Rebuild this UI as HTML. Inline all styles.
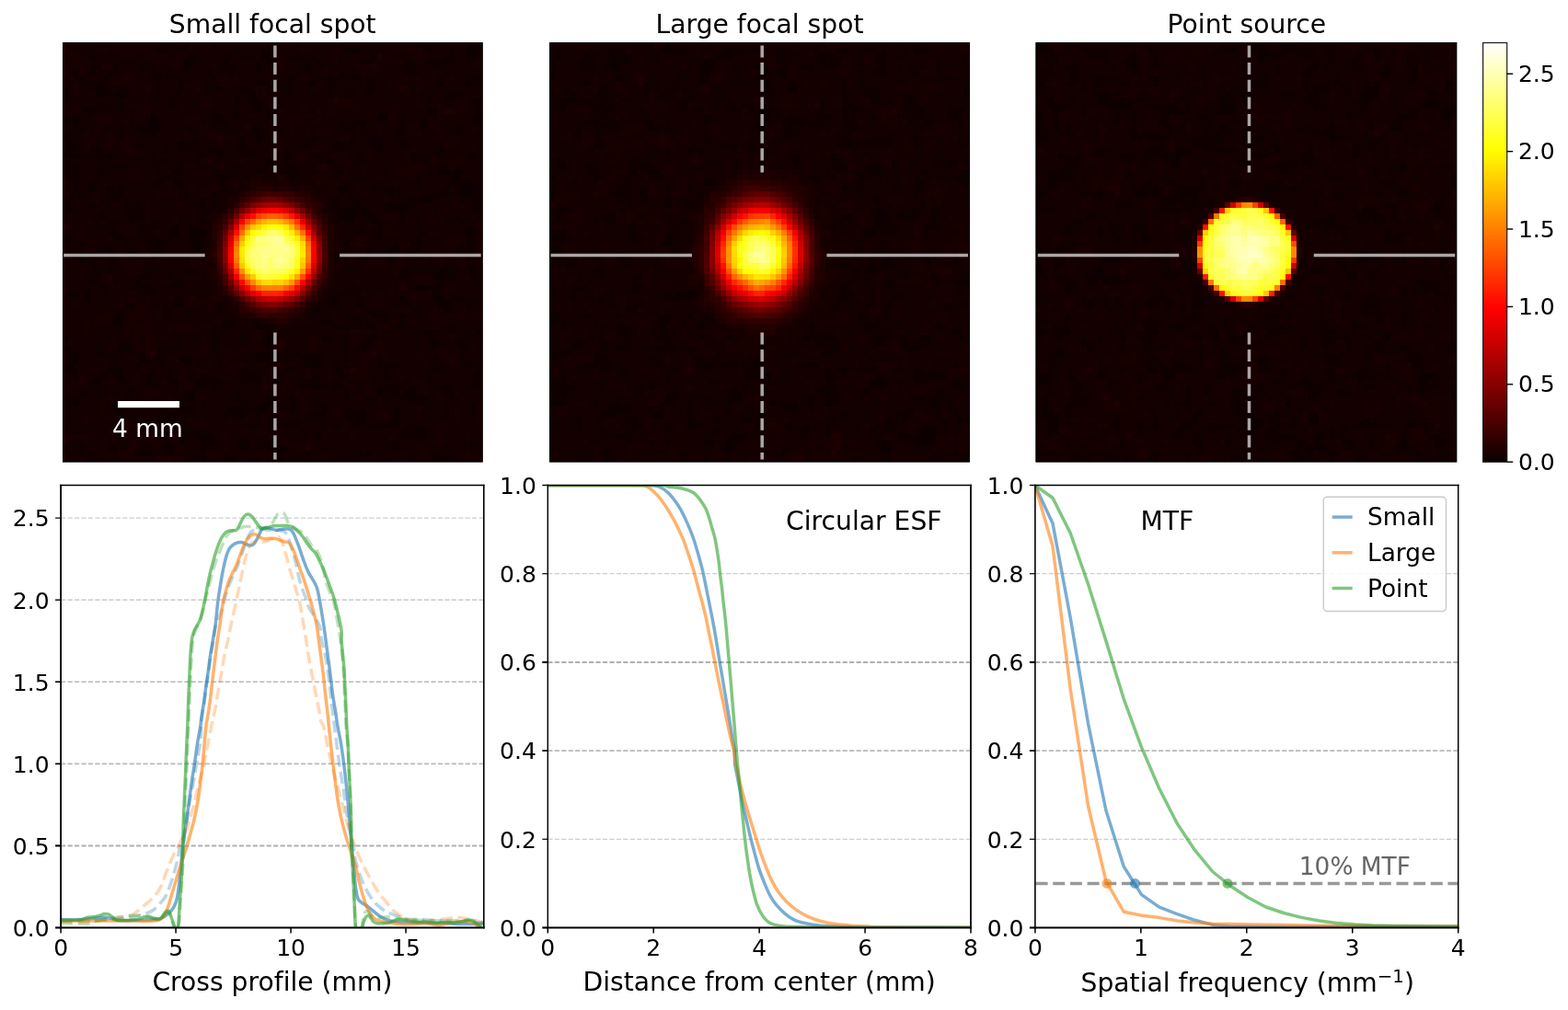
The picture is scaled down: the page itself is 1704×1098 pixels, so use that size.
<!DOCTYPE html>
<html lang="en"><head><meta charset="utf-8"><title>Focal spot comparison</title>
<style>html,body{margin:0;padding:0;background:#fff}body{width:1704px;height:1098px;overflow:hidden}svg{display:block}text{font-family:"DejaVu Sans", "Liberation Sans", sans-serif;font-variant-ligatures:none;font-feature-settings:"liga" 0,"clig" 0}</style>
</head><body>
<svg width="1704" height="1098" viewBox="0 0 1704 1098">
<defs>
<linearGradient id="hot" x1="0" y1="1" x2="0" y2="0"><stop offset="0" stop-color="#0b0000"/><stop offset="0.365079" stop-color="#ff0000"/><stop offset="0.746032" stop-color="#ffff00"/><stop offset="1" stop-color="#ffffff"/></linearGradient>
<clipPath id="cp0"><rect x="66.1" y="527.5" width="459.7" height="481"/></clipPath>
<clipPath id="cp1"><rect x="595.3" y="527.5" width="459.7" height="481"/></clipPath>
<clipPath id="cp2"><rect x="1124.9" y="527.5" width="459.8" height="481"/></clipPath>
</defs>
<rect width="1704" height="1098" fill="#fff"/>
<rect x="68" y="46.1" width="456.6" height="456.3" fill="#0a0000"/>
<g transform="translate(67.9 46.4) scale(6.00000)" shape-rendering="crispEdges">
<rect width="76" height="76" fill="#130000"/>
<path fill="#0d0000" d="M66 0h1v1h-1zM74 0h2v1h-2zM52 1h1v1h-1zM73 1h2v1h-2zM36 2h2v1h-2zM22 3h1v1h-1zM37 3h1v1h-1zM69 3h1v1h-1zM35 4h1v1h-1zM44 4h1v1h-1zM62 4h2v1h-2zM48 6h1v1h-1zM48 7h1v1h-1zM68 7h1v1h-1zM73 7h1v1h-1zM6 8h2v1h-2zM40 8h1v1h-1zM10 9h1v1h-1zM20 9h1v1h-1zM34 9h1v1h-1zM19 11h1v1h-1zM4 12h1v1h-1zM31 13h1v1h-1zM37 13h1v1h-1zM57 13h2v1h-2zM75 13h1v1h-1zM0 14h1v1h-1zM2 14h1v1h-1zM15 14h3v1h-3zM53 14h2v1h-2zM65 14h1v1h-1zM15 15h3v1h-3zM35 16h1v1h-1zM55 16h1v1h-1zM0 17h1v1h-1zM35 17h1v1h-1zM56 17h1v1h-1zM56 18h2v1h-2zM1 19h1v1h-1zM6 19h1v1h-1zM26 19h1v1h-1zM68 19h1v1h-1zM0 20h3v1h-3zM37 21h1v1h-1zM6 23h1v1h-1zM42 23h1v1h-1zM68 23h1v1h-1zM71 23h1v1h-1zM28 24h1v1h-1zM71 24h1v1h-1zM2 25h1v1h-1zM28 25h1v1h-1zM73 25h1v1h-1zM5 26h1v1h-1zM72 26h3v1h-3zM69 27h1v1h-1zM72 27h2v1h-2zM66 28h1v1h-1zM53 29h1v1h-1zM59 29h1v1h-1zM62 29h1v1h-1zM51 30h2v1h-2zM54 30h1v1h-1zM12 31h1v1h-1zM50 31h2v1h-2zM54 31h1v1h-1zM56 32h1v1h-1zM23 34h3v1h-3zM73 34h1v1h-1zM17 36h1v1h-1zM24 36h1v1h-1zM8 37h1v1h-1zM24 37h1v1h-1zM55 37h1v1h-1zM59 37h2v1h-2zM12 38h1v1h-1zM59 38h1v1h-1zM8 40h1v1h-1zM68 41h2v1h-2zM74 41h1v1h-1zM68 42h1v1h-1zM21 43h1v1h-1zM64 44h2v1h-2zM67 45h1v1h-1zM49 46h1v1h-1zM61 46h1v1h-1zM67 46h2v1h-2zM20 47h2v1h-2zM68 47h2v1h-2zM10 49h1v1h-1zM10 50h1v1h-1zM35 51h1v1h-1zM75 52h1v1h-1zM37 53h1v1h-1zM37 54h1v1h-1zM55 54h1v1h-1zM66 54h2v1h-2zM10 55h2v1h-2zM35 56h2v1h-2zM14 57h1v1h-1zM22 57h1v1h-1zM35 57h1v1h-1zM44 57h2v1h-2zM51 57h1v1h-1zM73 57h1v1h-1zM1 58h1v1h-1zM45 58h2v1h-2zM9 59h2v1h-2zM15 60h1v1h-1zM34 60h1v1h-1zM24 61h2v1h-2zM45 62h2v1h-2zM62 63h2v1h-2zM23 64h1v1h-1zM63 64h1v1h-1zM2 65h1v1h-1zM9 65h2v1h-2zM36 65h1v1h-1zM18 66h1v1h-1zM30 66h2v1h-2zM36 66h1v1h-1zM47 66h1v1h-1zM74 66h1v1h-1zM20 67h1v1h-1zM32 67h1v1h-1zM53 67h2v1h-2zM60 67h1v1h-1zM54 68h1v1h-1zM58 69h1v1h-1zM21 70h1v1h-1zM64 70h2v1h-2zM18 71h1v1h-1zM24 71h3v1h-3zM25 72h1v1h-1zM32 72h1v1h-1zM74 72h1v1h-1zM3 73h1v1h-1zM19 73h1v1h-1zM38 73h2v1h-2zM14 74h1v1h-1zM39 74h1v1h-1zM29 75h2v1h-2zM67 75h1v1h-1zM69 75h1v1h-1z"/>
<path fill="#0f0000" d="M22 0h1v1h-1zM27 0h1v1h-1zM53 1h1v1h-1zM74 2h1v1h-1zM29 3h1v1h-1zM22 4h1v1h-1zM5 5h1v1h-1zM19 5h1v1h-1zM30 5h1v1h-1zM53 6h1v1h-1zM7 7h1v1h-1zM45 7h1v1h-1zM28 8h1v1h-1zM32 8h2v1h-2zM55 8h1v1h-1zM58 8h1v1h-1zM6 9h2v1h-2zM70 9h1v1h-1zM34 10h1v1h-1zM35 11h1v1h-1zM34 12h1v1h-1zM45 12h1v1h-1zM66 12h1v1h-1zM4 13h1v1h-1zM16 13h1v1h-1zM27 13h2v1h-2zM38 13h1v1h-1zM14 15h1v1h-1zM65 15h1v1h-1zM0 16h1v1h-1zM16 16h1v1h-1zM24 16h1v1h-1zM29 16h1v1h-1zM57 17h1v1h-1zM1 18h1v1h-1zM13 18h1v1h-1zM21 18h1v1h-1zM32 18h1v1h-1zM49 18h1v1h-1zM21 19h1v1h-1zM25 19h1v1h-1zM28 19h1v1h-1zM32 19h1v1h-1zM57 19h1v1h-1zM8 20h1v1h-1zM28 20h1v1h-1zM40 20h1v1h-1zM48 21h1v1h-1zM31 22h1v1h-1zM2 23h1v1h-1zM20 23h1v1h-1zM45 23h1v1h-1zM69 23h1v1h-1zM1 24h1v1h-1zM29 24h1v1h-1zM41 24h1v1h-1zM5 25h1v1h-1zM17 25h1v1h-1zM20 25h2v1h-2zM8 26h1v1h-1zM50 26h2v1h-2zM69 26h1v1h-1zM10 27h1v1h-1zM74 27h1v1h-1zM25 28h1v1h-1zM65 28h1v1h-1zM48 29h1v1h-1zM61 29h1v1h-1zM74 29h1v1h-1zM60 30h2v1h-2zM7 31h1v1h-1zM52 31h1v1h-1zM55 31h1v1h-1zM16 33h1v1h-1zM20 33h1v1h-1zM20 34h1v1h-1zM57 34h1v1h-1zM0 35h1v1h-1zM10 35h1v1h-1zM15 35h1v1h-1zM23 35h2v1h-2zM3 36h1v1h-1zM15 36h1v1h-1zM23 36h1v1h-1zM64 36h1v1h-1zM15 37h1v1h-1zM17 37h1v1h-1zM25 37h1v1h-1zM64 37h1v1h-1zM8 38h1v1h-1zM3 39h1v1h-1zM9 40h1v1h-1zM16 40h1v1h-1zM69 40h1v1h-1zM62 41h1v1h-1zM14 42h1v1h-1zM12 43h2v1h-2zM15 44h1v1h-1zM20 44h1v1h-1zM51 44h1v1h-1zM1 45h1v1h-1zM4 45h1v1h-1zM4 46h1v1h-1zM21 46h1v1h-1zM54 46h1v1h-1zM71 46h1v1h-1zM16 47h1v1h-1zM69 48h1v1h-1zM56 49h1v1h-1zM61 49h1v1h-1zM9 50h1v1h-1zM48 50h1v1h-1zM29 51h1v1h-1zM66 52h1v1h-1zM24 53h1v1h-1zM47 53h1v1h-1zM11 54h1v1h-1zM54 54h1v1h-1zM72 54h1v1h-1zM0 55h1v1h-1zM51 55h1v1h-1zM54 55h1v1h-1zM27 56h1v1h-1zM37 56h1v1h-1zM2 57h1v1h-1zM21 57h1v1h-1zM36 57h1v1h-1zM46 57h1v1h-1zM1 59h1v1h-1zM49 59h1v1h-1zM10 60h1v1h-1zM25 60h1v1h-1zM75 60h1v1h-1zM6 61h1v1h-1zM15 61h1v1h-1zM20 61h1v1h-1zM45 61h1v1h-1zM69 62h1v1h-1zM13 63h1v1h-1zM23 63h1v1h-1zM51 63h1v1h-1zM57 63h1v1h-1zM38 64h1v1h-1zM37 65h1v1h-1zM41 65h1v1h-1zM9 66h3v1h-3zM17 66h1v1h-1zM21 66h3v1h-3zM32 66h1v1h-1zM31 67h1v1h-1zM45 67h1v1h-1zM52 67h1v1h-1zM18 68h1v1h-1zM53 68h1v1h-1zM60 68h1v1h-1zM40 69h3v1h-3zM59 69h1v1h-1zM23 70h2v1h-2zM62 70h1v1h-1zM21 71h1v1h-1zM46 71h1v1h-1zM64 71h2v1h-2zM26 72h2v1h-2zM25 73h1v1h-1zM15 74h1v1h-1zM19 74h1v1h-1zM55 74h1v1h-1zM25 75h1v1h-1z"/>
<path fill="#110000" d="M17 0h4v1h-4zM37 0h2v1h-2zM42 0h1v1h-1zM47 0h2v1h-2zM50 0h1v1h-1zM56 0h1v1h-1zM65 0h1v1h-1zM67 0h1v1h-1zM73 0h1v1h-1zM17 1h2v1h-2zM31 1h2v1h-2zM34 1h1v1h-1zM36 1h2v1h-2zM51 1h1v1h-1zM66 1h1v1h-1zM70 1h1v1h-1zM75 1h1v1h-1zM5 2h1v1h-1zM8 2h1v1h-1zM23 2h1v1h-1zM29 2h2v1h-2zM32 2h3v1h-3zM41 2h3v1h-3zM45 2h1v1h-1zM50 2h1v1h-1zM56 2h1v1h-1zM69 2h2v1h-2zM73 2h1v1h-1zM10 3h4v1h-4zM16 3h1v1h-1zM23 3h1v1h-1zM38 3h1v1h-1zM44 3h1v1h-1zM46 3h1v1h-1zM50 3h1v1h-1zM54 3h2v1h-2zM62 3h1v1h-1zM66 3h3v1h-3zM70 3h2v1h-2zM73 3h1v1h-1zM5 4h2v1h-2zM9 4h1v1h-1zM14 4h3v1h-3zM23 4h1v1h-1zM29 4h2v1h-2zM33 4h2v1h-2zM43 4h1v1h-1zM46 4h1v1h-1zM48 4h1v1h-1zM59 4h1v1h-1zM61 4h1v1h-1zM66 4h4v1h-4zM2 5h1v1h-1zM8 5h2v1h-2zM16 5h2v1h-2zM21 5h2v1h-2zM25 5h2v1h-2zM35 5h1v1h-1zM42 5h1v1h-1zM44 5h2v1h-2zM50 5h3v1h-3zM62 5h3v1h-3zM69 5h1v1h-1zM3 6h1v1h-1zM7 6h1v1h-1zM16 6h2v1h-2zM19 6h3v1h-3zM27 6h1v1h-1zM40 6h2v1h-2zM45 6h1v1h-1zM49 6h2v1h-2zM52 6h1v1h-1zM55 6h2v1h-2zM68 6h1v1h-1zM74 6h2v1h-2zM4 7h3v1h-3zM17 7h1v1h-1zM21 7h1v1h-1zM26 7h2v1h-2zM35 7h2v1h-2zM38 7h4v1h-4zM44 7h1v1h-1zM49 7h1v1h-1zM53 7h1v1h-1zM55 7h3v1h-3zM75 7h1v1h-1zM0 8h1v1h-1zM5 8h1v1h-1zM8 8h1v1h-1zM10 8h2v1h-2zM17 8h1v1h-1zM26 8h2v1h-2zM37 8h3v1h-3zM41 8h1v1h-1zM48 8h1v1h-1zM51 8h2v1h-2zM56 8h2v1h-2zM66 8h1v1h-1zM0 9h1v1h-1zM9 9h1v1h-1zM11 9h1v1h-1zM17 9h1v1h-1zM26 9h1v1h-1zM33 9h1v1h-1zM39 9h2v1h-2zM48 9h1v1h-1zM51 9h2v1h-2zM55 9h1v1h-1zM65 9h2v1h-2zM69 9h1v1h-1zM71 9h2v1h-2zM0 10h1v1h-1zM9 10h2v1h-2zM16 10h2v1h-2zM19 10h2v1h-2zM31 10h3v1h-3zM35 10h1v1h-1zM56 10h1v1h-1zM59 10h1v1h-1zM66 10h1v1h-1zM69 10h2v1h-2zM74 10h2v1h-2zM6 11h5v1h-5zM20 11h1v1h-1zM23 11h1v1h-1zM34 11h1v1h-1zM39 11h1v1h-1zM42 11h1v1h-1zM44 11h1v1h-1zM57 11h1v1h-1zM75 11h1v1h-1zM5 12h4v1h-4zM10 12h1v1h-1zM25 12h1v1h-1zM27 12h1v1h-1zM31 12h1v1h-1zM33 12h1v1h-1zM35 12h1v1h-1zM37 12h2v1h-2zM42 12h1v1h-1zM44 12h1v1h-1zM57 12h1v1h-1zM62 12h2v1h-2zM67 12h1v1h-1zM75 12h1v1h-1zM0 13h1v1h-1zM2 13h2v1h-2zM15 13h1v1h-1zM25 13h1v1h-1zM30 13h1v1h-1zM52 13h2v1h-2zM74 13h1v1h-1zM1 14h1v1h-1zM12 14h1v1h-1zM25 14h1v1h-1zM27 14h3v1h-3zM34 14h3v1h-3zM38 14h1v1h-1zM50 14h1v1h-1zM52 14h1v1h-1zM58 14h1v1h-1zM61 14h1v1h-1zM74 14h2v1h-2zM2 15h2v1h-2zM9 15h2v1h-2zM12 15h2v1h-2zM21 15h3v1h-3zM27 15h1v1h-1zM29 15h1v1h-1zM34 15h2v1h-2zM38 15h2v1h-2zM42 15h2v1h-2zM50 15h3v1h-3zM54 15h1v1h-1zM60 15h2v1h-2zM71 15h3v1h-3zM1 16h2v1h-2zM9 16h2v1h-2zM12 16h1v1h-1zM14 16h2v1h-2zM21 16h1v1h-1zM30 16h2v1h-2zM39 16h1v1h-1zM42 16h1v1h-1zM52 16h1v1h-1zM54 16h1v1h-1zM60 16h2v1h-2zM66 16h2v1h-2zM70 16h3v1h-3zM75 16h1v1h-1zM1 17h2v1h-2zM10 17h1v1h-1zM32 17h1v1h-1zM45 17h1v1h-1zM47 17h1v1h-1zM52 17h1v1h-1zM54 17h2v1h-2zM58 17h1v1h-1zM60 17h1v1h-1zM0 18h1v1h-1zM2 18h1v1h-1zM14 18h1v1h-1zM18 18h1v1h-1zM22 18h3v1h-3zM31 18h1v1h-1zM42 18h1v1h-1zM44 18h1v1h-1zM50 18h1v1h-1zM52 18h1v1h-1zM55 18h1v1h-1zM61 18h2v1h-2zM67 18h2v1h-2zM0 19h1v1h-1zM2 19h1v1h-1zM5 19h1v1h-1zM16 19h1v1h-1zM18 19h2v1h-2zM22 19h3v1h-3zM27 19h1v1h-1zM29 19h1v1h-1zM31 19h1v1h-1zM34 19h2v1h-2zM40 19h2v1h-2zM49 19h5v1h-5zM56 19h1v1h-1zM58 19h1v1h-1zM66 19h2v1h-2zM73 19h1v1h-1zM3 20h5v1h-5zM9 20h1v1h-1zM16 20h1v1h-1zM22 20h1v1h-1zM24 20h2v1h-2zM32 20h3v1h-3zM45 20h2v1h-2zM53 20h1v1h-1zM58 20h1v1h-1zM60 20h1v1h-1zM63 20h3v1h-3zM68 20h2v1h-2zM73 20h2v1h-2zM0 21h1v1h-1zM3 21h1v1h-1zM6 21h1v1h-1zM8 21h1v1h-1zM14 21h1v1h-1zM16 21h4v1h-4zM21 21h1v1h-1zM24 21h1v1h-1zM36 21h1v1h-1zM40 21h1v1h-1zM46 21h2v1h-2zM53 21h2v1h-2zM63 21h3v1h-3zM74 21h1v1h-1zM0 22h4v1h-4zM6 22h6v1h-6zM15 22h3v1h-3zM21 22h1v1h-1zM32 22h1v1h-1zM35 22h3v1h-3zM40 22h3v1h-3zM45 22h1v1h-1zM56 22h1v1h-1zM58 22h1v1h-1zM66 22h1v1h-1zM68 22h2v1h-2zM75 22h1v1h-1zM0 23h2v1h-2zM5 23h1v1h-1zM7 23h1v1h-1zM17 23h1v1h-1zM21 23h1v1h-1zM28 23h5v1h-5zM35 23h2v1h-2zM39 23h3v1h-3zM49 23h2v1h-2zM56 23h1v1h-1zM58 23h1v1h-1zM66 23h1v1h-1zM70 23h1v1h-1zM72 23h1v1h-1zM2 24h2v1h-2zM6 24h1v1h-1zM17 24h2v1h-2zM20 24h1v1h-1zM33 24h1v1h-1zM42 24h1v1h-1zM53 24h1v1h-1zM64 24h1v1h-1zM68 24h1v1h-1zM70 24h1v1h-1zM1 25h1v1h-1zM6 25h1v1h-1zM12 25h1v1h-1zM16 25h1v1h-1zM25 25h1v1h-1zM29 25h1v1h-1zM51 25h1v1h-1zM62 25h3v1h-3zM70 25h3v1h-3zM74 25h2v1h-2zM2 26h1v1h-1zM4 26h1v1h-1zM6 26h1v1h-1zM10 26h1v1h-1zM15 26h1v1h-1zM21 26h1v1h-1zM29 26h1v1h-1zM56 26h1v1h-1zM58 26h2v1h-2zM61 26h1v1h-1zM65 26h1v1h-1zM75 26h1v1h-1zM3 27h2v1h-2zM8 27h2v1h-2zM22 27h1v1h-1zM27 27h1v1h-1zM50 27h1v1h-1zM52 27h1v1h-1zM59 27h1v1h-1zM61 27h1v1h-1zM65 27h4v1h-4zM75 27h1v1h-1zM1 28h1v1h-1zM3 28h1v1h-1zM7 28h3v1h-3zM11 28h1v1h-1zM21 28h2v1h-2zM48 28h2v1h-2zM52 28h2v1h-2zM56 28h1v1h-1zM61 28h4v1h-4zM67 28h1v1h-1zM72 28h4v1h-4zM0 29h2v1h-2zM4 29h2v1h-2zM8 29h1v1h-1zM11 29h3v1h-3zM16 29h1v1h-1zM19 29h1v1h-1zM25 29h1v1h-1zM27 29h1v1h-1zM49 29h1v1h-1zM51 29h2v1h-2zM56 29h3v1h-3zM60 29h1v1h-1zM63 29h1v1h-1zM67 29h1v1h-1zM73 29h1v1h-1zM75 29h1v1h-1zM0 30h2v1h-2zM7 30h2v1h-2zM11 30h4v1h-4zM26 30h1v1h-1zM49 30h2v1h-2zM53 30h1v1h-1zM55 30h1v1h-1zM58 30h2v1h-2zM62 30h1v1h-1zM74 30h2v1h-2zM0 31h1v1h-1zM5 31h2v1h-2zM11 31h1v1h-1zM13 31h2v1h-2zM56 31h1v1h-1zM61 31h1v1h-1zM70 31h2v1h-2zM6 32h1v1h-1zM9 32h1v1h-1zM12 32h1v1h-1zM16 32h2v1h-2zM24 32h2v1h-2zM51 32h2v1h-2zM57 32h1v1h-1zM61 32h1v1h-1zM64 32h1v1h-1zM69 32h2v1h-2zM72 32h1v1h-1zM6 33h2v1h-2zM14 33h2v1h-2zM17 33h1v1h-1zM23 33h2v1h-2zM53 33h1v1h-1zM57 33h1v1h-1zM69 33h1v1h-1zM72 33h2v1h-2zM6 34h1v1h-1zM8 34h2v1h-2zM14 34h2v1h-2zM19 34h1v1h-1zM50 34h1v1h-1zM52 34h3v1h-3zM56 34h1v1h-1zM65 34h1v1h-1zM72 34h1v1h-1zM74 34h1v1h-1zM1 35h1v1h-1zM9 35h1v1h-1zM11 35h2v1h-2zM16 35h1v1h-1zM19 35h1v1h-1zM25 35h1v1h-1zM56 35h2v1h-2zM62 35h3v1h-3zM73 35h2v1h-2zM0 36h3v1h-3zM7 36h1v1h-1zM11 36h2v1h-2zM16 36h1v1h-1zM18 36h1v1h-1zM25 36h1v1h-1zM51 36h1v1h-1zM58 36h1v1h-1zM60 36h1v1h-1zM63 36h1v1h-1zM67 36h1v1h-1zM73 36h2v1h-2zM1 37h2v1h-2zM6 37h2v1h-2zM9 37h1v1h-1zM11 37h3v1h-3zM16 37h1v1h-1zM18 37h1v1h-1zM23 37h1v1h-1zM56 37h1v1h-1zM58 37h1v1h-1zM62 37h2v1h-2zM71 37h4v1h-4zM0 38h4v1h-4zM11 38h1v1h-1zM13 38h1v1h-1zM16 38h2v1h-2zM50 38h1v1h-1zM58 38h1v1h-1zM62 38h2v1h-2zM2 39h1v1h-1zM4 39h2v1h-2zM8 39h2v1h-2zM19 39h1v1h-1zM21 39h2v1h-2zM54 39h1v1h-1zM59 39h1v1h-1zM5 40h3v1h-3zM17 40h1v1h-1zM19 40h3v1h-3zM51 40h1v1h-1zM53 40h1v1h-1zM62 40h3v1h-3zM67 40h1v1h-1zM70 40h1v1h-1zM73 40h2v1h-2zM1 41h1v1h-1zM5 41h2v1h-2zM8 41h3v1h-3zM15 41h3v1h-3zM19 41h1v1h-1zM22 41h2v1h-2zM51 41h3v1h-3zM61 41h1v1h-1zM63 41h1v1h-1zM65 41h1v1h-1zM67 41h1v1h-1zM70 41h2v1h-2zM4 42h3v1h-3zM10 42h1v1h-1zM15 42h1v1h-1zM19 42h1v1h-1zM21 42h1v1h-1zM54 42h1v1h-1zM59 42h1v1h-1zM61 42h2v1h-2zM67 42h1v1h-1zM69 42h3v1h-3zM74 42h1v1h-1zM5 43h2v1h-2zM9 43h1v1h-1zM20 43h1v1h-1zM62 43h1v1h-1zM68 43h1v1h-1zM74 43h1v1h-1zM7 44h1v1h-1zM12 44h3v1h-3zM16 44h1v1h-1zM19 44h1v1h-1zM21 44h1v1h-1zM52 44h2v1h-2zM57 44h1v1h-1zM66 44h3v1h-3zM2 45h1v1h-1zM6 45h2v1h-2zM9 45h1v1h-1zM14 45h3v1h-3zM18 45h1v1h-1zM21 45h1v1h-1zM48 45h6v1h-6zM68 45h1v1h-1zM71 45h1v1h-1zM20 46h1v1h-1zM48 46h1v1h-1zM53 46h1v1h-1zM60 46h1v1h-1zM72 46h2v1h-2zM12 47h1v1h-1zM18 47h1v1h-1zM28 47h1v1h-1zM47 47h3v1h-3zM53 47h2v1h-2zM60 47h1v1h-1zM62 47h1v1h-1zM70 47h1v1h-1zM73 47h2v1h-2zM3 48h1v1h-1zM10 48h1v1h-1zM18 48h2v1h-2zM22 48h2v1h-2zM28 48h1v1h-1zM44 48h3v1h-3zM55 48h2v1h-2zM64 48h1v1h-1zM70 48h1v1h-1zM2 49h1v1h-1zM9 49h1v1h-1zM18 49h2v1h-2zM22 49h1v1h-1zM51 49h1v1h-1zM57 49h2v1h-2zM18 50h2v1h-2zM24 50h1v1h-1zM29 50h2v1h-2zM46 50h2v1h-2zM52 50h2v1h-2zM58 50h1v1h-1zM61 50h1v1h-1zM71 50h1v1h-1zM9 51h2v1h-2zM30 51h1v1h-1zM36 51h1v1h-1zM49 51h1v1h-1zM51 51h1v1h-1zM53 51h1v1h-1zM55 51h2v1h-2zM61 51h1v1h-1zM70 51h5v1h-5zM20 52h1v1h-1zM27 52h2v1h-2zM37 52h1v1h-1zM43 52h1v1h-1zM62 52h1v1h-1zM65 52h1v1h-1zM67 52h2v1h-2zM70 52h3v1h-3zM0 53h1v1h-1zM20 53h1v1h-1zM27 53h1v1h-1zM29 53h1v1h-1zM32 53h1v1h-1zM36 53h1v1h-1zM38 53h1v1h-1zM41 53h1v1h-1zM48 53h1v1h-1zM51 53h1v1h-1zM55 53h2v1h-2zM63 53h1v1h-1zM66 53h2v1h-2zM73 53h1v1h-1zM75 53h1v1h-1zM10 54h1v1h-1zM19 54h3v1h-3zM27 54h1v1h-1zM29 54h1v1h-1zM32 54h2v1h-2zM36 54h1v1h-1zM41 54h1v1h-1zM48 54h1v1h-1zM50 54h2v1h-2zM68 54h1v1h-1zM71 54h1v1h-1zM73 54h1v1h-1zM1 55h1v1h-1zM6 55h1v1h-1zM12 55h1v1h-1zM17 55h4v1h-4zM27 55h1v1h-1zM37 55h1v1h-1zM42 55h2v1h-2zM53 55h1v1h-1zM62 55h3v1h-3zM67 55h1v1h-1zM72 55h1v1h-1zM1 56h2v1h-2zM6 56h2v1h-2zM9 56h2v1h-2zM14 56h1v1h-1zM18 56h1v1h-1zM33 56h2v1h-2zM38 56h1v1h-1zM40 56h3v1h-3zM44 56h4v1h-4zM51 56h1v1h-1zM72 56h1v1h-1zM1 57h1v1h-1zM9 57h1v1h-1zM15 57h3v1h-3zM23 57h2v1h-2zM28 57h1v1h-1zM32 57h2v1h-2zM37 57h2v1h-2zM40 57h2v1h-2zM43 57h1v1h-1zM49 57h1v1h-1zM57 57h1v1h-1zM67 57h1v1h-1zM72 57h1v1h-1zM74 57h1v1h-1zM0 58h1v1h-1zM5 58h1v1h-1zM8 58h3v1h-3zM12 58h2v1h-2zM16 58h2v1h-2zM22 58h1v1h-1zM24 58h1v1h-1zM28 58h1v1h-1zM34 58h1v1h-1zM37 58h1v1h-1zM43 58h2v1h-2zM49 58h1v1h-1zM57 58h5v1h-5zM67 58h2v1h-2zM72 58h4v1h-4zM0 59h1v1h-1zM2 59h1v1h-1zM8 59h1v1h-1zM19 59h1v1h-1zM32 59h2v1h-2zM40 59h1v1h-1zM45 59h1v1h-1zM50 59h1v1h-1zM58 59h1v1h-1zM67 59h2v1h-2zM75 59h1v1h-1zM2 60h1v1h-1zM6 60h2v1h-2zM9 60h1v1h-1zM16 60h2v1h-2zM19 60h1v1h-1zM23 60h1v1h-1zM26 60h2v1h-2zM32 60h2v1h-2zM35 60h1v1h-1zM39 60h1v1h-1zM45 60h2v1h-2zM50 60h1v1h-1zM56 60h1v1h-1zM58 60h2v1h-2zM66 60h1v1h-1zM74 60h1v1h-1zM5 61h1v1h-1zM10 61h2v1h-2zM16 61h1v1h-1zM19 61h1v1h-1zM26 61h3v1h-3zM30 61h1v1h-1zM32 61h4v1h-4zM38 61h2v1h-2zM43 61h2v1h-2zM46 61h2v1h-2zM49 61h1v1h-1zM56 61h2v1h-2zM60 61h1v1h-1zM62 61h1v1h-1zM66 61h1v1h-1zM74 61h2v1h-2zM7 62h1v1h-1zM10 62h2v1h-2zM16 62h1v1h-1zM20 62h1v1h-1zM24 62h2v1h-2zM27 62h1v1h-1zM43 62h1v1h-1zM47 62h1v1h-1zM49 62h2v1h-2zM53 62h1v1h-1zM57 62h5v1h-5zM63 62h1v1h-1zM66 62h3v1h-3zM70 62h1v1h-1zM74 62h2v1h-2zM3 63h2v1h-2zM6 63h2v1h-2zM9 63h1v1h-1zM11 63h2v1h-2zM20 63h1v1h-1zM22 63h1v1h-1zM31 63h2v1h-2zM58 63h3v1h-3zM67 63h1v1h-1zM69 63h2v1h-2zM0 64h3v1h-3zM6 64h1v1h-1zM11 64h3v1h-3zM22 64h1v1h-1zM31 64h3v1h-3zM37 64h1v1h-1zM41 64h1v1h-1zM45 64h1v1h-1zM51 64h1v1h-1zM55 64h2v1h-2zM58 64h1v1h-1zM61 64h2v1h-2zM64 64h2v1h-2zM67 64h1v1h-1zM1 65h1v1h-1zM11 65h1v1h-1zM14 65h2v1h-2zM18 65h1v1h-1zM21 65h1v1h-1zM23 65h1v1h-1zM25 65h1v1h-1zM27 65h1v1h-1zM32 65h4v1h-4zM38 65h3v1h-3zM42 65h1v1h-1zM45 65h3v1h-3zM55 65h1v1h-1zM60 65h1v1h-1zM63 65h4v1h-4zM69 65h1v1h-1zM71 65h4v1h-4zM4 66h2v1h-2zM25 66h1v1h-1zM27 66h1v1h-1zM33 66h3v1h-3zM41 66h1v1h-1zM48 66h1v1h-1zM51 66h4v1h-4zM60 66h1v1h-1zM65 66h2v1h-2zM69 66h1v1h-1zM72 66h2v1h-2zM1 67h1v1h-1zM10 67h2v1h-2zM17 67h1v1h-1zM19 67h1v1h-1zM21 67h3v1h-3zM28 67h3v1h-3zM35 67h1v1h-1zM46 67h2v1h-2zM51 67h1v1h-1zM61 67h1v1h-1zM65 67h1v1h-1zM69 67h1v1h-1zM73 67h2v1h-2zM1 68h2v1h-2zM9 68h1v1h-1zM17 68h1v1h-1zM19 68h2v1h-2zM26 68h1v1h-1zM38 68h1v1h-1zM41 68h2v1h-2zM44 68h4v1h-4zM52 68h1v1h-1zM55 68h1v1h-1zM59 68h1v1h-1zM63 68h1v1h-1zM65 68h2v1h-2zM68 68h1v1h-1zM73 68h1v1h-1zM0 69h1v1h-1zM3 69h1v1h-1zM5 69h1v1h-1zM9 69h1v1h-1zM18 69h5v1h-5zM33 69h3v1h-3zM37 69h1v1h-1zM49 69h1v1h-1zM52 69h2v1h-2zM55 69h3v1h-3zM60 69h1v1h-1zM62 69h3v1h-3zM0 70h1v1h-1zM2 70h1v1h-1zM7 70h1v1h-1zM18 70h1v1h-1zM22 70h1v1h-1zM25 70h2v1h-2zM43 70h1v1h-1zM46 70h1v1h-1zM54 70h1v1h-1zM61 70h1v1h-1zM63 70h1v1h-1zM66 70h1v1h-1zM72 70h1v1h-1zM75 70h1v1h-1zM10 71h1v1h-1zM17 71h1v1h-1zM22 71h2v1h-2zM27 71h1v1h-1zM32 71h1v1h-1zM38 71h1v1h-1zM43 71h1v1h-1zM45 71h1v1h-1zM51 71h1v1h-1zM58 71h1v1h-1zM61 71h3v1h-3zM70 71h1v1h-1zM8 72h1v1h-1zM11 72h1v1h-1zM21 72h2v1h-2zM24 72h1v1h-1zM28 72h1v1h-1zM31 72h1v1h-1zM33 72h1v1h-1zM36 72h3v1h-3zM46 72h1v1h-1zM49 72h1v1h-1zM51 72h1v1h-1zM57 72h5v1h-5zM0 73h1v1h-1zM8 73h2v1h-2zM14 73h2v1h-2zM18 73h1v1h-1zM27 73h1v1h-1zM32 73h2v1h-2zM37 73h1v1h-1zM40 73h1v1h-1zM47 73h2v1h-2zM52 73h2v1h-2zM55 73h2v1h-2zM59 73h4v1h-4zM69 73h2v1h-2zM72 73h1v1h-1zM1 74h1v1h-1zM3 74h1v1h-1zM5 74h1v1h-1zM13 74h1v1h-1zM16 74h1v1h-1zM25 74h1v1h-1zM29 74h1v1h-1zM38 74h1v1h-1zM40 74h1v1h-1zM43 74h2v1h-2zM52 74h3v1h-3zM63 74h1v1h-1zM67 74h3v1h-3zM5 75h2v1h-2zM16 75h1v1h-1zM23 75h2v1h-2zM31 75h1v1h-1zM34 75h2v1h-2zM39 75h1v1h-1zM41 75h3v1h-3zM49 75h4v1h-4zM59 75h1v1h-1zM63 75h1v1h-1zM68 75h1v1h-1zM70 75h1v1h-1z"/>
<path fill="#150000" d="M0 0h1v1h-1zM2 0h2v1h-2zM6 0h3v1h-3zM12 0h5v1h-5zM21 0h1v1h-1zM23 0h4v1h-4zM28 0h3v1h-3zM32 0h2v1h-2zM39 0h1v1h-1zM41 0h1v1h-1zM43 0h1v1h-1zM51 0h1v1h-1zM55 0h1v1h-1zM57 0h1v1h-1zM60 0h3v1h-3zM64 0h1v1h-1zM68 0h1v1h-1zM70 0h1v1h-1zM1 1h4v1h-4zM8 1h2v1h-2zM16 1h1v1h-1zM19 1h3v1h-3zM23 1h2v1h-2zM26 1h3v1h-3zM30 1h1v1h-1zM33 1h1v1h-1zM38 1h1v1h-1zM40 1h1v1h-1zM42 1h1v1h-1zM46 1h3v1h-3zM54 1h1v1h-1zM67 1h3v1h-3zM72 1h1v1h-1zM0 2h1v1h-1zM4 2h1v1h-1zM6 2h1v1h-1zM9 2h2v1h-2zM13 2h2v1h-2zM19 2h1v1h-1zM25 2h1v1h-1zM27 2h2v1h-2zM35 2h1v1h-1zM44 2h1v1h-1zM47 2h2v1h-2zM51 2h5v1h-5zM59 2h1v1h-1zM61 2h2v1h-2zM66 2h3v1h-3zM71 2h2v1h-2zM75 2h1v1h-1zM0 3h1v1h-1zM5 3h2v1h-2zM14 3h2v1h-2zM24 3h1v1h-1zM26 3h2v1h-2zM30 3h3v1h-3zM34 3h1v1h-1zM40 3h1v1h-1zM48 3h1v1h-1zM51 3h1v1h-1zM53 3h1v1h-1zM56 3h1v1h-1zM65 3h1v1h-1zM72 3h1v1h-1zM74 3h1v1h-1zM0 4h3v1h-3zM4 4h1v1h-1zM10 4h4v1h-4zM17 4h3v1h-3zM21 4h1v1h-1zM25 4h2v1h-2zM31 4h2v1h-2zM38 4h1v1h-1zM40 4h3v1h-3zM45 4h1v1h-1zM47 4h1v1h-1zM49 4h2v1h-2zM52 4h1v1h-1zM57 4h1v1h-1zM60 4h1v1h-1zM64 4h2v1h-2zM70 4h3v1h-3zM4 5h1v1h-1zM6 5h2v1h-2zM10 5h1v1h-1zM13 5h2v1h-2zM20 5h1v1h-1zM23 5h2v1h-2zM28 5h2v1h-2zM31 5h2v1h-2zM34 5h1v1h-1zM36 5h6v1h-6zM48 5h1v1h-1zM53 5h1v1h-1zM57 5h1v1h-1zM59 5h3v1h-3zM65 5h3v1h-3zM70 5h6v1h-6zM5 6h2v1h-2zM13 6h1v1h-1zM15 6h1v1h-1zM18 6h1v1h-1zM23 6h4v1h-4zM30 6h1v1h-1zM32 6h1v1h-1zM34 6h5v1h-5zM44 6h1v1h-1zM46 6h1v1h-1zM54 6h1v1h-1zM57 6h2v1h-2zM60 6h1v1h-1zM63 6h1v1h-1zM65 6h1v1h-1zM69 6h1v1h-1zM71 6h1v1h-1zM0 7h2v1h-2zM3 7h1v1h-1zM8 7h1v1h-1zM11 7h1v1h-1zM13 7h1v1h-1zM16 7h1v1h-1zM19 7h1v1h-1zM22 7h2v1h-2zM25 7h1v1h-1zM28 7h1v1h-1zM32 7h1v1h-1zM42 7h2v1h-2zM51 7h1v1h-1zM58 7h1v1h-1zM60 7h4v1h-4zM67 7h1v1h-1zM70 7h2v1h-2zM3 8h2v1h-2zM16 8h1v1h-1zM18 8h3v1h-3zM25 8h1v1h-1zM29 8h3v1h-3zM44 8h1v1h-1zM47 8h1v1h-1zM59 8h1v1h-1zM65 8h1v1h-1zM67 8h6v1h-6zM75 8h1v1h-1zM1 9h1v1h-1zM3 9h2v1h-2zM14 9h1v1h-1zM16 9h1v1h-1zM18 9h1v1h-1zM22 9h1v1h-1zM24 9h2v1h-2zM27 9h4v1h-4zM35 9h1v1h-1zM37 9h2v1h-2zM41 9h2v1h-2zM45 9h2v1h-2zM49 9h1v1h-1zM56 9h1v1h-1zM59 9h3v1h-3zM63 9h1v1h-1zM67 9h2v1h-2zM73 9h2v1h-2zM2 10h5v1h-5zM8 10h1v1h-1zM12 10h2v1h-2zM15 10h1v1h-1zM18 10h1v1h-1zM21 10h4v1h-4zM27 10h2v1h-2zM36 10h3v1h-3zM40 10h7v1h-7zM53 10h1v1h-1zM55 10h1v1h-1zM58 10h1v1h-1zM60 10h1v1h-1zM62 10h2v1h-2zM65 10h1v1h-1zM68 10h1v1h-1zM71 10h1v1h-1zM0 11h2v1h-2zM3 11h1v1h-1zM5 11h1v1h-1zM16 11h3v1h-3zM22 11h1v1h-1zM24 11h1v1h-1zM29 11h2v1h-2zM32 11h2v1h-2zM36 11h1v1h-1zM40 11h1v1h-1zM50 11h1v1h-1zM54 11h3v1h-3zM58 11h1v1h-1zM62 11h2v1h-2zM65 11h1v1h-1zM67 11h1v1h-1zM69 11h2v1h-2zM73 11h1v1h-1zM0 12h1v1h-1zM9 12h1v1h-1zM11 12h3v1h-3zM16 12h5v1h-5zM22 12h3v1h-3zM26 12h1v1h-1zM30 12h1v1h-1zM32 12h1v1h-1zM40 12h2v1h-2zM47 12h1v1h-1zM50 12h3v1h-3zM54 12h2v1h-2zM64 12h2v1h-2zM73 12h2v1h-2zM1 13h1v1h-1zM5 13h1v1h-1zM9 13h3v1h-3zM17 13h1v1h-1zM19 13h3v1h-3zM32 13h1v1h-1zM35 13h2v1h-2zM39 13h2v1h-2zM48 13h4v1h-4zM56 13h1v1h-1zM60 13h1v1h-1zM62 13h2v1h-2zM66 13h1v1h-1zM69 13h1v1h-1zM72 13h2v1h-2zM8 14h1v1h-1zM10 14h1v1h-1zM14 14h1v1h-1zM18 14h4v1h-4zM32 14h1v1h-1zM40 14h1v1h-1zM43 14h2v1h-2zM47 14h3v1h-3zM55 14h2v1h-2zM60 14h1v1h-1zM62 14h3v1h-3zM66 14h1v1h-1zM68 14h6v1h-6zM1 15h1v1h-1zM5 15h1v1h-1zM7 15h1v1h-1zM11 15h1v1h-1zM24 15h1v1h-1zM26 15h1v1h-1zM28 15h1v1h-1zM32 15h1v1h-1zM37 15h1v1h-1zM40 15h1v1h-1zM46 15h4v1h-4zM55 15h2v1h-2zM64 15h1v1h-1zM66 15h1v1h-1zM69 15h1v1h-1zM75 15h1v1h-1zM3 16h1v1h-1zM5 16h1v1h-1zM7 16h1v1h-1zM11 16h1v1h-1zM13 16h1v1h-1zM18 16h1v1h-1zM20 16h1v1h-1zM28 16h1v1h-1zM33 16h1v1h-1zM37 16h2v1h-2zM40 16h1v1h-1zM43 16h1v1h-1zM45 16h1v1h-1zM49 16h3v1h-3zM58 16h1v1h-1zM62 16h1v1h-1zM65 16h1v1h-1zM69 16h1v1h-1zM73 16h2v1h-2zM6 17h2v1h-2zM13 17h2v1h-2zM17 17h2v1h-2zM21 17h1v1h-1zM23 17h2v1h-2zM26 17h1v1h-1zM31 17h1v1h-1zM34 17h1v1h-1zM37 17h2v1h-2zM42 17h2v1h-2zM48 17h2v1h-2zM59 17h1v1h-1zM62 17h2v1h-2zM65 17h3v1h-3zM69 17h1v1h-1zM72 17h4v1h-4zM3 18h1v1h-1zM9 18h1v1h-1zM12 18h1v1h-1zM25 18h1v1h-1zM28 18h3v1h-3zM33 18h1v1h-1zM38 18h3v1h-3zM45 18h1v1h-1zM47 18h2v1h-2zM53 18h2v1h-2zM58 18h1v1h-1zM63 18h4v1h-4zM71 18h3v1h-3zM75 18h1v1h-1zM3 19h1v1h-1zM7 19h2v1h-2zM10 19h1v1h-1zM13 19h1v1h-1zM17 19h1v1h-1zM36 19h2v1h-2zM43 19h2v1h-2zM48 19h1v1h-1zM55 19h1v1h-1zM59 19h2v1h-2zM62 19h1v1h-1zM64 19h2v1h-2zM69 19h4v1h-4zM75 19h1v1h-1zM10 20h2v1h-2zM13 20h1v1h-1zM18 20h1v1h-1zM21 20h1v1h-1zM23 20h1v1h-1zM26 20h2v1h-2zM30 20h1v1h-1zM36 20h4v1h-4zM41 20h1v1h-1zM44 20h1v1h-1zM47 20h2v1h-2zM56 20h1v1h-1zM59 20h1v1h-1zM61 20h1v1h-1zM67 20h1v1h-1zM70 20h3v1h-3zM75 20h1v1h-1zM4 21h1v1h-1zM9 21h5v1h-5zM20 21h1v1h-1zM23 21h1v1h-1zM27 21h5v1h-5zM33 21h3v1h-3zM38 21h1v1h-1zM44 21h1v1h-1zM49 21h1v1h-1zM55 21h7v1h-7zM68 21h2v1h-2zM73 21h1v1h-1zM75 21h1v1h-1zM4 22h2v1h-2zM12 22h3v1h-3zM20 22h1v1h-1zM25 22h2v1h-2zM29 22h2v1h-2zM33 22h2v1h-2zM38 22h2v1h-2zM49 22h2v1h-2zM52 22h1v1h-1zM55 22h1v1h-1zM59 22h1v1h-1zM67 22h1v1h-1zM72 22h3v1h-3zM4 23h1v1h-1zM10 23h2v1h-2zM15 23h1v1h-1zM23 23h1v1h-1zM34 23h1v1h-1zM37 23h2v1h-2zM43 23h2v1h-2zM52 23h1v1h-1zM55 23h1v1h-1zM59 23h1v1h-1zM65 23h1v1h-1zM73 23h2v1h-2zM0 24h1v1h-1zM4 24h1v1h-1zM7 24h4v1h-4zM14 24h1v1h-1zM21 24h7v1h-7zM30 24h3v1h-3zM34 24h1v1h-1zM36 24h3v1h-3zM43 24h2v1h-2zM48 24h2v1h-2zM52 24h1v1h-1zM54 24h2v1h-2zM59 24h4v1h-4zM65 24h1v1h-1zM67 24h1v1h-1zM69 24h1v1h-1zM74 24h2v1h-2zM4 25h1v1h-1zM7 25h2v1h-2zM10 25h2v1h-2zM13 25h3v1h-3zM18 25h1v1h-1zM22 25h1v1h-1zM24 25h1v1h-1zM27 25h1v1h-1zM43 25h3v1h-3zM50 25h1v1h-1zM55 25h5v1h-5zM61 25h1v1h-1zM66 25h1v1h-1zM68 25h1v1h-1zM0 26h2v1h-2zM12 26h3v1h-3zM16 26h3v1h-3zM20 26h1v1h-1zM22 26h1v1h-1zM24 26h2v1h-2zM28 26h1v1h-1zM30 26h1v1h-1zM32 26h1v1h-1zM45 26h3v1h-3zM52 26h1v1h-1zM55 26h1v1h-1zM57 26h1v1h-1zM60 26h1v1h-1zM62 26h2v1h-2zM66 26h3v1h-3zM71 26h1v1h-1zM5 27h1v1h-1zM12 27h5v1h-5zM23 27h2v1h-2zM29 27h3v1h-3zM46 27h1v1h-1zM49 27h1v1h-1zM51 27h1v1h-1zM53 27h1v1h-1zM55 27h1v1h-1zM57 27h1v1h-1zM62 27h1v1h-1zM64 27h1v1h-1zM70 27h2v1h-2zM0 28h1v1h-1zM2 28h1v1h-1zM5 28h1v1h-1zM10 28h1v1h-1zM12 28h5v1h-5zM18 28h3v1h-3zM23 28h1v1h-1zM26 28h1v1h-1zM28 28h2v1h-2zM50 28h2v1h-2zM54 28h2v1h-2zM57 28h1v1h-1zM59 28h2v1h-2zM68 28h2v1h-2zM2 29h2v1h-2zM6 29h1v1h-1zM10 29h1v1h-1zM17 29h2v1h-2zM20 29h1v1h-1zM22 29h2v1h-2zM26 29h1v1h-1zM28 29h2v1h-2zM50 29h1v1h-1zM55 29h1v1h-1zM65 29h1v1h-1zM69 29h2v1h-2zM2 30h2v1h-2zM6 30h1v1h-1zM9 30h1v1h-1zM16 30h1v1h-1zM19 30h2v1h-2zM22 30h1v1h-1zM24 30h1v1h-1zM27 30h2v1h-2zM48 30h1v1h-1zM56 30h2v1h-2zM63 30h5v1h-5zM70 30h4v1h-4zM2 31h3v1h-3zM9 31h1v1h-1zM16 31h2v1h-2zM19 31h1v1h-1zM22 31h1v1h-1zM24 31h1v1h-1zM57 31h1v1h-1zM60 31h1v1h-1zM62 31h1v1h-1zM64 31h1v1h-1zM67 31h1v1h-1zM72 31h2v1h-2zM75 31h1v1h-1zM0 32h1v1h-1zM3 32h1v1h-1zM5 32h1v1h-1zM7 32h1v1h-1zM10 32h1v1h-1zM13 32h2v1h-2zM19 32h1v1h-1zM26 32h1v1h-1zM49 32h1v1h-1zM54 32h2v1h-2zM58 32h3v1h-3zM63 32h1v1h-1zM65 32h1v1h-1zM71 32h1v1h-1zM73 32h2v1h-2zM2 33h3v1h-3zM13 33h1v1h-1zM19 33h1v1h-1zM21 33h1v1h-1zM26 33h1v1h-1zM50 33h3v1h-3zM56 33h1v1h-1zM60 33h5v1h-5zM66 33h3v1h-3zM70 33h2v1h-2zM74 33h1v1h-1zM0 34h2v1h-2zM7 34h1v1h-1zM13 34h1v1h-1zM16 34h1v1h-1zM18 34h1v1h-1zM21 34h2v1h-2zM26 34h1v1h-1zM51 34h1v1h-1zM55 34h1v1h-1zM61 34h2v1h-2zM69 34h3v1h-3zM75 34h1v1h-1zM4 35h4v1h-4zM13 35h1v1h-1zM18 35h1v1h-1zM21 35h2v1h-2zM26 35h1v1h-1zM50 35h2v1h-2zM55 35h1v1h-1zM58 35h4v1h-4zM66 35h3v1h-3zM6 36h1v1h-1zM9 36h2v1h-2zM13 36h2v1h-2zM19 36h1v1h-1zM21 36h1v1h-1zM26 36h1v1h-1zM55 36h3v1h-3zM59 36h1v1h-1zM65 36h2v1h-2zM72 36h1v1h-1zM0 37h1v1h-1zM14 37h1v1h-1zM19 37h1v1h-1zM21 37h2v1h-2zM50 37h4v1h-4zM57 37h1v1h-1zM61 37h1v1h-1zM65 37h3v1h-3zM69 37h2v1h-2zM75 37h1v1h-1zM7 38h1v1h-1zM10 38h1v1h-1zM15 38h1v1h-1zM19 38h4v1h-4zM24 38h1v1h-1zM51 38h1v1h-1zM53 38h2v1h-2zM56 38h1v1h-1zM61 38h1v1h-1zM64 38h2v1h-2zM68 38h2v1h-2zM71 38h1v1h-1zM0 39h1v1h-1zM7 39h1v1h-1zM10 39h4v1h-4zM16 39h1v1h-1zM18 39h1v1h-1zM20 39h1v1h-1zM24 39h1v1h-1zM26 39h1v1h-1zM49 39h3v1h-3zM55 39h1v1h-1zM57 39h2v1h-2zM60 39h1v1h-1zM63 39h2v1h-2zM66 39h1v1h-1zM69 39h3v1h-3zM75 39h1v1h-1zM0 40h1v1h-1zM2 40h2v1h-2zM13 40h3v1h-3zM22 40h1v1h-1zM24 40h1v1h-1zM26 40h1v1h-1zM54 40h1v1h-1zM56 40h1v1h-1zM59 40h1v1h-1zM61 40h1v1h-1zM66 40h1v1h-1zM75 40h1v1h-1zM0 41h1v1h-1zM2 41h1v1h-1zM4 41h1v1h-1zM18 41h1v1h-1zM20 41h2v1h-2zM24 41h1v1h-1zM49 41h2v1h-2zM54 41h3v1h-3zM64 41h1v1h-1zM66 41h1v1h-1zM72 41h1v1h-1zM0 42h1v1h-1zM2 42h2v1h-2zM11 42h3v1h-3zM16 42h2v1h-2zM20 42h1v1h-1zM22 42h1v1h-1zM25 42h1v1h-1zM50 42h4v1h-4zM55 42h1v1h-1zM57 42h2v1h-2zM60 42h1v1h-1zM63 42h1v1h-1zM75 42h1v1h-1zM1 43h4v1h-4zM7 43h1v1h-1zM11 43h1v1h-1zM15 43h3v1h-3zM19 43h1v1h-1zM22 43h2v1h-2zM25 43h2v1h-2zM49 43h4v1h-4zM54 43h1v1h-1zM56 43h5v1h-5zM63 43h2v1h-2zM67 43h1v1h-1zM69 43h4v1h-4zM75 43h1v1h-1zM1 44h3v1h-3zM5 44h1v1h-1zM9 44h1v1h-1zM11 44h1v1h-1zM17 44h2v1h-2zM25 44h2v1h-2zM55 44h1v1h-1zM60 44h1v1h-1zM71 44h5v1h-5zM3 45h1v1h-1zM5 45h1v1h-1zM10 45h2v1h-2zM13 45h1v1h-1zM17 45h1v1h-1zM19 45h2v1h-2zM22 45h5v1h-5zM55 45h2v1h-2zM58 45h1v1h-1zM60 45h3v1h-3zM64 45h2v1h-2zM69 45h1v1h-1zM72 45h3v1h-3zM0 46h1v1h-1zM2 46h2v1h-2zM5 46h1v1h-1zM8 46h2v1h-2zM11 46h1v1h-1zM13 46h2v1h-2zM16 46h3v1h-3zM24 46h1v1h-1zM47 46h1v1h-1zM50 46h2v1h-2zM55 46h1v1h-1zM58 46h2v1h-2zM65 46h2v1h-2zM74 46h1v1h-1zM1 47h1v1h-1zM3 47h6v1h-6zM13 47h1v1h-1zM17 47h1v1h-1zM25 47h2v1h-2zM29 47h1v1h-1zM50 47h3v1h-3zM55 47h1v1h-1zM59 47h1v1h-1zM63 47h2v1h-2zM66 47h1v1h-1zM71 47h2v1h-2zM0 48h3v1h-3zM6 48h4v1h-4zM11 48h2v1h-2zM20 48h1v1h-1zM24 48h2v1h-2zM27 48h1v1h-1zM29 48h1v1h-1zM48 48h1v1h-1zM50 48h3v1h-3zM54 48h1v1h-1zM57 48h3v1h-3zM65 48h1v1h-1zM68 48h1v1h-1zM71 48h1v1h-1zM74 48h2v1h-2zM0 49h1v1h-1zM4 49h1v1h-1zM6 49h1v1h-1zM11 49h1v1h-1zM16 49h1v1h-1zM20 49h2v1h-2zM23 49h2v1h-2zM27 49h5v1h-5zM46 49h2v1h-2zM50 49h1v1h-1zM53 49h1v1h-1zM59 49h2v1h-2zM62 49h1v1h-1zM64 49h2v1h-2zM69 49h1v1h-1zM73 49h1v1h-1zM0 50h4v1h-4zM5 50h1v1h-1zM11 50h1v1h-1zM13 50h2v1h-2zM16 50h2v1h-2zM20 50h1v1h-1zM22 50h2v1h-2zM25 50h2v1h-2zM32 50h4v1h-4zM45 50h1v1h-1zM51 50h1v1h-1zM55 50h3v1h-3zM64 50h2v1h-2zM70 50h1v1h-1zM72 50h4v1h-4zM0 51h1v1h-1zM2 51h2v1h-2zM5 51h3v1h-3zM11 51h1v1h-1zM16 51h1v1h-1zM24 51h1v1h-1zM27 51h1v1h-1zM31 51h2v1h-2zM38 51h1v1h-1zM41 51h5v1h-5zM48 51h1v1h-1zM60 51h1v1h-1zM62 51h2v1h-2zM65 51h2v1h-2zM69 51h1v1h-1zM75 51h1v1h-1zM2 52h2v1h-2zM5 52h3v1h-3zM9 52h2v1h-2zM12 52h1v1h-1zM16 52h1v1h-1zM18 52h2v1h-2zM21 52h4v1h-4zM30 52h2v1h-2zM33 52h1v1h-1zM36 52h1v1h-1zM38 52h2v1h-2zM42 52h1v1h-1zM45 52h1v1h-1zM47 52h3v1h-3zM51 52h1v1h-1zM58 52h4v1h-4zM69 52h1v1h-1zM1 53h2v1h-2zM4 53h4v1h-4zM9 53h4v1h-4zM14 53h1v1h-1zM16 53h2v1h-2zM19 53h1v1h-1zM22 53h2v1h-2zM30 53h1v1h-1zM40 53h1v1h-1zM42 53h2v1h-2zM46 53h1v1h-1zM50 53h1v1h-1zM54 53h1v1h-1zM57 53h2v1h-2zM60 53h3v1h-3zM64 53h2v1h-2zM68 53h2v1h-2zM71 53h1v1h-1zM2 54h4v1h-4zM7 54h1v1h-1zM12 54h1v1h-1zM14 54h1v1h-1zM16 54h2v1h-2zM22 54h3v1h-3zM26 54h1v1h-1zM30 54h2v1h-2zM35 54h1v1h-1zM40 54h1v1h-1zM43 54h2v1h-2zM46 54h1v1h-1zM49 54h1v1h-1zM53 54h1v1h-1zM58 54h1v1h-1zM62 54h4v1h-4zM70 54h1v1h-1zM74 54h2v1h-2zM2 55h3v1h-3zM9 55h1v1h-1zM21 55h1v1h-1zM23 55h1v1h-1zM26 55h1v1h-1zM28 55h1v1h-1zM30 55h2v1h-2zM36 55h1v1h-1zM41 55h1v1h-1zM44 55h1v1h-1zM46 55h1v1h-1zM48 55h3v1h-3zM58 55h4v1h-4zM65 55h1v1h-1zM68 55h4v1h-4zM0 56h1v1h-1zM4 56h2v1h-2zM11 56h3v1h-3zM19 56h2v1h-2zM22 56h2v1h-2zM26 56h1v1h-1zM32 56h1v1h-1zM48 56h1v1h-1zM50 56h1v1h-1zM57 56h1v1h-1zM59 56h4v1h-4zM65 56h3v1h-3zM71 56h1v1h-1zM74 56h1v1h-1zM0 57h1v1h-1zM3 57h1v1h-1zM5 57h4v1h-4zM11 57h1v1h-1zM13 57h1v1h-1zM18 57h1v1h-1zM25 57h2v1h-2zM30 57h1v1h-1zM39 57h1v1h-1zM42 57h1v1h-1zM47 57h2v1h-2zM50 57h1v1h-1zM52 57h1v1h-1zM55 57h2v1h-2zM60 57h3v1h-3zM66 57h1v1h-1zM75 57h1v1h-1zM3 58h2v1h-2zM6 58h1v1h-1zM11 58h1v1h-1zM14 58h2v1h-2zM18 58h1v1h-1zM20 58h2v1h-2zM23 58h1v1h-1zM25 58h1v1h-1zM27 58h1v1h-1zM29 58h1v1h-1zM35 58h2v1h-2zM38 58h1v1h-1zM40 58h1v1h-1zM47 58h2v1h-2zM50 58h2v1h-2zM53 58h1v1h-1zM55 58h2v1h-2zM62 58h3v1h-3zM4 59h1v1h-1zM11 59h3v1h-3zM15 59h1v1h-1zM18 59h1v1h-1zM20 59h1v1h-1zM22 59h1v1h-1zM25 59h2v1h-2zM28 59h2v1h-2zM35 59h2v1h-2zM39 59h1v1h-1zM41 59h3v1h-3zM46 59h3v1h-3zM55 59h2v1h-2zM59 59h1v1h-1zM61 59h1v1h-1zM64 59h2v1h-2zM69 59h1v1h-1zM71 59h1v1h-1zM73 59h1v1h-1zM0 60h1v1h-1zM5 60h1v1h-1zM8 60h1v1h-1zM12 60h1v1h-1zM14 60h1v1h-1zM18 60h1v1h-1zM20 60h1v1h-1zM22 60h1v1h-1zM24 60h1v1h-1zM31 60h1v1h-1zM36 60h3v1h-3zM42 60h2v1h-2zM49 60h1v1h-1zM55 60h1v1h-1zM62 60h4v1h-4zM67 60h2v1h-2zM70 60h2v1h-2zM73 60h1v1h-1zM0 61h1v1h-1zM2 61h1v1h-1zM7 61h1v1h-1zM9 61h1v1h-1zM12 61h1v1h-1zM14 61h1v1h-1zM17 61h1v1h-1zM21 61h1v1h-1zM48 61h1v1h-1zM52 61h4v1h-4zM59 61h1v1h-1zM65 61h1v1h-1zM67 61h2v1h-2zM70 61h4v1h-4zM4 62h1v1h-1zM8 62h1v1h-1zM14 62h2v1h-2zM17 62h3v1h-3zM23 62h1v1h-1zM26 62h1v1h-1zM28 62h2v1h-2zM31 62h3v1h-3zM35 62h1v1h-1zM38 62h2v1h-2zM41 62h2v1h-2zM44 62h1v1h-1zM51 62h1v1h-1zM54 62h1v1h-1zM56 62h1v1h-1zM64 62h1v1h-1zM71 62h1v1h-1zM0 63h3v1h-3zM5 63h1v1h-1zM8 63h1v1h-1zM14 63h1v1h-1zM17 63h1v1h-1zM21 63h1v1h-1zM25 63h4v1h-4zM34 63h2v1h-2zM38 63h1v1h-1zM41 63h1v1h-1zM43 63h1v1h-1zM45 63h2v1h-2zM48 63h2v1h-2zM54 63h1v1h-1zM56 63h1v1h-1zM64 63h1v1h-1zM68 63h1v1h-1zM72 63h4v1h-4zM3 64h3v1h-3zM7 64h1v1h-1zM9 64h2v1h-2zM14 64h1v1h-1zM16 64h3v1h-3zM20 64h1v1h-1zM27 64h3v1h-3zM34 64h2v1h-2zM39 64h2v1h-2zM44 64h1v1h-1zM48 64h3v1h-3zM52 64h1v1h-1zM69 64h1v1h-1zM71 64h1v1h-1zM73 64h3v1h-3zM0 65h1v1h-1zM5 65h2v1h-2zM8 65h1v1h-1zM12 65h2v1h-2zM16 65h2v1h-2zM24 65h1v1h-1zM26 65h1v1h-1zM28 65h2v1h-2zM31 65h1v1h-1zM44 65h1v1h-1zM48 65h7v1h-7zM56 65h1v1h-1zM62 65h1v1h-1zM67 65h2v1h-2zM75 65h1v1h-1zM0 66h3v1h-3zM6 66h1v1h-1zM8 66h1v1h-1zM12 66h2v1h-2zM15 66h2v1h-2zM19 66h2v1h-2zM24 66h1v1h-1zM38 66h3v1h-3zM42 66h1v1h-1zM45 66h1v1h-1zM50 66h1v1h-1zM55 66h1v1h-1zM57 66h2v1h-2zM62 66h2v1h-2zM67 66h1v1h-1zM0 67h1v1h-1zM2 67h2v1h-2zM5 67h2v1h-2zM9 67h1v1h-1zM13 67h1v1h-1zM15 67h2v1h-2zM24 67h1v1h-1zM26 67h2v1h-2zM33 67h1v1h-1zM36 67h4v1h-4zM42 67h1v1h-1zM48 67h1v1h-1zM50 67h1v1h-1zM55 67h2v1h-2zM59 67h1v1h-1zM62 67h3v1h-3zM66 67h2v1h-2zM72 67h1v1h-1zM3 68h1v1h-1zM7 68h2v1h-2zM11 68h3v1h-3zM15 68h1v1h-1zM21 68h2v1h-2zM25 68h1v1h-1zM29 68h1v1h-1zM34 68h1v1h-1zM39 68h2v1h-2zM48 68h2v1h-2zM56 68h3v1h-3zM64 68h1v1h-1zM67 68h1v1h-1zM69 68h1v1h-1zM72 68h1v1h-1zM2 69h1v1h-1zM6 69h3v1h-3zM10 69h1v1h-1zM14 69h4v1h-4zM23 69h1v1h-1zM26 69h2v1h-2zM29 69h1v1h-1zM31 69h2v1h-2zM36 69h1v1h-1zM38 69h1v1h-1zM44 69h2v1h-2zM47 69h2v1h-2zM50 69h1v1h-1zM66 69h2v1h-2zM70 69h6v1h-6zM1 70h1v1h-1zM3 70h2v1h-2zM6 70h1v1h-1zM9 70h1v1h-1zM12 70h6v1h-6zM19 70h2v1h-2zM28 70h1v1h-1zM30 70h2v1h-2zM34 70h1v1h-1zM38 70h2v1h-2zM41 70h1v1h-1zM44 70h2v1h-2zM47 70h1v1h-1zM49 70h1v1h-1zM52 70h2v1h-2zM57 70h4v1h-4zM67 70h1v1h-1zM69 70h3v1h-3zM73 70h2v1h-2zM6 71h4v1h-4zM11 71h1v1h-1zM13 71h2v1h-2zM28 71h1v1h-1zM33 71h4v1h-4zM40 71h3v1h-3zM44 71h1v1h-1zM48 71h2v1h-2zM53 71h5v1h-5zM60 71h1v1h-1zM67 71h1v1h-1zM71 71h1v1h-1zM74 71h1v1h-1zM3 72h1v1h-1zM5 72h2v1h-2zM10 72h1v1h-1zM15 72h1v1h-1zM23 72h1v1h-1zM30 72h1v1h-1zM35 72h1v1h-1zM39 72h1v1h-1zM43 72h1v1h-1zM45 72h1v1h-1zM47 72h2v1h-2zM50 72h1v1h-1zM53 72h3v1h-3zM62 72h3v1h-3zM71 72h3v1h-3zM2 73h1v1h-1zM5 73h2v1h-2zM10 73h2v1h-2zM16 73h2v1h-2zM20 73h1v1h-1zM22 73h1v1h-1zM24 73h1v1h-1zM26 73h1v1h-1zM28 73h1v1h-1zM31 73h1v1h-1zM34 73h3v1h-3zM41 73h1v1h-1zM45 73h2v1h-2zM50 73h2v1h-2zM54 73h1v1h-1zM57 73h2v1h-2zM63 73h1v1h-1zM66 73h3v1h-3zM71 73h1v1h-1zM75 73h1v1h-1zM0 74h1v1h-1zM2 74h1v1h-1zM4 74h1v1h-1zM6 74h1v1h-1zM17 74h1v1h-1zM21 74h1v1h-1zM24 74h1v1h-1zM30 74h3v1h-3zM35 74h1v1h-1zM37 74h1v1h-1zM41 74h2v1h-2zM47 74h3v1h-3zM57 74h1v1h-1zM59 74h4v1h-4zM66 74h1v1h-1zM71 74h2v1h-2zM74 74h2v1h-2zM1 75h2v1h-2zM7 75h1v1h-1zM9 75h3v1h-3zM14 75h2v1h-2zM27 75h2v1h-2zM32 75h2v1h-2zM36 75h1v1h-1zM40 75h1v1h-1zM46 75h1v1h-1zM48 75h1v1h-1zM54 75h2v1h-2zM60 75h3v1h-3zM64 75h1v1h-1zM66 75h1v1h-1zM75 75h1v1h-1z"/>
<path fill="#170000" d="M11 0h1v1h-1zM35 0h1v1h-1zM40 0h1v1h-1zM44 0h1v1h-1zM58 0h1v1h-1zM69 0h1v1h-1zM6 1h1v1h-1zM11 1h2v1h-2zM39 1h1v1h-1zM44 1h1v1h-1zM59 1h3v1h-3zM3 2h1v1h-1zM11 2h2v1h-2zM17 2h2v1h-2zM20 2h1v1h-1zM22 2h1v1h-1zM40 2h1v1h-1zM63 2h1v1h-1zM4 3h1v1h-1zM18 3h2v1h-2zM39 3h1v1h-1zM49 3h1v1h-1zM57 3h1v1h-1zM59 3h1v1h-1zM61 3h1v1h-1zM64 3h1v1h-1zM75 3h1v1h-1zM27 4h1v1h-1zM53 4h1v1h-1zM74 4h2v1h-2zM47 5h1v1h-1zM49 5h1v1h-1zM55 5h1v1h-1zM0 6h1v1h-1zM9 6h1v1h-1zM14 6h1v1h-1zM31 6h1v1h-1zM59 6h1v1h-1zM64 6h1v1h-1zM67 6h1v1h-1zM70 6h1v1h-1zM10 7h1v1h-1zM20 7h1v1h-1zM29 7h2v1h-2zM46 7h1v1h-1zM59 7h1v1h-1zM64 7h1v1h-1zM1 8h1v1h-1zM12 8h1v1h-1zM14 8h1v1h-1zM22 8h1v1h-1zM35 8h1v1h-1zM42 8h1v1h-1zM45 8h2v1h-2zM64 8h1v1h-1zM5 9h1v1h-1zM13 9h1v1h-1zM43 9h1v1h-1zM57 9h1v1h-1zM75 9h1v1h-1zM11 10h1v1h-1zM47 10h2v1h-2zM54 10h1v1h-1zM72 10h1v1h-1zM2 11h1v1h-1zM21 11h1v1h-1zM43 11h1v1h-1zM49 11h1v1h-1zM51 11h1v1h-1zM64 11h1v1h-1zM68 11h1v1h-1zM71 11h1v1h-1zM14 12h2v1h-2zM39 12h1v1h-1zM43 12h1v1h-1zM49 12h1v1h-1zM53 12h1v1h-1zM56 12h1v1h-1zM60 12h1v1h-1zM18 13h1v1h-1zM22 13h1v1h-1zM33 13h2v1h-2zM43 13h1v1h-1zM45 13h1v1h-1zM68 13h1v1h-1zM70 13h1v1h-1zM7 14h1v1h-1zM11 14h1v1h-1zM46 14h1v1h-1zM57 15h2v1h-2zM62 15h1v1h-1zM74 15h1v1h-1zM22 16h1v1h-1zM41 16h1v1h-1zM46 16h1v1h-1zM48 16h1v1h-1zM57 16h1v1h-1zM4 17h2v1h-2zM11 17h1v1h-1zM20 17h1v1h-1zM22 17h1v1h-1zM33 17h1v1h-1zM40 17h1v1h-1zM68 17h1v1h-1zM70 17h2v1h-2zM7 18h1v1h-1zM34 18h1v1h-1zM46 18h1v1h-1zM14 19h1v1h-1zM63 19h1v1h-1zM74 19h1v1h-1zM12 20h1v1h-1zM14 20h1v1h-1zM17 20h1v1h-1zM51 20h1v1h-1zM55 20h1v1h-1zM62 20h1v1h-1zM25 21h1v1h-1zM32 21h1v1h-1zM39 21h1v1h-1zM42 21h1v1h-1zM72 21h1v1h-1zM22 22h2v1h-2zM48 22h1v1h-1zM54 22h1v1h-1zM60 22h2v1h-2zM63 22h1v1h-1zM65 22h1v1h-1zM71 22h1v1h-1zM13 23h1v1h-1zM22 23h1v1h-1zM24 23h1v1h-1zM51 23h1v1h-1zM61 23h1v1h-1zM64 23h1v1h-1zM11 24h1v1h-1zM45 24h1v1h-1zM47 24h1v1h-1zM50 24h1v1h-1zM56 24h3v1h-3zM33 25h1v1h-1zM37 25h2v1h-2zM47 25h1v1h-1zM49 25h1v1h-1zM60 25h1v1h-1zM23 26h1v1h-1zM31 26h1v1h-1zM33 26h1v1h-1zM48 26h2v1h-2zM53 26h2v1h-2zM70 26h1v1h-1zM0 27h1v1h-1zM18 27h1v1h-1zM26 27h1v1h-1zM6 28h1v1h-1zM70 28h2v1h-2zM15 29h1v1h-1zM72 29h1v1h-1zM17 30h1v1h-1zM68 30h2v1h-2zM1 31h1v1h-1zM15 31h1v1h-1zM20 31h1v1h-1zM26 31h1v1h-1zM48 31h1v1h-1zM58 31h1v1h-1zM68 31h1v1h-1zM74 31h1v1h-1zM2 32h1v1h-1zM62 32h1v1h-1zM66 32h1v1h-1zM75 32h1v1h-1zM10 33h1v1h-1zM58 33h1v1h-1zM2 34h1v1h-1zM11 34h1v1h-1zM17 34h1v1h-1zM58 34h1v1h-1zM60 34h1v1h-1zM75 35h1v1h-1zM5 36h1v1h-1zM20 36h1v1h-1zM69 36h3v1h-3zM26 37h1v1h-1zM23 39h1v1h-1zM25 39h1v1h-1zM52 39h1v1h-1zM65 39h1v1h-1zM67 39h1v1h-1zM72 39h1v1h-1zM23 40h1v1h-1zM25 40h1v1h-1zM57 40h1v1h-1zM13 41h1v1h-1zM25 41h1v1h-1zM23 42h2v1h-2zM26 42h1v1h-1zM56 42h1v1h-1zM64 42h1v1h-1zM73 42h1v1h-1zM0 43h1v1h-1zM55 43h1v1h-1zM65 43h1v1h-1zM10 44h1v1h-1zM22 44h1v1h-1zM59 44h1v1h-1zM0 45h1v1h-1zM47 45h1v1h-1zM54 45h1v1h-1zM57 45h1v1h-1zM66 45h1v1h-1zM15 46h1v1h-1zM19 46h1v1h-1zM22 46h1v1h-1zM25 46h1v1h-1zM29 46h1v1h-1zM0 47h1v1h-1zM2 47h1v1h-1zM15 47h1v1h-1zM22 47h1v1h-1zM56 47h2v1h-2zM13 48h1v1h-1zM60 48h1v1h-1zM66 48h1v1h-1zM17 49h1v1h-1zM25 49h1v1h-1zM63 49h1v1h-1zM70 49h1v1h-1zM4 50h1v1h-1zM6 50h1v1h-1zM8 50h1v1h-1zM15 50h1v1h-1zM41 50h2v1h-2zM44 50h1v1h-1zM49 50h2v1h-2zM59 50h2v1h-2zM62 50h1v1h-1zM68 50h2v1h-2zM12 51h1v1h-1zM19 51h1v1h-1zM22 51h1v1h-1zM25 51h2v1h-2zM39 51h2v1h-2zM0 52h1v1h-1zM4 52h1v1h-1zM41 52h1v1h-1zM55 52h1v1h-1zM57 52h1v1h-1zM3 53h1v1h-1zM18 53h1v1h-1zM35 53h1v1h-1zM39 53h1v1h-1zM1 54h1v1h-1zM8 54h1v1h-1zM38 54h1v1h-1zM42 54h1v1h-1zM57 54h1v1h-1zM60 54h1v1h-1zM13 55h2v1h-2zM22 55h1v1h-1zM29 55h1v1h-1zM32 55h1v1h-1zM34 55h2v1h-2zM74 55h1v1h-1zM25 56h1v1h-1zM29 56h1v1h-1zM31 56h1v1h-1zM64 56h1v1h-1zM20 57h1v1h-1zM29 57h1v1h-1zM53 57h1v1h-1zM58 57h1v1h-1zM65 57h1v1h-1zM69 57h1v1h-1zM7 58h1v1h-1zM19 58h1v1h-1zM26 58h1v1h-1zM31 58h1v1h-1zM52 58h1v1h-1zM65 58h1v1h-1zM3 59h1v1h-1zM6 59h1v1h-1zM31 59h1v1h-1zM37 59h1v1h-1zM60 59h1v1h-1zM63 59h1v1h-1zM13 60h1v1h-1zM30 60h1v1h-1zM40 60h2v1h-2zM1 61h1v1h-1zM13 61h1v1h-1zM18 61h1v1h-1zM22 61h1v1h-1zM37 61h1v1h-1zM40 61h2v1h-2zM63 61h2v1h-2zM69 61h1v1h-1zM0 62h2v1h-2zM21 62h1v1h-1zM30 62h1v1h-1zM52 62h1v1h-1zM65 62h1v1h-1zM29 63h1v1h-1zM65 63h1v1h-1zM15 64h1v1h-1zM24 64h1v1h-1zM26 64h1v1h-1zM72 64h1v1h-1zM7 65h1v1h-1zM43 65h1v1h-1zM57 65h1v1h-1zM44 66h1v1h-1zM71 66h1v1h-1zM75 66h1v1h-1zM7 67h2v1h-2zM40 67h1v1h-1zM43 67h1v1h-1zM75 67h1v1h-1zM23 68h1v1h-1zM30 68h1v1h-1zM50 68h1v1h-1zM71 68h1v1h-1zM75 68h1v1h-1zM12 69h2v1h-2zM24 69h1v1h-1zM51 69h1v1h-1zM68 69h2v1h-2zM5 70h1v1h-1zM8 70h1v1h-1zM32 70h2v1h-2zM35 70h1v1h-1zM48 70h1v1h-1zM50 70h2v1h-2zM5 71h1v1h-1zM15 71h1v1h-1zM19 71h1v1h-1zM37 71h1v1h-1zM47 71h1v1h-1zM52 71h1v1h-1zM73 71h1v1h-1zM4 72h1v1h-1zM7 72h1v1h-1zM13 72h1v1h-1zM17 72h1v1h-1zM20 72h1v1h-1zM29 72h1v1h-1zM34 72h1v1h-1zM68 72h1v1h-1zM13 73h1v1h-1zM43 73h1v1h-1zM64 73h2v1h-2zM7 74h2v1h-2zM12 74h1v1h-1zM26 74h1v1h-1zM28 74h1v1h-1zM33 74h1v1h-1zM46 74h1v1h-1zM73 74h1v1h-1zM3 75h1v1h-1zM8 75h1v1h-1zM65 75h1v1h-1zM73 75h2v1h-2z"/>
<path fill="#190000" d="M1 0h1v1h-1zM10 0h1v1h-1zM34 0h1v1h-1zM36 0h1v1h-1zM59 0h1v1h-1zM63 0h1v1h-1zM71 0h2v1h-2zM0 1h1v1h-1zM7 1h1v1h-1zM10 1h1v1h-1zM13 1h3v1h-3zM25 1h1v1h-1zM43 1h1v1h-1zM49 1h1v1h-1zM62 1h1v1h-1zM64 1h1v1h-1zM1 2h2v1h-2zM15 2h2v1h-2zM21 2h1v1h-1zM39 2h1v1h-1zM49 2h1v1h-1zM58 2h1v1h-1zM64 2h2v1h-2zM1 3h3v1h-3zM7 3h1v1h-1zM17 3h1v1h-1zM20 3h1v1h-1zM58 3h1v1h-1zM60 3h1v1h-1zM3 4h1v1h-1zM8 4h1v1h-1zM20 4h1v1h-1zM39 4h1v1h-1zM54 4h2v1h-2zM0 5h1v1h-1zM3 5h1v1h-1zM11 5h2v1h-2zM56 5h1v1h-1zM1 6h1v1h-1zM10 6h1v1h-1zM12 6h1v1h-1zM28 6h2v1h-2zM43 6h1v1h-1zM62 6h1v1h-1zM66 6h1v1h-1zM2 7h1v1h-1zM9 7h1v1h-1zM12 7h1v1h-1zM14 7h2v1h-2zM24 7h1v1h-1zM31 7h1v1h-1zM65 7h2v1h-2zM13 8h1v1h-1zM23 8h1v1h-1zM36 8h1v1h-1zM43 8h1v1h-1zM60 8h1v1h-1zM62 8h1v1h-1zM2 9h1v1h-1zM15 9h1v1h-1zM23 9h1v1h-1zM62 9h1v1h-1zM14 10h1v1h-1zM25 10h2v1h-2zM29 10h2v1h-2zM50 10h3v1h-3zM64 10h1v1h-1zM67 10h1v1h-1zM12 11h4v1h-4zM25 11h2v1h-2zM37 11h1v1h-1zM47 11h2v1h-2zM52 11h2v1h-2zM59 11h2v1h-2zM72 11h1v1h-1zM1 12h2v1h-2zM21 12h1v1h-1zM46 12h1v1h-1zM48 12h1v1h-1zM59 12h1v1h-1zM68 12h1v1h-1zM71 12h2v1h-2zM6 13h3v1h-3zM13 13h2v1h-2zM23 13h2v1h-2zM41 13h2v1h-2zM44 13h1v1h-1zM46 13h1v1h-1zM55 13h1v1h-1zM59 13h1v1h-1zM71 13h1v1h-1zM6 14h1v1h-1zM22 14h3v1h-3zM41 14h2v1h-2zM45 14h1v1h-1zM67 14h1v1h-1zM6 15h1v1h-1zM25 15h1v1h-1zM41 15h1v1h-1zM44 15h1v1h-1zM63 15h1v1h-1zM67 15h2v1h-2zM4 16h1v1h-1zM6 16h1v1h-1zM8 16h1v1h-1zM25 16h3v1h-3zM44 16h1v1h-1zM47 16h1v1h-1zM63 16h2v1h-2zM68 16h1v1h-1zM8 17h1v1h-1zM12 17h1v1h-1zM25 17h1v1h-1zM27 17h1v1h-1zM29 17h2v1h-2zM39 17h1v1h-1zM50 17h2v1h-2zM5 18h1v1h-1zM8 18h1v1h-1zM10 18h2v1h-2zM69 18h2v1h-2zM74 18h1v1h-1zM4 19h1v1h-1zM11 19h2v1h-2zM39 19h1v1h-1zM45 19h3v1h-3zM42 20h2v1h-2zM49 20h2v1h-2zM43 21h1v1h-1zM50 21h2v1h-2zM62 21h1v1h-1zM67 21h1v1h-1zM70 21h2v1h-2zM28 22h1v1h-1zM46 22h1v1h-1zM51 22h1v1h-1zM62 22h1v1h-1zM64 22h1v1h-1zM70 22h1v1h-1zM12 23h1v1h-1zM25 23h2v1h-2zM47 23h2v1h-2zM54 23h1v1h-1zM60 23h1v1h-1zM62 23h1v1h-1zM12 24h2v1h-2zM35 24h1v1h-1zM40 24h1v1h-1zM46 24h1v1h-1zM51 24h1v1h-1zM63 24h1v1h-1zM0 25h1v1h-1zM19 25h1v1h-1zM30 25h2v1h-2zM36 25h1v1h-1zM39 25h2v1h-2zM48 25h1v1h-1zM19 26h1v1h-1zM26 26h2v1h-2zM42 26h3v1h-3zM6 27h1v1h-1zM17 27h1v1h-1zM19 27h2v1h-2zM25 27h1v1h-1zM45 27h1v1h-1zM47 27h2v1h-2zM54 27h1v1h-1zM17 28h1v1h-1zM46 28h2v1h-2zM58 28h1v1h-1zM9 29h1v1h-1zM21 29h1v1h-1zM47 29h1v1h-1zM71 29h1v1h-1zM15 30h1v1h-1zM21 30h1v1h-1zM23 30h1v1h-1zM29 30h1v1h-1zM47 30h1v1h-1zM23 31h1v1h-1zM27 31h1v1h-1zM59 31h1v1h-1zM65 31h2v1h-2zM1 32h1v1h-1zM4 32h1v1h-1zM20 32h1v1h-1zM48 32h1v1h-1zM53 32h1v1h-1zM67 32h2v1h-2zM1 33h1v1h-1zM11 33h2v1h-2zM49 33h1v1h-1zM55 33h1v1h-1zM59 33h1v1h-1zM75 33h1v1h-1zM3 34h1v1h-1zM12 34h1v1h-1zM49 34h1v1h-1zM59 34h1v1h-1zM63 34h1v1h-1zM66 34h2v1h-2zM2 35h2v1h-2zM8 35h1v1h-1zM49 35h1v1h-1zM54 35h1v1h-1zM69 35h2v1h-2zM72 35h1v1h-1zM49 36h1v1h-1zM52 36h1v1h-1zM54 36h1v1h-1zM61 36h2v1h-2zM75 36h1v1h-1zM4 37h2v1h-2zM14 38h1v1h-1zM26 38h1v1h-1zM52 38h1v1h-1zM67 38h1v1h-1zM70 38h1v1h-1zM74 38h1v1h-1zM17 39h1v1h-1zM61 39h1v1h-1zM68 39h1v1h-1zM11 40h2v1h-2zM27 40h1v1h-1zM49 40h2v1h-2zM55 40h1v1h-1zM58 40h1v1h-1zM60 40h1v1h-1zM72 40h1v1h-1zM3 41h1v1h-1zM11 41h2v1h-2zM26 41h1v1h-1zM60 41h1v1h-1zM7 42h1v1h-1zM65 42h2v1h-2zM72 42h1v1h-1zM8 43h1v1h-1zM18 43h1v1h-1zM27 43h1v1h-1zM48 43h1v1h-1zM53 43h1v1h-1zM61 43h1v1h-1zM66 43h1v1h-1zM0 44h1v1h-1zM27 44h1v1h-1zM48 44h1v1h-1zM62 44h1v1h-1zM69 44h2v1h-2zM12 45h1v1h-1zM27 45h1v1h-1zM59 45h1v1h-1zM63 45h1v1h-1zM10 46h1v1h-1zM12 46h1v1h-1zM26 46h1v1h-1zM56 46h2v1h-2zM64 46h1v1h-1zM9 47h2v1h-2zM14 47h1v1h-1zM23 47h2v1h-2zM27 47h1v1h-1zM30 47h1v1h-1zM45 47h1v1h-1zM58 47h1v1h-1zM14 48h2v1h-2zM17 48h1v1h-1zM21 48h1v1h-1zM26 48h1v1h-1zM30 48h2v1h-2zM53 48h1v1h-1zM61 48h2v1h-2zM67 48h1v1h-1zM72 48h1v1h-1zM7 49h2v1h-2zM13 49h3v1h-3zM43 49h1v1h-1zM49 49h1v1h-1zM66 49h2v1h-2zM71 49h2v1h-2zM74 49h2v1h-2zM12 50h1v1h-1zM27 50h2v1h-2zM36 50h1v1h-1zM43 50h1v1h-1zM63 50h1v1h-1zM66 50h2v1h-2zM1 51h1v1h-1zM4 51h1v1h-1zM13 51h3v1h-3zM20 51h2v1h-2zM23 51h1v1h-1zM33 51h1v1h-1zM57 51h1v1h-1zM59 51h1v1h-1zM67 51h2v1h-2zM1 52h1v1h-1zM11 52h1v1h-1zM13 52h3v1h-3zM25 52h1v1h-1zM34 52h2v1h-2zM50 52h1v1h-1zM52 52h3v1h-3zM13 53h1v1h-1zM25 53h1v1h-1zM34 53h1v1h-1zM44 53h2v1h-2zM52 53h2v1h-2zM59 53h1v1h-1zM70 53h1v1h-1zM9 54h1v1h-1zM13 54h1v1h-1zM15 54h1v1h-1zM25 54h1v1h-1zM34 54h1v1h-1zM52 54h1v1h-1zM8 55h1v1h-1zM16 55h1v1h-1zM24 55h2v1h-2zM33 55h1v1h-1zM38 55h1v1h-1zM45 55h1v1h-1zM56 55h2v1h-2zM15 56h1v1h-1zM24 56h1v1h-1zM30 56h1v1h-1zM54 56h2v1h-2zM58 56h1v1h-1zM68 56h3v1h-3zM4 57h1v1h-1zM12 57h1v1h-1zM19 57h1v1h-1zM54 57h1v1h-1zM64 57h1v1h-1zM71 57h1v1h-1zM30 58h1v1h-1zM32 58h1v1h-1zM39 58h1v1h-1zM41 58h2v1h-2zM54 58h1v1h-1zM70 58h2v1h-2zM5 59h1v1h-1zM14 59h1v1h-1zM21 59h1v1h-1zM24 59h1v1h-1zM30 59h1v1h-1zM38 59h1v1h-1zM44 59h1v1h-1zM51 59h1v1h-1zM53 59h2v1h-2zM70 59h1v1h-1zM3 60h2v1h-2zM21 60h1v1h-1zM29 60h1v1h-1zM48 60h1v1h-1zM52 60h3v1h-3zM60 60h2v1h-2zM3 61h2v1h-2zM8 61h1v1h-1zM36 61h1v1h-1zM51 61h1v1h-1zM2 62h2v1h-2zM22 62h1v1h-1zM37 62h1v1h-1zM40 62h1v1h-1zM55 62h1v1h-1zM15 63h2v1h-2zM36 63h1v1h-1zM39 63h2v1h-2zM42 63h1v1h-1zM44 63h1v1h-1zM55 63h1v1h-1zM71 63h1v1h-1zM8 64h1v1h-1zM19 64h1v1h-1zM25 64h1v1h-1zM43 64h1v1h-1zM53 64h2v1h-2zM68 64h1v1h-1zM19 65h2v1h-2zM7 66h1v1h-1zM43 66h1v1h-1zM49 66h1v1h-1zM64 66h1v1h-1zM68 66h1v1h-1zM49 67h1v1h-1zM57 67h1v1h-1zM71 67h1v1h-1zM4 68h3v1h-3zM24 68h1v1h-1zM33 68h1v1h-1zM36 68h1v1h-1zM11 69h1v1h-1zM25 69h1v1h-1zM30 69h1v1h-1zM10 70h1v1h-1zM29 70h1v1h-1zM36 70h1v1h-1zM68 70h1v1h-1zM0 71h3v1h-3zM4 71h1v1h-1zM12 71h1v1h-1zM16 71h1v1h-1zM20 71h1v1h-1zM30 71h1v1h-1zM59 71h1v1h-1zM68 71h1v1h-1zM0 72h1v1h-1zM9 72h1v1h-1zM16 72h1v1h-1zM40 72h3v1h-3zM44 72h1v1h-1zM67 72h1v1h-1zM7 73h1v1h-1zM21 73h1v1h-1zM29 73h2v1h-2zM42 73h1v1h-1zM10 74h2v1h-2zM27 74h1v1h-1zM36 74h1v1h-1zM65 74h1v1h-1zM0 75h1v1h-1zM12 75h2v1h-2zM17 75h1v1h-1zM20 75h2v1h-2z"/>
<path fill="#1b0000" d="M63 1h1v1h-1zM7 4h1v1h-1zM54 5h1v1h-1zM2 8h1v1h-1zM15 8h1v1h-1zM24 8h1v1h-1zM36 9h1v1h-1zM33 15h1v1h-1zM4 18h1v1h-1zM38 19h1v1h-1zM26 21h1v1h-1zM63 23h1v1h-1zM46 25h1v1h-1zM0 33h1v1h-1zM53 35h1v1h-1zM71 35h1v1h-1zM49 37h1v1h-1zM75 38h1v1h-1zM47 44h1v1h-1zM61 44h1v1h-1zM27 46h2v1h-2zM63 46h1v1h-1zM12 49h1v1h-1zM7 50h1v1h-1zM58 51h1v1h-1zM15 53h1v1h-1zM45 54h1v1h-1zM15 55h1v1h-1zM39 55h1v1h-1zM70 57h1v1h-1zM44 60h1v1h-1zM58 67h1v1h-1zM11 70h1v1h-1zM3 71h1v1h-1zM29 71h1v1h-1zM12 72h1v1h-1zM12 73h1v1h-1zM18 75h1v1h-1z"/>
<path fill="#1d0000" d="M57 2h1v1h-1zM56 4h1v1h-1zM11 6h1v1h-1zM61 8h1v1h-1zM49 10h1v1h-1zM69 12h2v1h-2zM28 17h1v1h-1zM47 22h1v1h-1zM39 24h1v1h-1zM34 25h2v1h-2zM34 26h1v1h-1zM38 26h1v1h-1zM41 26h1v1h-1zM32 27h1v1h-1zM30 28h2v1h-2zM45 28h1v1h-1zM30 29h1v1h-1zM28 31h1v1h-1zM27 32h1v1h-1zM48 34h1v1h-1zM48 35h1v1h-1zM27 36h1v1h-1zM53 36h1v1h-1zM48 38h1v1h-1zM27 41h1v1h-1zM48 41h1v1h-1zM8 42h1v1h-1zM27 42h1v1h-1zM48 42h1v1h-1zM28 44h1v1h-1zM28 45h1v1h-1zM46 45h1v1h-1zM23 46h1v1h-1zM46 46h1v1h-1zM31 47h1v1h-1zM32 49h2v1h-2zM37 50h1v1h-1zM39 54h1v1h-1zM16 56h1v1h-1zM56 56h1v1h-1zM52 59h1v1h-1zM36 62h1v1h-1zM44 73h1v1h-1zM19 75h1v1h-1z"/>
<path fill="#1f0000" d="M47 31h1v1h-1zM48 33h1v1h-1zM27 34h1v1h-1zM48 37h1v1h-1zM27 39h1v1h-1zM30 46h1v1h-1zM42 49h1v1h-1zM38 50h1v1h-1z"/>
<path fill="#210000" d="M39 26h2v1h-2zM43 27h2v1h-2zM46 30h1v1h-1zM27 33h1v1h-1zM27 35h1v1h-1zM48 36h1v1h-1zM27 37h1v1h-1zM48 39h1v1h-1zM48 40h1v1h-1zM44 47h1v1h-1zM43 48h1v1h-1zM41 49h1v1h-1zM40 50h1v1h-1z"/>
<path fill="#230000" d="M35 26h1v1h-1zM47 32h1v1h-1zM28 43h1v1h-1z"/>
<path fill="#250000" d="M36 26h1v1h-1zM33 27h1v1h-1zM42 27h1v1h-1zM46 29h1v1h-1zM28 32h1v1h-1zM47 43h1v1h-1zM29 45h1v1h-1zM45 46h1v1h-1zM34 49h1v1h-1zM39 50h1v1h-1z"/>
<path fill="#270000" d="M37 26h1v1h-1zM30 30h1v1h-1zM32 48h1v1h-1z"/>
<path fill="#290000" d="M44 28h1v1h-1zM29 31h1v1h-1zM27 38h1v1h-1zM28 42h1v1h-1zM46 44h1v1h-1zM42 48h1v1h-1zM40 49h1v1h-1z"/>
<path fill="#2b0000" d="M32 28h1v1h-1zM31 29h1v1h-1zM45 29h1v1h-1zM46 31h1v1h-1zM28 33h1v1h-1zM32 47h1v1h-1zM35 49h1v1h-1zM37 49h2v1h-2z"/>
<path fill="#2d0000" d="M34 27h1v1h-1zM47 33h1v1h-1zM29 44h1v1h-1zM33 48h1v1h-1zM39 49h1v1h-1z"/>
<path fill="#2f0000" d="M41 27h1v1h-1zM47 42h1v1h-1z"/>
<path fill="#300000" d="M43 28h1v1h-1zM45 30h1v1h-1zM28 41h1v1h-1z"/>
<path fill="#310000" d="M44 29h1v1h-1zM28 34h1v1h-1zM31 46h1v1h-1zM41 48h1v1h-1zM36 49h1v1h-1z"/>
<path fill="#320000" d="M45 45h1v1h-1z"/>
<path fill="#330000" d="M43 47h1v1h-1z"/>
<path fill="#340000" d="M35 27h1v1h-1z"/>
<path fill="#350000" d="M40 27h1v1h-1zM33 28h1v1h-1zM47 34h1v1h-1zM30 45h1v1h-1zM44 46h1v1h-1zM34 48h1v1h-1z"/>
<path fill="#370000" d="M42 28h1v1h-1zM47 41h1v1h-1z"/>
<path fill="#380000" d="M29 32h1v1h-1zM28 35h1v1h-1z"/>
<path fill="#390000" d="M38 27h1v1h-1z"/>
<path fill="#3a0000" d="M39 27h1v1h-1zM28 40h1v1h-1zM40 48h1v1h-1z"/>
<path fill="#3b0000" d="M36 27h1v1h-1zM46 32h1v1h-1zM46 43h1v1h-1z"/>
<path fill="#3d0000" d="M28 36h1v1h-1zM47 40h1v1h-1z"/>
<path fill="#3e0000" d="M47 35h1v1h-1zM33 47h1v1h-1z"/>
<path fill="#3f0000" d="M30 31h1v1h-1z"/>
<path fill="#400000" d="M39 48h1v1h-1z"/>
<path fill="#410000" d="M37 27h1v1h-1zM35 48h1v1h-1z"/>
<path fill="#420000" d="M45 31h1v1h-1zM28 37h1v1h-1zM29 43h1v1h-1z"/>
<path fill="#430000" d="M32 29h1v1h-1zM47 37h1v1h-1zM28 39h1v1h-1zM47 39h1v1h-1zM42 47h1v1h-1z"/>
<path fill="#440000" d="M41 28h1v1h-1zM47 36h1v1h-1z"/>
<path fill="#450000" d="M43 29h1v1h-1z"/>
<path fill="#460000" d="M34 28h1v1h-1zM28 38h1v1h-1z"/>
<path fill="#470000" d="M31 30h1v1h-1zM44 30h1v1h-1zM29 33h1v1h-1zM47 38h1v1h-1z"/>
<path fill="#490000" d="M45 44h1v1h-1zM38 48h1v1h-1z"/>
<path fill="#4c0000" d="M29 42h1v1h-1zM46 42h1v1h-1zM32 46h1v1h-1zM37 48h1v1h-1z"/>
<path fill="#4d0000" d="M36 48h1v1h-1z"/>
<path fill="#4e0000" d="M46 33h1v1h-1zM30 44h1v1h-1z"/>
<path fill="#500000" d="M40 28h1v1h-1z"/>
<path fill="#530000" d="M35 28h1v1h-1z"/>
<path fill="#550000" d="M44 45h1v1h-1zM43 46h1v1h-1zM34 47h1v1h-1z"/>
<path fill="#590000" d="M46 34h1v1h-1zM31 45h1v1h-1zM41 47h1v1h-1z"/>
<path fill="#5a0000" d="M33 29h1v1h-1z"/>
<path fill="#5e0000" d="M42 29h1v1h-1z"/>
<path fill="#5f0000" d="M30 32h1v1h-1zM29 34h1v1h-1z"/>
<path fill="#600000" d="M39 28h1v1h-1z"/>
<path fill="#610000" d="M29 41h1v1h-1z"/>
<path fill="#620000" d="M45 32h1v1h-1z"/>
<path fill="#630000" d="M36 28h1v1h-1z"/>
<path fill="#670000" d="M40 47h1v1h-1z"/>
<path fill="#680000" d="M37 28h1v1h-1zM43 30h1v1h-1z"/>
<path fill="#690000" d="M38 28h1v1h-1zM45 43h1v1h-1z"/>
<path fill="#6d0000" d="M35 47h1v1h-1z"/>
<path fill="#6e0000" d="M32 30h1v1h-1zM44 31h1v1h-1zM46 41h1v1h-1zM30 43h1v1h-1z"/>
<path fill="#6f0000" d="M31 31h1v1h-1zM33 46h1v1h-1z"/>
<path fill="#730000" d="M29 35h1v1h-1zM29 40h1v1h-1z"/>
<path fill="#740000" d="M46 35h1v1h-1z"/>
<path fill="#760000" d="M41 29h1v1h-1z"/>
<path fill="#770000" d="M36 47h1v1h-1zM39 47h1v1h-1z"/>
<path fill="#790000" d="M34 29h1v1h-1zM42 46h1v1h-1z"/>
<path fill="#7a0000" d="M46 40h1v1h-1z"/>
<path fill="#7b0000" d="M44 44h1v1h-1z"/>
<path fill="#7f0000" d="M37 47h1v1h-1z"/>
<path fill="#800000" d="M29 36h1v1h-1z"/>
<path fill="#810000" d="M38 47h1v1h-1z"/>
<path fill="#820000" d="M30 33h1v1h-1zM43 45h1v1h-1z"/>
<path fill="#830000" d="M46 36h1v1h-1z"/>
<path fill="#850000" d="M45 33h1v1h-1z"/>
<path fill="#860000" d="M31 44h1v1h-1zM32 45h1v1h-1z"/>
<path fill="#870000" d="M29 39h1v1h-1z"/>
<path fill="#8a0000" d="M29 37h1v1h-1zM46 37h1v1h-1zM29 38h1v1h-1zM46 39h1v1h-1z"/>
<path fill="#8c0000" d="M40 29h1v1h-1z"/>
<path fill="#8d0000" d="M35 29h1v1h-1zM34 46h1v1h-1z"/>
<path fill="#910000" d="M46 38h1v1h-1z"/>
<path fill="#920000" d="M42 30h1v1h-1z"/>
<path fill="#930000" d="M33 30h1v1h-1zM30 42h1v1h-1z"/>
<path fill="#940000" d="M45 42h1v1h-1z"/>
<path fill="#960000" d="M41 46h1v1h-1z"/>
<path fill="#9e0000" d="M44 32h1v1h-1z"/>
<path fill="#9f0000" d="M36 29h1v1h-1zM39 29h1v1h-1z"/>
<path fill="#a10000" d="M45 34h1v1h-1z"/>
<path fill="#a30000" d="M37 29h1v1h-1zM43 31h1v1h-1z"/>
<path fill="#a50000" d="M38 29h1v1h-1z"/>
<path fill="#a60000" d="M40 46h1v1h-1z"/>
<path fill="#a70000" d="M31 32h1v1h-1z"/>
<path fill="#ac0000" d="M35 46h1v1h-1z"/>
<path fill="#ad0000" d="M30 34h1v1h-1z"/>
<path fill="#ae0000" d="M32 31h1v1h-1zM44 43h1v1h-1z"/>
<path fill="#b50000" d="M30 41h1v1h-1z"/>
<path fill="#b60000" d="M31 43h1v1h-1zM33 45h1v1h-1z"/>
<path fill="#b80000" d="M43 44h1v1h-1zM42 45h1v1h-1z"/>
<path fill="#b90000" d="M34 30h1v1h-1z"/>
<path fill="#bd0000" d="M41 30h1v1h-1zM39 46h1v1h-1z"/>
<path fill="#c00000" d="M45 41h1v1h-1zM36 46h1v1h-1z"/>
<path fill="#c50000" d="M32 44h1v1h-1z"/>
<path fill="#c60000" d="M37 46h1v1h-1z"/>
<path fill="#ca0000" d="M45 35h1v1h-1zM38 46h1v1h-1z"/>
<path fill="#d00000" d="M30 35h1v1h-1z"/>
<path fill="#d10000" d="M44 33h1v1h-1z"/>
<path fill="#d90000" d="M35 30h1v1h-1zM31 33h1v1h-1z"/>
<path fill="#db0000" d="M40 30h1v1h-1z"/>
<path fill="#dc0000" d="M30 40h1v1h-1z"/>
<path fill="#df0000" d="M41 45h1v1h-1z"/>
<path fill="#e00000" d="M45 40h1v1h-1z"/>
<path fill="#e10000" d="M42 31h1v1h-1z"/>
<path fill="#e20000" d="M34 45h1v1h-1z"/>
<path fill="#e70000" d="M33 31h1v1h-1zM30 36h1v1h-1z"/>
<path fill="#ea0000" d="M43 32h1v1h-1z"/>
<path fill="#f00000" d="M36 30h1v1h-1zM31 42h1v1h-1z"/>
<path fill="#f10000" d="M39 30h1v1h-1z"/>
<path fill="#f20000" d="M44 42h1v1h-1z"/>
<path fill="#f40000" d="M45 36h1v1h-1z"/>
<path fill="#f60000" d="M40 45h1v1h-1z"/>
<path fill="#f70000" d="M45 39h1v1h-1z"/>
<path fill="#f90000" d="M32 32h1v1h-1zM30 37h1v1h-1zM30 39h1v1h-1z"/>
<path fill="#fb0000" d="M45 38h1v1h-1z"/>
<path fill="#fd0000" d="M45 37h1v1h-1z"/>
<path fill="#fe0000" d="M37 30h2v1h-2z"/>
<path fill="#ff0000" d="M33 44h1v1h-1z"/>
<path fill="#ff0100" d="M43 43h1v1h-1zM35 45h1v1h-1z"/>
<path fill="#ff0400" d="M30 38h1v1h-1z"/>
<path fill="#ff0600" d="M32 43h1v1h-1z"/>
<path fill="#ff0800" d="M42 44h1v1h-1z"/>
<path fill="#ff0c00" d="M34 31h1v1h-1z"/>
<path fill="#ff0e00" d="M31 34h1v1h-1z"/>
<path fill="#ff1000" d="M44 34h1v1h-1z"/>
<path fill="#ff1600" d="M41 31h1v1h-1z"/>
<path fill="#ff1b00" d="M39 45h1v1h-1z"/>
<path fill="#ff2100" d="M36 45h2v1h-2z"/>
<path fill="#ff2400" d="M38 45h1v1h-1z"/>
<path fill="#ff2500" d="M31 41h1v1h-1z"/>
<path fill="#ff2700" d="M43 33h1v1h-1z"/>
<path fill="#ff3200" d="M44 41h1v1h-1z"/>
<path fill="#ff3700" d="M42 32h1v1h-1z"/>
<path fill="#ff3900" d="M40 31h1v1h-1z"/>
<path fill="#ff3b00" d="M35 31h1v1h-1z"/>
<path fill="#ff3c00" d="M34 44h1v1h-1z"/>
<path fill="#ff3d00" d="M32 33h1v1h-1z"/>
<path fill="#ff3e00" d="M31 35h1v1h-1z"/>
<path fill="#ff4100" d="M33 32h1v1h-1z"/>
<path fill="#ff4200" d="M44 35h1v1h-1zM41 44h1v1h-1z"/>
<path fill="#ff4e00" d="M43 42h1v1h-1z"/>
<path fill="#ff4f00" d="M36 31h1v1h-1zM32 42h1v1h-1z"/>
<path fill="#ff5300" d="M33 43h1v1h-1zM42 43h1v1h-1z"/>
<path fill="#ff5400" d="M39 31h1v1h-1z"/>
<path fill="#ff5a00" d="M31 40h1v1h-1z"/>
<path fill="#ff5d00" d="M44 40h1v1h-1z"/>
<path fill="#ff6000" d="M38 31h1v1h-1z"/>
<path fill="#ff6100" d="M37 31h1v1h-1zM40 44h1v1h-1z"/>
<path fill="#ff6800" d="M31 36h1v1h-1z"/>
<path fill="#ff6900" d="M35 44h1v1h-1z"/>
<path fill="#ff6d00" d="M34 32h1v1h-1z"/>
<path fill="#ff6e00" d="M42 33h1v1h-1z"/>
<path fill="#ff6f00" d="M32 34h1v1h-1zM43 34h1v1h-1z"/>
<path fill="#ff7100" d="M44 36h1v1h-1z"/>
<path fill="#ff7400" d="M41 32h1v1h-1z"/>
<path fill="#ff7700" d="M31 39h1v1h-1z"/>
<path fill="#ff7900" d="M44 39h1v1h-1z"/>
<path fill="#ff7f00" d="M44 37h1v1h-1zM38 44h1v1h-1z"/>
<path fill="#ff8000" d="M31 37h1v1h-1zM36 44h1v1h-1zM39 44h1v1h-1z"/>
<path fill="#ff8300" d="M44 38h1v1h-1zM37 44h1v1h-1z"/>
<path fill="#ff8600" d="M31 38h1v1h-1z"/>
<path fill="#ff8800" d="M34 43h1v1h-1z"/>
<path fill="#ff8d00" d="M32 41h1v1h-1z"/>
<path fill="#ff8e00" d="M33 33h1v1h-1z"/>
<path fill="#ff9700" d="M43 41h1v1h-1z"/>
<path fill="#ff9900" d="M35 32h1v1h-1zM40 32h1v1h-1zM41 43h1v1h-1z"/>
<path fill="#ff9e00" d="M33 42h1v1h-1z"/>
<path fill="#ffa700" d="M32 35h1v1h-1z"/>
<path fill="#ffa800" d="M42 42h1v1h-1z"/>
<path fill="#ffaa00" d="M43 35h1v1h-1z"/>
<path fill="#ffb400" d="M36 32h1v1h-1z"/>
<path fill="#ffb600" d="M39 32h1v1h-1z"/>
<path fill="#ffb700" d="M42 34h1v1h-1z"/>
<path fill="#ffb800" d="M41 33h1v1h-1z"/>
<path fill="#ffbe00" d="M40 43h1v1h-1z"/>
<path fill="#ffc000" d="M35 43h1v1h-1z"/>
<path fill="#ffc200" d="M38 32h1v1h-1z"/>
<path fill="#ffc300" d="M37 32h1v1h-1zM43 40h1v1h-1z"/>
<path fill="#ffc500" d="M32 40h1v1h-1z"/>
<path fill="#ffc800" d="M34 33h1v1h-1z"/>
<path fill="#ffcb00" d="M33 34h1v1h-1z"/>
<path fill="#ffce00" d="M34 42h1v1h-1z"/>
<path fill="#ffcf00" d="M32 36h1v1h-1z"/>
<path fill="#ffd000" d="M38 43h1v1h-1z"/>
<path fill="#ffd400" d="M43 39h1v1h-1zM39 43h1v1h-1z"/>
<path fill="#ffda00" d="M43 36h1v1h-1zM36 43h1v1h-1z"/>
<path fill="#ffdb00" d="M35 33h1v1h-1z"/>
<path fill="#ffdc00" d="M37 43h1v1h-1z"/>
<path fill="#ffdf00" d="M32 39h1v1h-1z"/>
<path fill="#ffe100" d="M41 42h1v1h-1z"/>
<path fill="#ffe500" d="M43 37h1v1h-1z"/>
<path fill="#ffe700" d="M33 41h1v1h-1z"/>
<path fill="#ffea00" d="M32 38h1v1h-1z"/>
<path fill="#ffeb00" d="M40 33h1v1h-1zM43 38h1v1h-1z"/>
<path fill="#ffec00" d="M32 37h1v1h-1zM42 41h1v1h-1z"/>
<path fill="#ffed00" d="M42 35h1v1h-1z"/>
<path fill="#fff100" d="M41 34h1v1h-1z"/>
<path fill="#fff500" d="M36 33h1v1h-1z"/>
<path fill="#fff800" d="M33 35h1v1h-1z"/>
<path fill="#ffff07" d="M39 33h1v1h-1zM40 42h1v1h-1z"/>
<path fill="#ffff09" d="M34 34h1v1h-1z"/>
<path fill="#ffff10" d="M37 33h1v1h-1z"/>
<path fill="#ffff12" d="M38 33h1v1h-1z"/>
<path fill="#ffff18" d="M33 40h1v1h-1z"/>
<path fill="#ffff1b" d="M40 34h1v1h-1zM33 36h1v1h-1zM42 40h1v1h-1z"/>
<path fill="#ffff1e" d="M42 39h1v1h-1z"/>
<path fill="#ffff20" d="M41 41h1v1h-1z"/>
<path fill="#ffff22" d="M35 34h1v1h-1z"/>
<path fill="#ffff23" d="M35 42h1v1h-1zM39 42h1v1h-1z"/>
<path fill="#ffff24" d="M34 41h1v1h-1z"/>
<path fill="#ffff28" d="M42 36h1v1h-1z"/>
<path fill="#ffff29" d="M41 35h1v1h-1z"/>
<path fill="#ffff2e" d="M38 42h1v1h-1z"/>
<path fill="#ffff33" d="M37 42h1v1h-1z"/>
<path fill="#ffff37" d="M42 38h1v1h-1z"/>
<path fill="#ffff3b" d="M33 37h1v1h-1z"/>
<path fill="#ffff3d" d="M36 34h1v1h-1z"/>
<path fill="#ffff3f" d="M34 35h1v1h-1z"/>
<path fill="#ffff43" d="M42 37h1v1h-1z"/>
<path fill="#ffff48" d="M33 39h1v1h-1zM36 42h1v1h-1z"/>
<path fill="#ffff4e" d="M39 34h1v1h-1zM40 35h1v1h-1z"/>
<path fill="#ffff4f" d="M40 41h1v1h-1z"/>
<path fill="#ffff52" d="M35 41h1v1h-1z"/>
<path fill="#ffff54" d="M33 38h1v1h-1z"/>
<path fill="#ffff56" d="M34 36h1v1h-1z"/>
<path fill="#ffff57" d="M41 36h1v1h-1z"/>
<path fill="#ffff5b" d="M41 40h1v1h-1z"/>
<path fill="#ffff5e" d="M34 40h1v1h-1z"/>
<path fill="#ffff5f" d="M39 41h1v1h-1z"/>
<path fill="#ffff61" d="M38 41h1v1h-1z"/>
<path fill="#ffff67" d="M41 39h1v1h-1z"/>
<path fill="#ffff68" d="M36 41h1v1h-1z"/>
<path fill="#ffff6a" d="M34 37h1v1h-1z"/>
<path fill="#ffff6b" d="M37 34h1v1h-1z"/>
<path fill="#ffff6d" d="M34 39h1v1h-1z"/>
<path fill="#ffff6e" d="M37 39h1v1h-1zM37 40h1v1h-1zM37 41h1v1h-1z"/>
<path fill="#ffff6f" d="M35 36h1v1h-1z"/>
<path fill="#ffff72" d="M36 36h1v1h-1z"/>
<path fill="#ffff74" d="M38 34h1v1h-1z"/>
<path fill="#ffff77" d="M35 39h1v1h-1zM40 40h1v1h-1z"/>
<path fill="#ffff78" d="M38 40h1v1h-1z"/>
<path fill="#ffff79" d="M34 38h1v1h-1zM41 38h1v1h-1z"/>
<path fill="#ffff7b" d="M35 35h1v1h-1zM41 37h1v1h-1z"/>
<path fill="#ffff7c" d="M36 35h1v1h-1zM35 40h1v1h-1z"/>
<path fill="#ffff7e" d="M35 38h1v1h-1z"/>
<path fill="#ffff80" d="M35 37h1v1h-1z"/>
<path fill="#ffff81" d="M40 36h1v1h-1zM38 38h1v1h-1z"/>
<path fill="#ffff82" d="M37 36h1v1h-1z"/>
<path fill="#ffff83" d="M40 38h1v1h-1z"/>
<path fill="#ffff85" d="M39 37h1v1h-1zM40 39h1v1h-1z"/>
<path fill="#ffff86" d="M39 40h1v1h-1z"/>
<path fill="#ffff87" d="M36 39h1v1h-1z"/>
<path fill="#ffff88" d="M36 37h1v1h-1zM36 40h1v1h-1z"/>
<path fill="#ffff8a" d="M38 36h1v1h-1zM38 37h1v1h-1zM37 38h1v1h-1z"/>
<path fill="#ffff8e" d="M39 38h1v1h-1z"/>
<path fill="#ffff90" d="M37 37h1v1h-1zM38 39h1v1h-1z"/>
<path fill="#ffff92" d="M37 35h1v1h-1zM36 38h1v1h-1z"/>
<path fill="#ffff93" d="M39 35h1v1h-1z"/>
<path fill="#ffff99" d="M39 36h1v1h-1z"/>
<path fill="#ffff9a" d="M40 37h1v1h-1z"/>
<path fill="#ffff9b" d="M39 39h1v1h-1z"/>
<path fill="#ffffa2" d="M38 35h1v1h-1z"/>
</g>
<g stroke="#fff" stroke-opacity="0.65" stroke-width="3.5" fill="none">
<path d="M69.15 277.4H222.65 M369.15 277.4H522.65"/>
<path stroke-dasharray="13.03 5.63" d="M298.9 49.4V187.4 M298.9 361.4V499.4"/>
</g>
<rect x="68.5" y="46.6" width="455.6" height="455.3" fill="none" stroke="#000" stroke-width="1"/>
<text x="296.25" y="35.9" font-size="28.2" text-anchor="middle" fill="#000">Small focal spot</text>
<rect x="597" y="46.1" width="456.9" height="456.3" fill="#0a0000"/>
<g transform="translate(597.2 46.4) scale(6.00000)" shape-rendering="crispEdges">
<rect width="76" height="76" fill="#130000"/>
<path fill="#0d0000" d="M21 1h1v1h-1zM11 2h1v1h-1zM13 2h1v1h-1zM31 2h2v1h-2zM41 2h1v1h-1zM49 2h1v1h-1zM60 2h1v1h-1zM6 3h2v1h-2zM11 3h3v1h-3zM28 3h1v1h-1zM49 3h1v1h-1zM6 4h1v1h-1zM11 4h2v1h-2zM27 4h2v1h-2zM37 4h1v1h-1zM46 4h1v1h-1zM0 5h1v1h-1zM28 5h1v1h-1zM42 5h1v1h-1zM12 6h2v1h-2zM44 7h1v1h-1zM39 8h1v1h-1zM44 8h1v1h-1zM75 8h1v1h-1zM58 9h1v1h-1zM4 10h1v1h-1zM65 10h1v1h-1zM2 11h1v1h-1zM9 11h1v1h-1zM23 11h1v1h-1zM65 11h1v1h-1zM10 12h1v1h-1zM38 12h2v1h-2zM55 12h1v1h-1zM67 12h1v1h-1zM73 12h1v1h-1zM38 13h2v1h-2zM43 14h3v1h-3zM68 14h1v1h-1zM9 15h1v1h-1zM37 15h2v1h-2zM43 15h1v1h-1zM9 16h1v1h-1zM42 16h2v1h-2zM66 17h1v1h-1zM33 18h1v1h-1zM54 18h1v1h-1zM36 19h1v1h-1zM1 21h1v1h-1zM51 21h1v1h-1zM16 22h1v1h-1zM52 22h1v1h-1zM58 22h1v1h-1zM18 23h2v1h-2zM58 23h2v1h-2zM67 23h1v1h-1zM56 24h1v1h-1zM74 24h2v1h-2zM28 25h2v1h-2zM67 26h1v1h-1zM0 27h1v1h-1zM13 27h1v1h-1zM21 28h1v1h-1zM21 29h1v1h-1zM26 29h1v1h-1zM1 30h2v1h-2zM59 30h1v1h-1zM10 31h1v1h-1zM59 31h2v1h-2zM64 31h2v1h-2zM59 32h2v1h-2zM69 32h1v1h-1zM60 33h3v1h-3zM68 33h1v1h-1zM57 34h2v1h-2zM2 35h1v1h-1zM21 36h1v1h-1zM60 36h1v1h-1zM60 37h1v1h-1zM61 39h1v1h-1zM53 40h1v1h-1zM58 40h1v1h-1zM60 40h1v1h-1zM9 41h1v1h-1zM61 43h1v1h-1zM74 43h2v1h-2zM4 44h2v1h-2zM25 45h1v1h-1zM23 46h1v1h-1zM0 49h2v1h-2zM0 50h1v1h-1zM20 50h2v1h-2zM20 51h1v1h-1zM27 51h1v1h-1zM47 51h1v1h-1zM13 52h1v1h-1zM19 52h2v1h-2zM74 52h1v1h-1zM50 53h1v1h-1zM59 53h1v1h-1zM67 53h2v1h-2zM5 54h1v1h-1zM59 54h1v1h-1zM64 54h1v1h-1zM9 55h1v1h-1zM20 55h1v1h-1zM51 55h1v1h-1zM65 55h1v1h-1zM0 56h1v1h-1zM0 57h1v1h-1zM8 57h2v1h-2zM10 58h1v1h-1zM28 58h1v1h-1zM37 58h1v1h-1zM39 60h1v1h-1zM58 61h3v1h-3zM0 62h1v1h-1zM2 62h1v1h-1zM2 63h1v1h-1zM49 63h2v1h-2zM33 64h2v1h-2zM0 65h2v1h-2zM40 65h1v1h-1zM50 65h1v1h-1zM54 65h1v1h-1zM69 65h1v1h-1zM11 66h4v1h-4zM43 66h2v1h-2zM65 66h1v1h-1zM69 66h1v1h-1zM9 67h3v1h-3zM64 67h1v1h-1zM13 68h1v1h-1zM25 68h1v1h-1zM30 68h1v1h-1zM74 68h1v1h-1zM25 69h1v1h-1zM43 69h1v1h-1zM55 69h1v1h-1zM61 69h1v1h-1zM67 70h3v1h-3zM33 71h2v1h-2zM67 71h3v1h-3zM28 72h1v1h-1zM60 72h1v1h-1zM67 72h2v1h-2zM32 73h1v1h-1zM60 73h2v1h-2zM10 74h1v1h-1zM42 74h1v1h-1zM75 75h1v1h-1z"/>
<path fill="#0f0000" d="M16 0h1v1h-1zM66 0h1v1h-1zM11 1h1v1h-1zM23 1h1v1h-1zM32 1h1v1h-1zM52 1h2v1h-2zM66 1h2v1h-2zM1 2h1v1h-1zM6 2h1v1h-1zM51 2h1v1h-1zM45 3h1v1h-1zM60 3h1v1h-1zM29 4h1v1h-1zM47 4h1v1h-1zM60 4h1v1h-1zM7 5h1v1h-1zM27 5h1v1h-1zM59 5h1v1h-1zM27 6h1v1h-1zM38 6h2v1h-2zM70 6h1v1h-1zM23 7h1v1h-1zM9 8h1v1h-1zM22 8h1v1h-1zM24 8h1v1h-1zM43 8h1v1h-1zM4 9h1v1h-1zM40 9h1v1h-1zM75 9h1v1h-1zM2 10h2v1h-2zM13 10h1v1h-1zM32 11h1v1h-1zM54 11h1v1h-1zM53 12h1v1h-1zM56 12h1v1h-1zM74 12h1v1h-1zM49 13h2v1h-2zM63 13h1v1h-1zM73 13h1v1h-1zM8 14h1v1h-1zM17 14h2v1h-2zM21 14h1v1h-1zM28 14h1v1h-1zM39 14h1v1h-1zM10 15h1v1h-1zM18 15h1v1h-1zM21 15h1v1h-1zM55 15h1v1h-1zM28 17h1v1h-1zM67 17h1v1h-1zM8 18h1v1h-1zM57 18h1v1h-1zM60 18h1v1h-1zM74 18h1v1h-1zM2 19h1v1h-1zM25 19h1v1h-1zM44 21h1v1h-1zM52 21h1v1h-1zM72 21h2v1h-2zM2 22h1v1h-1zM7 22h1v1h-1zM17 22h1v1h-1zM59 22h1v1h-1zM72 22h1v1h-1zM15 23h1v1h-1zM74 23h2v1h-2zM0 24h1v1h-1zM8 24h1v1h-1zM57 24h1v1h-1zM14 25h1v1h-1zM48 25h1v1h-1zM67 25h1v1h-1zM75 25h1v1h-1zM21 26h1v1h-1zM53 26h1v1h-1zM56 26h1v1h-1zM66 26h1v1h-1zM12 27h1v1h-1zM17 28h1v1h-1zM59 28h1v1h-1zM67 29h1v1h-1zM65 30h1v1h-1zM70 30h1v1h-1zM1 31h1v1h-1zM53 31h2v1h-2zM63 31h1v1h-1zM69 31h1v1h-1zM11 32h1v1h-1zM69 33h1v1h-1zM2 34h1v1h-1zM14 34h1v1h-1zM61 34h1v1h-1zM0 35h2v1h-2zM15 35h1v1h-1zM21 35h1v1h-1zM22 36h1v1h-1zM56 37h1v1h-1zM1 38h1v1h-1zM22 38h1v1h-1zM13 39h1v1h-1zM53 39h1v1h-1zM68 39h1v1h-1zM9 40h1v1h-1zM19 40h1v1h-1zM61 40h1v1h-1zM55 41h1v1h-1zM58 41h1v1h-1zM69 42h1v1h-1zM15 44h1v1h-1zM23 45h1v1h-1zM26 45h1v1h-1zM53 45h1v1h-1zM53 46h1v1h-1zM56 49h1v1h-1zM57 51h2v1h-2zM21 53h1v1h-1zM46 53h1v1h-1zM48 53h2v1h-2zM51 53h1v1h-1zM60 53h1v1h-1zM74 53h1v1h-1zM4 54h1v1h-1zM21 54h1v1h-1zM49 54h1v1h-1zM12 55h2v1h-2zM66 55h1v1h-1zM10 57h1v1h-1zM58 57h2v1h-2zM29 58h1v1h-1zM31 58h1v1h-1zM33 58h1v1h-1zM47 58h1v1h-1zM37 59h1v1h-1zM53 59h1v1h-1zM57 59h1v1h-1zM38 60h1v1h-1zM50 60h2v1h-2zM59 60h1v1h-1zM66 60h2v1h-2zM69 60h1v1h-1zM18 61h1v1h-1zM29 61h1v1h-1zM1 62h1v1h-1zM3 62h2v1h-2zM9 62h1v1h-1zM18 62h1v1h-1zM49 62h1v1h-1zM74 62h1v1h-1zM22 63h1v1h-1zM33 63h1v1h-1zM57 63h1v1h-1zM21 64h2v1h-2zM50 64h1v1h-1zM70 64h1v1h-1zM32 65h1v1h-1zM47 65h1v1h-1zM19 67h1v1h-1zM5 68h1v1h-1zM15 68h1v1h-1zM35 68h1v1h-1zM37 68h1v1h-1zM61 68h1v1h-1zM75 68h1v1h-1zM15 69h1v1h-1zM21 69h1v1h-1zM26 69h1v1h-1zM68 69h1v1h-1zM9 70h1v1h-1zM30 70h1v1h-1zM46 70h1v1h-1zM12 71h2v1h-2zM63 71h2v1h-2zM14 72h1v1h-1zM18 72h1v1h-1zM29 72h1v1h-1zM32 72h1v1h-1zM66 72h1v1h-1zM69 72h1v1h-1zM10 73h1v1h-1zM42 73h1v1h-1zM31 75h1v1h-1z"/>
<path fill="#110000" d="M10 0h1v1h-1zM15 0h1v1h-1zM17 0h2v1h-2zM21 0h3v1h-3zM29 0h1v1h-1zM37 0h1v1h-1zM44 0h1v1h-1zM48 0h1v1h-1zM60 0h1v1h-1zM63 0h1v1h-1zM65 0h1v1h-1zM67 0h1v1h-1zM1 1h2v1h-2zM10 1h1v1h-1zM12 1h2v1h-2zM20 1h1v1h-1zM22 1h1v1h-1zM24 1h1v1h-1zM31 1h1v1h-1zM33 1h5v1h-5zM41 1h3v1h-3zM48 1h1v1h-1zM57 1h2v1h-2zM60 1h1v1h-1zM62 1h3v1h-3zM68 1h1v1h-1zM3 2h1v1h-1zM7 2h4v1h-4zM12 2h1v1h-1zM14 2h1v1h-1zM19 2h1v1h-1zM21 2h4v1h-4zM30 2h1v1h-1zM34 2h2v1h-2zM42 2h4v1h-4zM48 2h1v1h-1zM50 2h1v1h-1zM52 2h1v1h-1zM55 2h1v1h-1zM59 2h1v1h-1zM63 2h1v1h-1zM70 2h1v1h-1zM5 3h1v1h-1zM10 3h1v1h-1zM14 3h1v1h-1zM18 3h2v1h-2zM27 3h1v1h-1zM29 3h1v1h-1zM41 3h4v1h-4zM47 3h2v1h-2zM50 3h3v1h-3zM55 3h2v1h-2zM59 3h1v1h-1zM70 3h1v1h-1zM75 3h1v1h-1zM0 4h1v1h-1zM5 4h1v1h-1zM7 4h1v1h-1zM10 4h1v1h-1zM22 4h1v1h-1zM25 4h1v1h-1zM33 4h3v1h-3zM38 4h1v1h-1zM42 4h1v1h-1zM45 4h1v1h-1zM49 4h3v1h-3zM59 4h1v1h-1zM63 4h1v1h-1zM65 4h1v1h-1zM67 4h1v1h-1zM70 4h1v1h-1zM6 5h1v1h-1zM11 5h2v1h-2zM20 5h2v1h-2zM23 5h3v1h-3zM29 5h1v1h-1zM34 5h1v1h-1zM38 5h2v1h-2zM41 5h1v1h-1zM47 5h1v1h-1zM55 5h2v1h-2zM58 5h1v1h-1zM60 5h1v1h-1zM63 5h4v1h-4zM70 5h1v1h-1zM0 6h1v1h-1zM5 6h1v1h-1zM11 6h1v1h-1zM14 6h1v1h-1zM18 6h1v1h-1zM21 6h1v1h-1zM23 6h2v1h-2zM28 6h1v1h-1zM33 6h1v1h-1zM37 6h1v1h-1zM42 6h1v1h-1zM53 6h1v1h-1zM56 6h1v1h-1zM63 6h2v1h-2zM69 6h1v1h-1zM71 6h3v1h-3zM6 7h1v1h-1zM9 7h1v1h-1zM11 7h1v1h-1zM17 7h3v1h-3zM21 7h2v1h-2zM24 7h1v1h-1zM27 7h1v1h-1zM38 7h2v1h-2zM43 7h1v1h-1zM51 7h3v1h-3zM56 7h2v1h-2zM63 7h1v1h-1zM3 8h1v1h-1zM10 8h1v1h-1zM17 8h1v1h-1zM19 8h1v1h-1zM21 8h1v1h-1zM25 8h1v1h-1zM30 8h1v1h-1zM37 8h2v1h-2zM40 8h1v1h-1zM53 8h1v1h-1zM56 8h4v1h-4zM61 8h2v1h-2zM0 9h1v1h-1zM3 9h1v1h-1zM9 9h3v1h-3zM17 9h1v1h-1zM20 9h3v1h-3zM25 9h2v1h-2zM31 9h1v1h-1zM39 9h1v1h-1zM53 9h2v1h-2zM57 9h1v1h-1zM59 9h1v1h-1zM65 9h1v1h-1zM70 9h1v1h-1zM72 9h2v1h-2zM0 10h1v1h-1zM5 10h7v1h-7zM14 10h3v1h-3zM23 10h2v1h-2zM30 10h3v1h-3zM35 10h1v1h-1zM40 10h1v1h-1zM53 10h3v1h-3zM58 10h4v1h-4zM66 10h1v1h-1zM71 10h5v1h-5zM1 11h1v1h-1zM7 11h2v1h-2zM10 11h2v1h-2zM15 11h1v1h-1zM24 11h1v1h-1zM29 11h1v1h-1zM33 11h1v1h-1zM35 11h2v1h-2zM38 11h1v1h-1zM49 11h1v1h-1zM53 11h1v1h-1zM55 11h1v1h-1zM64 11h1v1h-1zM66 11h1v1h-1zM72 11h1v1h-1zM2 12h1v1h-1zM8 12h2v1h-2zM11 12h1v1h-1zM16 12h1v1h-1zM23 12h2v1h-2zM26 12h2v1h-2zM33 12h2v1h-2zM36 12h2v1h-2zM40 12h2v1h-2zM48 12h2v1h-2zM54 12h1v1h-1zM64 12h3v1h-3zM72 12h1v1h-1zM7 13h5v1h-5zM14 13h1v1h-1zM17 13h1v1h-1zM19 13h1v1h-1zM24 13h1v1h-1zM28 13h2v1h-2zM37 13h1v1h-1zM41 13h1v1h-1zM43 13h3v1h-3zM47 13h2v1h-2zM51 13h1v1h-1zM53 13h1v1h-1zM55 13h1v1h-1zM58 13h1v1h-1zM64 13h4v1h-4zM72 13h1v1h-1zM74 13h1v1h-1zM5 14h3v1h-3zM9 14h4v1h-4zM25 14h1v1h-1zM29 14h1v1h-1zM34 14h1v1h-1zM37 14h2v1h-2zM42 14h1v1h-1zM46 14h5v1h-5zM53 14h3v1h-3zM57 14h2v1h-2zM65 14h1v1h-1zM69 14h1v1h-1zM74 14h1v1h-1zM1 15h1v1h-1zM5 15h1v1h-1zM8 15h1v1h-1zM11 15h2v1h-2zM19 15h2v1h-2zM23 15h1v1h-1zM39 15h1v1h-1zM42 15h1v1h-1zM44 15h2v1h-2zM47 15h4v1h-4zM53 15h2v1h-2zM67 15h2v1h-2zM74 15h1v1h-1zM4 16h2v1h-2zM8 16h1v1h-1zM10 16h1v1h-1zM22 16h2v1h-2zM28 16h1v1h-1zM37 16h2v1h-2zM44 16h2v1h-2zM52 16h3v1h-3zM61 16h1v1h-1zM64 16h3v1h-3zM5 17h1v1h-1zM26 17h1v1h-1zM29 17h1v1h-1zM38 17h1v1h-1zM42 17h1v1h-1zM47 17h2v1h-2zM52 17h3v1h-3zM58 17h4v1h-4zM65 17h1v1h-1zM70 17h1v1h-1zM9 18h1v1h-1zM26 18h1v1h-1zM28 18h2v1h-2zM31 18h2v1h-2zM36 18h2v1h-2zM40 18h1v1h-1zM52 18h2v1h-2zM55 18h2v1h-2zM58 18h2v1h-2zM61 18h1v1h-1zM66 18h1v1h-1zM75 18h1v1h-1zM3 19h1v1h-1zM7 19h1v1h-1zM18 19h2v1h-2zM21 19h1v1h-1zM23 19h1v1h-1zM26 19h2v1h-2zM29 19h2v1h-2zM33 19h1v1h-1zM37 19h1v1h-1zM39 19h2v1h-2zM55 19h1v1h-1zM2 20h2v1h-2zM17 20h2v1h-2zM21 20h1v1h-1zM43 20h3v1h-3zM51 20h1v1h-1zM55 20h3v1h-3zM59 20h1v1h-1zM66 20h2v1h-2zM71 20h1v1h-1zM0 21h1v1h-1zM8 21h1v1h-1zM14 21h4v1h-4zM20 21h2v1h-2zM24 21h1v1h-1zM34 21h1v1h-1zM45 21h1v1h-1zM49 21h1v1h-1zM58 21h1v1h-1zM62 21h1v1h-1zM65 21h2v1h-2zM69 21h3v1h-3zM75 21h1v1h-1zM1 22h1v1h-1zM6 22h1v1h-1zM8 22h1v1h-1zM14 22h2v1h-2zM18 22h1v1h-1zM27 22h1v1h-1zM29 22h1v1h-1zM33 22h1v1h-1zM41 22h1v1h-1zM44 22h2v1h-2zM50 22h2v1h-2zM53 22h1v1h-1zM57 22h1v1h-1zM62 22h1v1h-1zM65 22h1v1h-1zM67 22h1v1h-1zM69 22h3v1h-3zM1 23h1v1h-1zM7 23h2v1h-2zM10 23h1v1h-1zM14 23h1v1h-1zM17 23h1v1h-1zM50 23h1v1h-1zM52 23h1v1h-1zM55 23h3v1h-3zM68 23h1v1h-1zM9 24h1v1h-1zM13 24h4v1h-4zM18 24h3v1h-3zM28 24h2v1h-2zM47 24h2v1h-2zM50 24h2v1h-2zM58 24h2v1h-2zM61 24h2v1h-2zM66 24h1v1h-1zM68 24h1v1h-1zM70 24h1v1h-1zM73 24h1v1h-1zM4 25h1v1h-1zM12 25h2v1h-2zM25 25h1v1h-1zM55 25h2v1h-2zM59 25h1v1h-1zM62 25h1v1h-1zM66 25h1v1h-1zM74 25h1v1h-1zM0 26h1v1h-1zM7 26h1v1h-1zM12 26h3v1h-3zM16 26h2v1h-2zM25 26h1v1h-1zM54 26h2v1h-2zM57 26h4v1h-4zM62 26h1v1h-1zM7 27h1v1h-1zM11 27h1v1h-1zM14 27h1v1h-1zM16 27h2v1h-2zM21 27h1v1h-1zM26 27h2v1h-2zM53 27h1v1h-1zM56 27h1v1h-1zM62 27h1v1h-1zM66 27h1v1h-1zM6 28h1v1h-1zM12 28h3v1h-3zM24 28h4v1h-4zM48 28h1v1h-1zM58 28h1v1h-1zM71 28h1v1h-1zM75 28h1v1h-1zM14 29h2v1h-2zM18 29h1v1h-1zM24 29h2v1h-2zM59 29h1v1h-1zM61 29h1v1h-1zM64 29h1v1h-1zM71 29h1v1h-1zM75 29h1v1h-1zM3 30h1v1h-1zM13 30h1v1h-1zM26 30h1v1h-1zM58 30h1v1h-1zM60 30h1v1h-1zM63 30h2v1h-2zM66 30h2v1h-2zM69 30h1v1h-1zM71 30h1v1h-1zM2 31h1v1h-1zM8 31h2v1h-2zM11 31h1v1h-1zM16 31h1v1h-1zM21 31h1v1h-1zM61 31h1v1h-1zM66 31h1v1h-1zM70 31h2v1h-2zM8 32h1v1h-1zM10 32h1v1h-1zM22 32h3v1h-3zM52 32h1v1h-1zM54 32h1v1h-1zM61 32h1v1h-1zM70 32h1v1h-1zM11 33h1v1h-1zM14 33h2v1h-2zM18 33h2v1h-2zM22 33h2v1h-2zM51 33h1v1h-1zM58 33h2v1h-2zM70 33h1v1h-1zM0 34h2v1h-2zM15 34h1v1h-1zM21 34h3v1h-3zM51 34h1v1h-1zM56 34h1v1h-1zM60 34h1v1h-1zM62 34h1v1h-1zM64 34h1v1h-1zM68 34h1v1h-1zM70 34h1v1h-1zM3 35h1v1h-1zM7 35h1v1h-1zM14 35h1v1h-1zM16 35h1v1h-1zM22 35h3v1h-3zM56 35h2v1h-2zM63 35h3v1h-3zM68 35h1v1h-1zM0 36h1v1h-1zM15 36h1v1h-1zM20 36h1v1h-1zM23 36h1v1h-1zM54 36h1v1h-1zM61 36h1v1h-1zM0 37h2v1h-2zM5 37h1v1h-1zM8 37h2v1h-2zM18 37h1v1h-1zM22 37h2v1h-2zM55 37h1v1h-1zM59 37h1v1h-1zM61 37h1v1h-1zM63 37h1v1h-1zM69 37h2v1h-2zM73 37h1v1h-1zM0 38h1v1h-1zM6 38h1v1h-1zM12 38h2v1h-2zM18 38h1v1h-1zM51 38h2v1h-2zM55 38h1v1h-1zM58 38h7v1h-7zM69 38h1v1h-1zM73 38h1v1h-1zM1 39h4v1h-4zM8 39h2v1h-2zM14 39h1v1h-1zM19 39h1v1h-1zM52 39h1v1h-1zM54 39h1v1h-1zM58 39h1v1h-1zM60 39h1v1h-1zM62 39h4v1h-4zM73 39h1v1h-1zM3 40h2v1h-2zM13 40h2v1h-2zM50 40h3v1h-3zM54 40h1v1h-1zM56 40h2v1h-2zM59 40h1v1h-1zM62 40h2v1h-2zM68 40h1v1h-1zM5 41h1v1h-1zM8 41h1v1h-1zM57 41h1v1h-1zM63 41h2v1h-2zM73 41h2v1h-2zM5 42h1v1h-1zM9 42h1v1h-1zM12 42h1v1h-1zM15 42h2v1h-2zM20 42h1v1h-1zM22 42h2v1h-2zM55 42h1v1h-1zM63 42h2v1h-2zM73 42h3v1h-3zM7 43h1v1h-1zM15 43h1v1h-1zM54 43h1v1h-1zM57 43h1v1h-1zM62 43h1v1h-1zM70 43h1v1h-1zM73 43h1v1h-1zM0 44h1v1h-1zM6 44h1v1h-1zM11 44h1v1h-1zM13 44h2v1h-2zM16 44h1v1h-1zM51 44h3v1h-3zM57 44h2v1h-2zM61 44h1v1h-1zM67 44h1v1h-1zM74 44h2v1h-2zM0 45h1v1h-1zM4 45h1v1h-1zM10 45h1v1h-1zM14 45h2v1h-2zM21 45h1v1h-1zM24 45h1v1h-1zM52 45h1v1h-1zM54 45h1v1h-1zM58 45h1v1h-1zM61 45h4v1h-4zM67 45h2v1h-2zM74 45h1v1h-1zM0 46h2v1h-2zM4 46h1v1h-1zM7 46h1v1h-1zM9 46h1v1h-1zM21 46h2v1h-2zM24 46h2v1h-2zM52 46h1v1h-1zM54 46h1v1h-1zM58 46h1v1h-1zM62 46h2v1h-2zM68 46h1v1h-1zM11 47h1v1h-1zM15 47h2v1h-2zM51 47h2v1h-2zM54 47h2v1h-2zM57 47h2v1h-2zM61 47h1v1h-1zM64 47h1v1h-1zM71 47h2v1h-2zM74 47h2v1h-2zM0 48h2v1h-2zM4 48h1v1h-1zM14 48h2v1h-2zM18 48h1v1h-1zM51 48h2v1h-2zM54 48h1v1h-1zM56 48h2v1h-2zM61 48h1v1h-1zM64 48h1v1h-1zM71 48h2v1h-2zM5 49h4v1h-4zM11 49h2v1h-2zM21 49h2v1h-2zM25 49h1v1h-1zM28 49h1v1h-1zM57 49h1v1h-1zM61 49h1v1h-1zM1 50h2v1h-2zM8 50h1v1h-1zM27 50h3v1h-3zM56 50h1v1h-1zM59 50h1v1h-1zM61 50h1v1h-1zM73 50h1v1h-1zM0 51h1v1h-1zM2 51h1v1h-1zM8 51h6v1h-6zM19 51h1v1h-1zM24 51h1v1h-1zM26 51h1v1h-1zM28 51h1v1h-1zM59 51h4v1h-4zM70 51h1v1h-1zM8 52h2v1h-2zM12 52h1v1h-1zM14 52h1v1h-1zM21 52h2v1h-2zM25 52h2v1h-2zM43 52h1v1h-1zM47 52h1v1h-1zM50 52h1v1h-1zM57 52h1v1h-1zM59 52h3v1h-3zM72 52h2v1h-2zM7 53h1v1h-1zM9 53h1v1h-1zM13 53h3v1h-3zM19 53h2v1h-2zM27 53h1v1h-1zM32 53h1v1h-1zM47 53h1v1h-1zM58 53h1v1h-1zM61 53h1v1h-1zM63 53h2v1h-2zM6 54h1v1h-1zM9 54h6v1h-6zM28 54h2v1h-2zM48 54h1v1h-1zM50 54h3v1h-3zM58 54h1v1h-1zM60 54h1v1h-1zM63 54h1v1h-1zM65 54h4v1h-4zM0 55h2v1h-2zM4 55h2v1h-2zM10 55h2v1h-2zM14 55h1v1h-1zM18 55h2v1h-2zM21 55h2v1h-2zM25 55h2v1h-2zM38 55h1v1h-1zM50 55h1v1h-1zM52 55h1v1h-1zM54 55h2v1h-2zM57 55h2v1h-2zM64 55h1v1h-1zM72 55h1v1h-1zM1 56h3v1h-3zM8 56h2v1h-2zM14 56h1v1h-1zM20 56h1v1h-1zM30 56h2v1h-2zM43 56h1v1h-1zM49 56h2v1h-2zM53 56h2v1h-2zM59 56h1v1h-1zM1 57h1v1h-1zM18 57h3v1h-3zM26 57h2v1h-2zM29 57h2v1h-2zM32 57h2v1h-2zM36 57h2v1h-2zM41 57h1v1h-1zM52 57h2v1h-2zM60 57h1v1h-1zM6 58h4v1h-4zM11 58h1v1h-1zM18 58h3v1h-3zM22 58h1v1h-1zM26 58h2v1h-2zM30 58h1v1h-1zM32 58h1v1h-1zM35 58h2v1h-2zM38 58h1v1h-1zM45 58h2v1h-2zM48 58h1v1h-1zM51 58h2v1h-2zM57 58h2v1h-2zM66 58h1v1h-1zM70 58h1v1h-1zM73 58h1v1h-1zM5 59h3v1h-3zM9 59h2v1h-2zM13 59h1v1h-1zM21 59h3v1h-3zM28 59h2v1h-2zM32 59h1v1h-1zM35 59h2v1h-2zM38 59h1v1h-1zM42 59h1v1h-1zM50 59h1v1h-1zM52 59h1v1h-1zM56 59h1v1h-1zM58 59h1v1h-1zM63 59h1v1h-1zM66 59h2v1h-2zM69 59h1v1h-1zM2 60h1v1h-1zM5 60h2v1h-2zM13 60h1v1h-1zM16 60h1v1h-1zM21 60h1v1h-1zM32 60h1v1h-1zM35 60h3v1h-3zM43 60h1v1h-1zM53 60h1v1h-1zM60 60h1v1h-1zM68 60h1v1h-1zM70 60h2v1h-2zM0 61h3v1h-3zM4 61h1v1h-1zM8 61h2v1h-2zM14 61h1v1h-1zM21 61h1v1h-1zM30 61h1v1h-1zM39 61h1v1h-1zM41 61h5v1h-5zM50 61h2v1h-2zM61 61h1v1h-1zM63 61h1v1h-1zM66 61h3v1h-3zM73 61h2v1h-2zM8 62h1v1h-1zM14 62h3v1h-3zM22 62h2v1h-2zM28 62h2v1h-2zM33 62h1v1h-1zM35 62h1v1h-1zM38 62h1v1h-1zM42 62h2v1h-2zM48 62h1v1h-1zM50 62h2v1h-2zM54 62h1v1h-1zM58 62h3v1h-3zM73 62h1v1h-1zM0 63h2v1h-2zM3 63h2v1h-2zM15 63h2v1h-2zM21 63h1v1h-1zM29 63h4v1h-4zM34 63h2v1h-2zM38 63h1v1h-1zM40 63h1v1h-1zM51 63h2v1h-2zM56 63h1v1h-1zM70 63h2v1h-2zM0 64h3v1h-3zM4 64h2v1h-2zM9 64h2v1h-2zM12 64h1v1h-1zM15 64h1v1h-1zM24 64h2v1h-2zM28 64h2v1h-2zM31 64h2v1h-2zM40 64h2v1h-2zM46 64h2v1h-2zM49 64h1v1h-1zM51 64h2v1h-2zM56 64h1v1h-1zM66 64h2v1h-2zM69 64h1v1h-1zM71 64h2v1h-2zM2 65h1v1h-1zM8 65h1v1h-1zM11 65h2v1h-2zM14 65h1v1h-1zM21 65h2v1h-2zM24 65h2v1h-2zM30 65h2v1h-2zM42 65h3v1h-3zM51 65h3v1h-3zM55 65h1v1h-1zM67 65h2v1h-2zM70 65h1v1h-1zM72 65h1v1h-1zM10 66h1v1h-1zM17 66h2v1h-2zM20 66h1v1h-1zM22 66h1v1h-1zM25 66h1v1h-1zM32 66h1v1h-1zM35 66h2v1h-2zM38 66h1v1h-1zM42 66h1v1h-1zM47 66h1v1h-1zM55 66h2v1h-2zM68 66h1v1h-1zM70 66h1v1h-1zM72 66h2v1h-2zM5 67h1v1h-1zM12 67h4v1h-4zM18 67h1v1h-1zM20 67h1v1h-1zM22 67h2v1h-2zM25 67h1v1h-1zM30 67h1v1h-1zM32 67h1v1h-1zM35 67h4v1h-4zM44 67h1v1h-1zM53 67h1v1h-1zM56 67h2v1h-2zM63 67h1v1h-1zM65 67h1v1h-1zM70 67h1v1h-1zM73 67h1v1h-1zM3 68h2v1h-2zM8 68h2v1h-2zM14 68h1v1h-1zM31 68h1v1h-1zM36 68h1v1h-1zM38 68h1v1h-1zM44 68h1v1h-1zM50 68h2v1h-2zM53 68h5v1h-5zM62 68h1v1h-1zM64 68h1v1h-1zM70 68h2v1h-2zM0 69h2v1h-2zM5 69h1v1h-1zM8 69h2v1h-2zM13 69h2v1h-2zM16 69h1v1h-1zM20 69h1v1h-1zM27 69h1v1h-1zM37 69h1v1h-1zM42 69h1v1h-1zM44 69h1v1h-1zM46 69h1v1h-1zM48 69h1v1h-1zM50 69h2v1h-2zM54 69h1v1h-1zM59 69h2v1h-2zM62 69h1v1h-1zM69 69h1v1h-1zM71 69h1v1h-1zM74 69h1v1h-1zM3 70h1v1h-1zM5 70h1v1h-1zM10 70h1v1h-1zM14 70h2v1h-2zM21 70h1v1h-1zM25 70h1v1h-1zM29 70h1v1h-1zM33 70h1v1h-1zM43 70h3v1h-3zM50 70h1v1h-1zM54 70h1v1h-1zM58 70h1v1h-1zM60 70h5v1h-5zM70 70h2v1h-2zM73 70h1v1h-1zM9 71h3v1h-3zM14 71h1v1h-1zM16 71h1v1h-1zM28 71h2v1h-2zM32 71h1v1h-1zM35 71h1v1h-1zM38 71h2v1h-2zM45 71h2v1h-2zM58 71h2v1h-2zM65 71h2v1h-2zM7 72h3v1h-3zM17 72h1v1h-1zM21 72h1v1h-1zM27 72h1v1h-1zM33 72h2v1h-2zM38 72h1v1h-1zM45 72h1v1h-1zM59 72h1v1h-1zM61 72h1v1h-1zM65 72h1v1h-1zM3 73h2v1h-2zM6 73h2v1h-2zM9 73h1v1h-1zM31 73h1v1h-1zM33 73h1v1h-1zM38 73h1v1h-1zM43 73h1v1h-1zM53 73h1v1h-1zM59 73h1v1h-1zM66 73h3v1h-3zM73 73h1v1h-1zM1 74h1v1h-1zM4 74h4v1h-4zM23 74h2v1h-2zM32 74h1v1h-1zM41 74h1v1h-1zM47 74h1v1h-1zM57 74h1v1h-1zM60 74h2v1h-2zM65 74h2v1h-2zM70 74h2v1h-2zM73 74h1v1h-1zM75 74h1v1h-1zM6 75h2v1h-2zM10 75h2v1h-2zM23 75h1v1h-1zM28 75h1v1h-1zM55 75h3v1h-3zM61 75h1v1h-1zM69 75h3v1h-3zM74 75h1v1h-1z"/>
<path fill="#150000" d="M2 0h1v1h-1zM8 0h2v1h-2zM13 0h1v1h-1zM24 0h2v1h-2zM30 0h1v1h-1zM32 0h4v1h-4zM41 0h2v1h-2zM45 0h1v1h-1zM49 0h1v1h-1zM55 0h1v1h-1zM59 0h1v1h-1zM62 0h1v1h-1zM64 0h1v1h-1zM68 0h2v1h-2zM71 0h3v1h-3zM75 0h1v1h-1zM0 1h1v1h-1zM3 1h3v1h-3zM7 1h3v1h-3zM15 1h3v1h-3zM19 1h1v1h-1zM25 1h1v1h-1zM27 1h4v1h-4zM38 1h2v1h-2zM44 1h2v1h-2zM47 1h1v1h-1zM50 1h2v1h-2zM54 1h3v1h-3zM59 1h1v1h-1zM61 1h1v1h-1zM69 1h5v1h-5zM0 2h1v1h-1zM4 2h2v1h-2zM17 2h2v1h-2zM26 2h2v1h-2zM33 2h1v1h-1zM36 2h2v1h-2zM40 2h1v1h-1zM53 2h1v1h-1zM58 2h1v1h-1zM65 2h5v1h-5zM71 2h5v1h-5zM0 3h3v1h-3zM15 3h1v1h-1zM20 3h7v1h-7zM30 3h3v1h-3zM35 3h3v1h-3zM46 3h1v1h-1zM61 3h3v1h-3zM66 3h2v1h-2zM72 3h2v1h-2zM2 4h3v1h-3zM9 4h1v1h-1zM13 4h9v1h-9zM23 4h1v1h-1zM26 4h1v1h-1zM30 4h1v1h-1zM39 4h1v1h-1zM41 4h1v1h-1zM43 4h2v1h-2zM53 4h1v1h-1zM58 4h1v1h-1zM64 4h1v1h-1zM68 4h1v1h-1zM73 4h3v1h-3zM4 5h1v1h-1zM8 5h2v1h-2zM13 5h2v1h-2zM17 5h3v1h-3zM26 5h1v1h-1zM35 5h1v1h-1zM37 5h1v1h-1zM43 5h4v1h-4zM48 5h1v1h-1zM50 5h2v1h-2zM54 5h1v1h-1zM61 5h1v1h-1zM71 5h2v1h-2zM74 5h2v1h-2zM1 6h1v1h-1zM4 6h1v1h-1zM6 6h2v1h-2zM9 6h1v1h-1zM17 6h1v1h-1zM19 6h2v1h-2zM22 6h1v1h-1zM25 6h2v1h-2zM36 6h1v1h-1zM40 6h2v1h-2zM43 6h2v1h-2zM46 6h5v1h-5zM54 6h2v1h-2zM58 6h1v1h-1zM61 6h2v1h-2zM65 6h4v1h-4zM74 6h2v1h-2zM1 7h1v1h-1zM3 7h2v1h-2zM7 7h1v1h-1zM15 7h1v1h-1zM20 7h1v1h-1zM25 7h2v1h-2zM28 7h2v1h-2zM31 7h2v1h-2zM40 7h3v1h-3zM45 7h1v1h-1zM48 7h1v1h-1zM50 7h1v1h-1zM55 7h1v1h-1zM59 7h1v1h-1zM61 7h2v1h-2zM66 7h7v1h-7zM0 8h1v1h-1zM2 8h1v1h-1zM4 8h2v1h-2zM14 8h3v1h-3zM18 8h1v1h-1zM20 8h1v1h-1zM26 8h1v1h-1zM29 8h1v1h-1zM32 8h1v1h-1zM34 8h1v1h-1zM36 8h1v1h-1zM42 8h1v1h-1zM45 8h1v1h-1zM47 8h2v1h-2zM50 8h3v1h-3zM54 8h2v1h-2zM60 8h1v1h-1zM66 8h1v1h-1zM71 8h1v1h-1zM73 8h2v1h-2zM1 9h2v1h-2zM5 9h1v1h-1zM7 9h1v1h-1zM12 9h1v1h-1zM14 9h1v1h-1zM19 9h1v1h-1zM24 9h1v1h-1zM27 9h3v1h-3zM32 9h1v1h-1zM34 9h3v1h-3zM41 9h11v1h-11zM55 9h2v1h-2zM60 9h1v1h-1zM62 9h2v1h-2zM66 9h1v1h-1zM69 9h1v1h-1zM12 10h1v1h-1zM19 10h1v1h-1zM21 10h2v1h-2zM26 10h3v1h-3zM33 10h2v1h-2zM36 10h1v1h-1zM38 10h2v1h-2zM41 10h1v1h-1zM45 10h2v1h-2zM50 10h1v1h-1zM62 10h1v1h-1zM68 10h1v1h-1zM0 11h1v1h-1zM3 11h4v1h-4zM12 11h1v1h-1zM14 11h1v1h-1zM16 11h1v1h-1zM21 11h2v1h-2zM26 11h2v1h-2zM30 11h2v1h-2zM37 11h1v1h-1zM41 11h1v1h-1zM46 11h1v1h-1zM50 11h1v1h-1zM56 11h1v1h-1zM58 11h5v1h-5zM68 11h1v1h-1zM70 11h1v1h-1zM73 11h1v1h-1zM75 11h1v1h-1zM0 12h2v1h-2zM3 12h1v1h-1zM7 12h1v1h-1zM12 12h1v1h-1zM14 12h2v1h-2zM17 12h1v1h-1zM19 12h1v1h-1zM21 12h2v1h-2zM25 12h1v1h-1zM29 12h1v1h-1zM31 12h2v1h-2zM42 12h4v1h-4zM50 12h2v1h-2zM57 12h1v1h-1zM69 12h1v1h-1zM71 12h1v1h-1zM75 12h1v1h-1zM0 13h1v1h-1zM2 13h1v1h-1zM5 13h1v1h-1zM13 13h1v1h-1zM16 13h1v1h-1zM18 13h1v1h-1zM20 13h1v1h-1zM22 13h1v1h-1zM25 13h3v1h-3zM32 13h3v1h-3zM42 13h1v1h-1zM52 13h1v1h-1zM56 13h2v1h-2zM59 13h1v1h-1zM69 13h2v1h-2zM75 13h1v1h-1zM0 14h3v1h-3zM4 14h1v1h-1zM15 14h2v1h-2zM19 14h2v1h-2zM22 14h3v1h-3zM26 14h2v1h-2zM30 14h4v1h-4zM35 14h2v1h-2zM40 14h1v1h-1zM51 14h2v1h-2zM59 14h1v1h-1zM70 14h2v1h-2zM73 14h1v1h-1zM0 15h1v1h-1zM2 15h3v1h-3zM7 15h1v1h-1zM13 15h1v1h-1zM22 15h1v1h-1zM24 15h2v1h-2zM27 15h1v1h-1zM31 15h3v1h-3zM35 15h1v1h-1zM46 15h1v1h-1zM52 15h1v1h-1zM56 15h2v1h-2zM59 15h3v1h-3zM63 15h2v1h-2zM69 15h1v1h-1zM0 16h3v1h-3zM11 16h2v1h-2zM15 16h5v1h-5zM25 16h3v1h-3zM31 16h4v1h-4zM36 16h1v1h-1zM39 16h1v1h-1zM41 16h1v1h-1zM46 16h3v1h-3zM50 16h2v1h-2zM57 16h4v1h-4zM62 16h2v1h-2zM73 16h2v1h-2zM1 17h1v1h-1zM4 17h1v1h-1zM8 17h2v1h-2zM12 17h5v1h-5zM22 17h1v1h-1zM25 17h1v1h-1zM27 17h1v1h-1zM30 17h2v1h-2zM33 17h2v1h-2zM36 17h2v1h-2zM40 17h2v1h-2zM45 17h1v1h-1zM49 17h3v1h-3zM56 17h1v1h-1zM63 17h2v1h-2zM68 17h2v1h-2zM71 17h1v1h-1zM74 17h2v1h-2zM0 18h2v1h-2zM3 18h1v1h-1zM10 18h1v1h-1zM13 18h2v1h-2zM17 18h3v1h-3zM24 18h1v1h-1zM27 18h1v1h-1zM30 18h1v1h-1zM34 18h2v1h-2zM41 18h1v1h-1zM43 18h1v1h-1zM45 18h1v1h-1zM47 18h4v1h-4zM62 18h2v1h-2zM65 18h1v1h-1zM71 18h3v1h-3zM0 19h2v1h-2zM4 19h1v1h-1zM6 19h1v1h-1zM9 19h1v1h-1zM14 19h2v1h-2zM20 19h1v1h-1zM24 19h1v1h-1zM35 19h1v1h-1zM41 19h1v1h-1zM43 19h3v1h-3zM47 19h5v1h-5zM53 19h1v1h-1zM56 19h1v1h-1zM58 19h1v1h-1zM60 19h1v1h-1zM62 19h1v1h-1zM66 19h2v1h-2zM69 19h4v1h-4zM75 19h1v1h-1zM1 20h1v1h-1zM4 20h5v1h-5zM10 20h2v1h-2zM13 20h1v1h-1zM15 20h1v1h-1zM19 20h2v1h-2zM23 20h2v1h-2zM27 20h2v1h-2zM30 20h1v1h-1zM32 20h1v1h-1zM36 20h1v1h-1zM40 20h2v1h-2zM46 20h2v1h-2zM49 20h1v1h-1zM52 20h1v1h-1zM63 20h3v1h-3zM68 20h1v1h-1zM72 20h3v1h-3zM3 21h3v1h-3zM7 21h1v1h-1zM10 21h1v1h-1zM13 21h1v1h-1zM19 21h1v1h-1zM22 21h2v1h-2zM27 21h2v1h-2zM31 21h1v1h-1zM36 21h1v1h-1zM38 21h2v1h-2zM42 21h2v1h-2zM48 21h1v1h-1zM50 21h1v1h-1zM53 21h1v1h-1zM55 21h2v1h-2zM67 21h2v1h-2zM74 21h1v1h-1zM0 22h1v1h-1zM5 22h1v1h-1zM10 22h4v1h-4zM19 22h2v1h-2zM23 22h4v1h-4zM28 22h1v1h-1zM30 22h2v1h-2zM36 22h1v1h-1zM38 22h1v1h-1zM40 22h1v1h-1zM48 22h2v1h-2zM56 22h1v1h-1zM60 22h1v1h-1zM63 22h1v1h-1zM66 22h1v1h-1zM68 22h1v1h-1zM73 22h1v1h-1zM75 22h1v1h-1zM2 23h2v1h-2zM6 23h1v1h-1zM9 23h1v1h-1zM11 23h1v1h-1zM16 23h1v1h-1zM23 23h1v1h-1zM25 23h2v1h-2zM28 23h1v1h-1zM30 23h4v1h-4zM42 23h1v1h-1zM44 23h2v1h-2zM47 23h1v1h-1zM54 23h1v1h-1zM61 23h5v1h-5zM70 23h1v1h-1zM72 23h2v1h-2zM1 24h1v1h-1zM4 24h4v1h-4zM10 24h1v1h-1zM12 24h1v1h-1zM21 24h2v1h-2zM25 24h2v1h-2zM30 24h2v1h-2zM46 24h1v1h-1zM49 24h1v1h-1zM60 24h1v1h-1zM69 24h1v1h-1zM72 24h1v1h-1zM0 25h3v1h-3zM6 25h1v1h-1zM8 25h1v1h-1zM10 25h1v1h-1zM15 25h1v1h-1zM19 25h2v1h-2zM27 25h1v1h-1zM30 25h1v1h-1zM47 25h1v1h-1zM58 25h1v1h-1zM60 25h2v1h-2zM63 25h1v1h-1zM65 25h1v1h-1zM70 25h3v1h-3zM1 26h1v1h-1zM3 26h1v1h-1zM5 26h2v1h-2zM8 26h1v1h-1zM10 26h2v1h-2zM15 26h1v1h-1zM19 26h1v1h-1zM27 26h3v1h-3zM48 26h2v1h-2zM61 26h1v1h-1zM63 26h1v1h-1zM65 26h1v1h-1zM68 26h1v1h-1zM72 26h4v1h-4zM1 27h1v1h-1zM3 27h1v1h-1zM5 27h1v1h-1zM10 27h1v1h-1zM15 27h1v1h-1zM20 27h1v1h-1zM25 27h1v1h-1zM28 27h1v1h-1zM49 27h2v1h-2zM54 27h2v1h-2zM57 27h1v1h-1zM59 27h3v1h-3zM63 27h3v1h-3zM67 27h1v1h-1zM71 27h2v1h-2zM74 27h1v1h-1zM0 28h1v1h-1zM7 28h2v1h-2zM10 28h2v1h-2zM15 28h2v1h-2zM18 28h3v1h-3zM49 28h1v1h-1zM52 28h1v1h-1zM54 28h4v1h-4zM60 28h1v1h-1zM65 28h3v1h-3zM69 28h1v1h-1zM72 28h2v1h-2zM1 29h2v1h-2zM4 29h1v1h-1zM6 29h8v1h-8zM16 29h2v1h-2zM19 29h1v1h-1zM23 29h1v1h-1zM27 29h1v1h-1zM48 29h1v1h-1zM50 29h1v1h-1zM55 29h4v1h-4zM63 29h1v1h-1zM65 29h2v1h-2zM69 29h2v1h-2zM72 29h3v1h-3zM0 30h1v1h-1zM6 30h7v1h-7zM15 30h1v1h-1zM18 30h1v1h-1zM21 30h1v1h-1zM23 30h1v1h-1zM25 30h1v1h-1zM51 30h1v1h-1zM55 30h2v1h-2zM62 30h1v1h-1zM72 30h1v1h-1zM75 30h1v1h-1zM6 31h1v1h-1zM13 31h1v1h-1zM15 31h1v1h-1zM17 31h1v1h-1zM20 31h1v1h-1zM23 31h1v1h-1zM48 31h1v1h-1zM51 31h1v1h-1zM55 31h1v1h-1zM57 31h2v1h-2zM62 31h1v1h-1zM74 31h2v1h-2zM1 32h4v1h-4zM6 32h1v1h-1zM9 32h1v1h-1zM12 32h2v1h-2zM15 32h1v1h-1zM17 32h1v1h-1zM21 32h1v1h-1zM25 32h1v1h-1zM55 32h1v1h-1zM58 32h1v1h-1zM62 32h1v1h-1zM65 32h2v1h-2zM68 32h1v1h-1zM71 32h5v1h-5zM2 33h1v1h-1zM5 33h3v1h-3zM16 33h1v1h-1zM25 33h1v1h-1zM50 33h1v1h-1zM55 33h3v1h-3zM64 33h2v1h-2zM67 33h1v1h-1zM71 33h1v1h-1zM3 34h1v1h-1zM5 34h1v1h-1zM7 34h4v1h-4zM13 34h1v1h-1zM16 34h1v1h-1zM18 34h2v1h-2zM24 34h2v1h-2zM53 34h2v1h-2zM63 34h1v1h-1zM65 34h1v1h-1zM67 34h1v1h-1zM69 34h1v1h-1zM71 34h4v1h-4zM4 35h3v1h-3zM8 35h1v1h-1zM10 35h2v1h-2zM13 35h1v1h-1zM17 35h2v1h-2zM20 35h1v1h-1zM25 35h1v1h-1zM51 35h2v1h-2zM54 35h2v1h-2zM58 35h2v1h-2zM61 35h2v1h-2zM67 35h1v1h-1zM69 35h3v1h-3zM5 36h4v1h-4zM11 36h1v1h-1zM13 36h1v1h-1zM16 36h1v1h-1zM18 36h1v1h-1zM24 36h2v1h-2zM49 36h2v1h-2zM53 36h1v1h-1zM58 36h1v1h-1zM63 36h3v1h-3zM67 36h2v1h-2zM70 36h3v1h-3zM2 37h1v1h-1zM4 37h1v1h-1zM7 37h1v1h-1zM10 37h6v1h-6zM17 37h1v1h-1zM19 37h1v1h-1zM21 37h1v1h-1zM24 37h1v1h-1zM51 37h3v1h-3zM57 37h1v1h-1zM62 37h1v1h-1zM64 37h1v1h-1zM67 37h2v1h-2zM71 37h1v1h-1zM4 38h2v1h-2zM9 38h3v1h-3zM15 38h3v1h-3zM19 38h3v1h-3zM50 38h1v1h-1zM53 38h1v1h-1zM57 38h1v1h-1zM66 38h1v1h-1zM70 38h1v1h-1zM72 38h1v1h-1zM75 38h1v1h-1zM10 39h2v1h-2zM15 39h3v1h-3zM20 39h1v1h-1zM22 39h2v1h-2zM51 39h1v1h-1zM55 39h3v1h-3zM59 39h1v1h-1zM70 39h2v1h-2zM74 39h1v1h-1zM0 40h3v1h-3zM6 40h2v1h-2zM10 40h2v1h-2zM15 40h3v1h-3zM24 40h2v1h-2zM64 40h1v1h-1zM70 40h4v1h-4zM75 40h1v1h-1zM10 41h5v1h-5zM16 41h1v1h-1zM19 41h4v1h-4zM24 41h2v1h-2zM50 41h1v1h-1zM53 41h1v1h-1zM59 41h2v1h-2zM62 41h1v1h-1zM65 41h5v1h-5zM75 41h1v1h-1zM0 42h3v1h-3zM6 42h1v1h-1zM8 42h1v1h-1zM11 42h1v1h-1zM13 42h2v1h-2zM18 42h1v1h-1zM24 42h1v1h-1zM52 42h1v1h-1zM56 42h1v1h-1zM58 42h1v1h-1zM61 42h2v1h-2zM67 42h2v1h-2zM70 42h1v1h-1zM0 43h1v1h-1zM2 43h1v1h-1zM4 43h2v1h-2zM8 43h3v1h-3zM12 43h3v1h-3zM16 43h1v1h-1zM18 43h2v1h-2zM22 43h1v1h-1zM55 43h1v1h-1zM58 43h1v1h-1zM60 43h1v1h-1zM72 43h1v1h-1zM2 44h1v1h-1zM7 44h2v1h-2zM12 44h1v1h-1zM18 44h2v1h-2zM22 44h5v1h-5zM50 44h1v1h-1zM54 44h1v1h-1zM56 44h1v1h-1zM60 44h1v1h-1zM62 44h3v1h-3zM66 44h1v1h-1zM69 44h2v1h-2zM73 44h1v1h-1zM2 45h1v1h-1zM5 45h1v1h-1zM9 45h1v1h-1zM12 45h1v1h-1zM19 45h2v1h-2zM49 45h1v1h-1zM51 45h1v1h-1zM55 45h2v1h-2zM60 45h1v1h-1zM65 45h2v1h-2zM73 45h1v1h-1zM75 45h1v1h-1zM2 46h1v1h-1zM6 46h1v1h-1zM8 46h1v1h-1zM16 46h1v1h-1zM18 46h2v1h-2zM26 46h1v1h-1zM49 46h1v1h-1zM51 46h1v1h-1zM55 46h1v1h-1zM57 46h1v1h-1zM60 46h1v1h-1zM65 46h3v1h-3zM69 46h2v1h-2zM73 46h1v1h-1zM75 46h1v1h-1zM0 47h3v1h-3zM5 47h1v1h-1zM7 47h3v1h-3zM14 47h1v1h-1zM17 47h1v1h-1zM19 47h1v1h-1zM22 47h4v1h-4zM50 47h1v1h-1zM53 47h1v1h-1zM56 47h1v1h-1zM65 47h4v1h-4zM70 47h1v1h-1zM73 47h1v1h-1zM2 48h1v1h-1zM5 48h2v1h-2zM8 48h2v1h-2zM12 48h1v1h-1zM17 48h1v1h-1zM19 48h1v1h-1zM22 48h1v1h-1zM24 48h1v1h-1zM26 48h3v1h-3zM48 48h3v1h-3zM53 48h1v1h-1zM66 48h2v1h-2zM69 48h2v1h-2zM73 48h3v1h-3zM2 49h2v1h-2zM13 49h1v1h-1zM15 49h2v1h-2zM18 49h2v1h-2zM23 49h2v1h-2zM27 49h1v1h-1zM29 49h1v1h-1zM47 49h1v1h-1zM51 49h1v1h-1zM54 49h2v1h-2zM59 49h1v1h-1zM64 49h2v1h-2zM68 49h1v1h-1zM72 49h2v1h-2zM75 49h1v1h-1zM3 50h2v1h-2zM6 50h2v1h-2zM9 50h3v1h-3zM19 50h1v1h-1zM22 50h1v1h-1zM24 50h3v1h-3zM45 50h4v1h-4zM54 50h2v1h-2zM63 50h4v1h-4zM68 50h1v1h-1zM70 50h1v1h-1zM72 50h1v1h-1zM75 50h1v1h-1zM1 51h1v1h-1zM4 51h4v1h-4zM15 51h1v1h-1zM21 51h3v1h-3zM25 51h1v1h-1zM29 51h3v1h-3zM45 51h2v1h-2zM50 51h6v1h-6zM64 51h2v1h-2zM67 51h1v1h-1zM69 51h1v1h-1zM71 51h1v1h-1zM74 51h2v1h-2zM1 52h2v1h-2zM4 52h2v1h-2zM10 52h2v1h-2zM17 52h2v1h-2zM23 52h1v1h-1zM27 52h1v1h-1zM34 52h1v1h-1zM46 52h1v1h-1zM49 52h1v1h-1zM53 52h3v1h-3zM66 52h1v1h-1zM69 52h1v1h-1zM75 52h1v1h-1zM0 53h2v1h-2zM3 53h2v1h-2zM16 53h2v1h-2zM22 53h1v1h-1zM25 53h1v1h-1zM28 53h2v1h-2zM31 53h1v1h-1zM34 53h1v1h-1zM38 53h2v1h-2zM41 53h1v1h-1zM43 53h1v1h-1zM45 53h1v1h-1zM53 53h3v1h-3zM57 53h1v1h-1zM62 53h1v1h-1zM65 53h2v1h-2zM71 53h2v1h-2zM1 54h1v1h-1zM3 54h1v1h-1zM7 54h2v1h-2zM15 54h3v1h-3zM19 54h2v1h-2zM23 54h1v1h-1zM26 54h1v1h-1zM30 54h1v1h-1zM33 54h1v1h-1zM38 54h1v1h-1zM40 54h1v1h-1zM43 54h1v1h-1zM47 54h1v1h-1zM53 54h2v1h-2zM57 54h1v1h-1zM61 54h1v1h-1zM69 54h7v1h-7zM3 55h1v1h-1zM6 55h1v1h-1zM8 55h1v1h-1zM15 55h2v1h-2zM23 55h2v1h-2zM29 55h1v1h-1zM37 55h1v1h-1zM43 55h2v1h-2zM47 55h2v1h-2zM56 55h1v1h-1zM59 55h1v1h-1zM61 55h1v1h-1zM63 55h1v1h-1zM67 55h4v1h-4zM73 55h2v1h-2zM4 56h2v1h-2zM7 56h1v1h-1zM10 56h4v1h-4zM15 56h2v1h-2zM18 56h1v1h-1zM21 56h1v1h-1zM25 56h3v1h-3zM32 56h3v1h-3zM36 56h2v1h-2zM45 56h2v1h-2zM52 56h1v1h-1zM55 56h2v1h-2zM58 56h1v1h-1zM60 56h1v1h-1zM66 56h4v1h-4zM73 56h1v1h-1zM2 57h1v1h-1zM4 57h1v1h-1zM11 57h2v1h-2zM14 57h4v1h-4zM22 57h2v1h-2zM34 57h2v1h-2zM38 57h3v1h-3zM42 57h2v1h-2zM45 57h1v1h-1zM47 57h5v1h-5zM55 57h2v1h-2zM62 57h2v1h-2zM65 57h1v1h-1zM68 57h2v1h-2zM71 57h2v1h-2zM75 57h1v1h-1zM12 58h1v1h-1zM16 58h2v1h-2zM23 58h1v1h-1zM34 58h1v1h-1zM41 58h2v1h-2zM44 58h1v1h-1zM54 58h1v1h-1zM59 58h1v1h-1zM63 58h1v1h-1zM65 58h1v1h-1zM67 58h1v1h-1zM69 58h1v1h-1zM71 58h2v1h-2zM74 58h2v1h-2zM3 59h2v1h-2zM12 59h1v1h-1zM14 59h2v1h-2zM18 59h1v1h-1zM20 59h1v1h-1zM26 59h1v1h-1zM30 59h2v1h-2zM41 59h1v1h-1zM44 59h4v1h-4zM54 59h2v1h-2zM64 59h2v1h-2zM70 59h1v1h-1zM0 60h1v1h-1zM7 60h1v1h-1zM9 60h2v1h-2zM14 60h2v1h-2zM17 60h2v1h-2zM20 60h1v1h-1zM22 60h4v1h-4zM27 60h2v1h-2zM30 60h1v1h-1zM33 60h2v1h-2zM41 60h1v1h-1zM44 60h1v1h-1zM46 60h3v1h-3zM56 60h1v1h-1zM58 60h1v1h-1zM61 60h1v1h-1zM65 60h1v1h-1zM74 60h2v1h-2zM3 61h1v1h-1zM5 61h3v1h-3zM10 61h1v1h-1zM12 61h1v1h-1zM15 61h3v1h-3zM19 61h1v1h-1zM22 61h3v1h-3zM26 61h2v1h-2zM31 61h4v1h-4zM36 61h2v1h-2zM40 61h1v1h-1zM46 61h1v1h-1zM48 61h2v1h-2zM53 61h2v1h-2zM57 61h1v1h-1zM62 61h1v1h-1zM64 61h2v1h-2zM69 61h4v1h-4zM75 61h1v1h-1zM5 62h2v1h-2zM10 62h1v1h-1zM17 62h1v1h-1zM19 62h2v1h-2zM26 62h2v1h-2zM32 62h1v1h-1zM34 62h1v1h-1zM37 62h1v1h-1zM41 62h1v1h-1zM44 62h3v1h-3zM52 62h2v1h-2zM55 62h3v1h-3zM64 62h3v1h-3zM71 62h1v1h-1zM5 63h7v1h-7zM18 63h1v1h-1zM23 63h6v1h-6zM36 63h1v1h-1zM41 63h2v1h-2zM44 63h1v1h-1zM47 63h1v1h-1zM59 63h2v1h-2zM63 63h1v1h-1zM65 63h2v1h-2zM68 63h1v1h-1zM73 63h3v1h-3zM7 64h1v1h-1zM13 64h2v1h-2zM17 64h1v1h-1zM23 64h1v1h-1zM35 64h1v1h-1zM37 64h1v1h-1zM39 64h1v1h-1zM43 64h1v1h-1zM48 64h1v1h-1zM54 64h2v1h-2zM57 64h3v1h-3zM73 64h1v1h-1zM75 64h1v1h-1zM3 65h1v1h-1zM7 65h1v1h-1zM9 65h2v1h-2zM16 65h2v1h-2zM20 65h1v1h-1zM23 65h1v1h-1zM27 65h1v1h-1zM33 65h1v1h-1zM36 65h1v1h-1zM38 65h2v1h-2zM48 65h2v1h-2zM57 65h2v1h-2zM60 65h7v1h-7zM71 65h1v1h-1zM75 65h1v1h-1zM0 66h1v1h-1zM5 66h3v1h-3zM16 66h1v1h-1zM23 66h2v1h-2zM28 66h4v1h-4zM37 66h1v1h-1zM40 66h2v1h-2zM45 66h2v1h-2zM48 66h1v1h-1zM50 66h5v1h-5zM59 66h1v1h-1zM61 66h3v1h-3zM67 66h1v1h-1zM71 66h1v1h-1zM74 66h2v1h-2zM0 67h1v1h-1zM3 67h1v1h-1zM6 67h2v1h-2zM16 67h1v1h-1zM24 67h1v1h-1zM26 67h1v1h-1zM29 67h1v1h-1zM31 67h1v1h-1zM33 67h1v1h-1zM39 67h1v1h-1zM42 67h2v1h-2zM46 67h2v1h-2zM50 67h3v1h-3zM55 67h1v1h-1zM58 67h1v1h-1zM68 67h1v1h-1zM72 67h1v1h-1zM1 68h2v1h-2zM6 68h2v1h-2zM10 68h1v1h-1zM12 68h1v1h-1zM16 68h1v1h-1zM20 68h2v1h-2zM23 68h2v1h-2zM27 68h1v1h-1zM29 68h1v1h-1zM33 68h2v1h-2zM43 68h1v1h-1zM46 68h2v1h-2zM49 68h1v1h-1zM58 68h1v1h-1zM60 68h1v1h-1zM65 68h2v1h-2zM69 68h1v1h-1zM72 68h2v1h-2zM2 69h1v1h-1zM6 69h1v1h-1zM10 69h2v1h-2zM22 69h1v1h-1zM28 69h2v1h-2zM32 69h1v1h-1zM34 69h1v1h-1zM47 69h1v1h-1zM49 69h1v1h-1zM52 69h2v1h-2zM56 69h1v1h-1zM63 69h2v1h-2zM67 69h1v1h-1zM72 69h1v1h-1zM0 70h3v1h-3zM4 70h1v1h-1zM6 70h2v1h-2zM12 70h1v1h-1zM17 70h2v1h-2zM20 70h1v1h-1zM22 70h1v1h-1zM24 70h1v1h-1zM26 70h1v1h-1zM31 70h2v1h-2zM34 70h2v1h-2zM38 70h1v1h-1zM48 70h2v1h-2zM51 70h1v1h-1zM55 70h3v1h-3zM72 70h1v1h-1zM74 70h1v1h-1zM0 71h4v1h-4zM5 71h2v1h-2zM15 71h1v1h-1zM17 71h1v1h-1zM22 71h6v1h-6zM30 71h1v1h-1zM42 71h2v1h-2zM47 71h1v1h-1zM49 71h1v1h-1zM56 71h2v1h-2zM60 71h1v1h-1zM62 71h1v1h-1zM70 71h2v1h-2zM73 71h1v1h-1zM0 72h6v1h-6zM11 72h1v1h-1zM15 72h2v1h-2zM19 72h2v1h-2zM22 72h5v1h-5zM30 72h1v1h-1zM35 72h1v1h-1zM37 72h1v1h-1zM42 72h3v1h-3zM46 72h1v1h-1zM53 72h1v1h-1zM56 72h3v1h-3zM62 72h1v1h-1zM73 72h1v1h-1zM75 72h1v1h-1zM0 73h1v1h-1zM2 73h1v1h-1zM8 73h1v1h-1zM16 73h1v1h-1zM18 73h2v1h-2zM21 73h1v1h-1zM24 73h6v1h-6zM35 73h3v1h-3zM39 73h1v1h-1zM41 73h1v1h-1zM44 73h4v1h-4zM49 73h1v1h-1zM54 73h5v1h-5zM62 73h1v1h-1zM70 73h1v1h-1zM0 74h1v1h-1zM2 74h1v1h-1zM11 74h3v1h-3zM15 74h1v1h-1zM17 74h5v1h-5zM25 74h1v1h-1zM27 74h2v1h-2zM33 74h2v1h-2zM36 74h5v1h-5zM43 74h1v1h-1zM50 74h1v1h-1zM53 74h4v1h-4zM58 74h1v1h-1zM63 74h1v1h-1zM67 74h1v1h-1zM69 74h1v1h-1zM72 74h1v1h-1zM74 74h1v1h-1zM0 75h5v1h-5zM8 75h2v1h-2zM12 75h2v1h-2zM15 75h1v1h-1zM17 75h1v1h-1zM19 75h3v1h-3zM25 75h1v1h-1zM27 75h1v1h-1zM29 75h2v1h-2zM34 75h1v1h-1zM37 75h1v1h-1zM40 75h4v1h-4zM46 75h2v1h-2zM49 75h4v1h-4zM54 75h1v1h-1zM58 75h2v1h-2zM62 75h2v1h-2zM65 75h2v1h-2zM68 75h1v1h-1zM72 75h2v1h-2z"/>
<path fill="#170000" d="M5 0h2v1h-2zM12 0h1v1h-1zM14 0h1v1h-1zM26 0h1v1h-1zM38 0h1v1h-1zM46 0h1v1h-1zM61 0h1v1h-1zM74 0h1v1h-1zM6 1h1v1h-1zM74 1h1v1h-1zM15 2h1v1h-1zM47 2h1v1h-1zM16 3h1v1h-1zM53 3h1v1h-1zM58 3h1v1h-1zM68 3h2v1h-2zM24 4h1v1h-1zM31 4h1v1h-1zM54 4h1v1h-1zM69 4h1v1h-1zM52 5h1v1h-1zM67 5h2v1h-2zM3 6h1v1h-1zM15 6h1v1h-1zM8 7h1v1h-1zM49 7h1v1h-1zM54 7h1v1h-1zM60 7h1v1h-1zM1 8h1v1h-1zM6 8h1v1h-1zM13 8h1v1h-1zM46 8h1v1h-1zM49 8h1v1h-1zM64 8h1v1h-1zM68 8h1v1h-1zM70 8h1v1h-1zM13 9h1v1h-1zM18 9h1v1h-1zM23 9h1v1h-1zM42 10h1v1h-1zM56 10h1v1h-1zM63 10h1v1h-1zM18 11h3v1h-3zM25 11h1v1h-1zM42 11h1v1h-1zM44 11h1v1h-1zM51 11h1v1h-1zM57 11h1v1h-1zM13 12h1v1h-1zM20 12h1v1h-1zM28 12h1v1h-1zM46 12h2v1h-2zM63 12h1v1h-1zM36 13h1v1h-1zM71 13h1v1h-1zM56 14h1v1h-1zM60 14h1v1h-1zM64 14h1v1h-1zM75 14h1v1h-1zM14 15h1v1h-1zM26 15h1v1h-1zM51 15h1v1h-1zM62 15h1v1h-1zM75 15h1v1h-1zM3 16h1v1h-1zM6 16h2v1h-2zM20 16h1v1h-1zM24 16h1v1h-1zM35 16h1v1h-1zM55 16h1v1h-1zM2 17h1v1h-1zM23 17h1v1h-1zM32 17h1v1h-1zM5 18h1v1h-1zM7 18h1v1h-1zM22 18h1v1h-1zM42 18h1v1h-1zM44 18h1v1h-1zM10 19h2v1h-2zM34 19h1v1h-1zM42 19h1v1h-1zM52 19h1v1h-1zM61 19h1v1h-1zM63 19h1v1h-1zM0 20h1v1h-1zM26 20h1v1h-1zM31 20h1v1h-1zM33 20h1v1h-1zM37 20h1v1h-1zM50 20h1v1h-1zM12 21h1v1h-1zM25 21h1v1h-1zM32 21h1v1h-1zM37 21h1v1h-1zM46 21h1v1h-1zM54 21h1v1h-1zM57 21h1v1h-1zM63 21h1v1h-1zM37 22h1v1h-1zM43 22h1v1h-1zM46 22h1v1h-1zM64 22h1v1h-1zM4 23h2v1h-2zM12 23h2v1h-2zM22 23h1v1h-1zM34 23h1v1h-1zM43 23h1v1h-1zM3 24h1v1h-1zM17 24h1v1h-1zM24 24h1v1h-1zM45 24h1v1h-1zM53 24h1v1h-1zM5 25h1v1h-1zM18 25h1v1h-1zM23 25h2v1h-2zM46 25h1v1h-1zM50 25h1v1h-1zM69 25h1v1h-1zM73 25h1v1h-1zM2 26h1v1h-1zM52 26h1v1h-1zM69 26h1v1h-1zM71 26h1v1h-1zM4 27h1v1h-1zM23 27h2v1h-2zM48 27h1v1h-1zM51 27h2v1h-2zM69 27h1v1h-1zM4 28h1v1h-1zM61 28h1v1h-1zM64 28h1v1h-1zM3 29h1v1h-1zM5 29h1v1h-1zM22 29h1v1h-1zM47 29h1v1h-1zM52 29h1v1h-1zM62 29h1v1h-1zM68 29h1v1h-1zM14 30h1v1h-1zM16 30h1v1h-1zM19 30h1v1h-1zM47 30h1v1h-1zM50 30h1v1h-1zM57 30h1v1h-1zM3 31h1v1h-1zM67 31h2v1h-2zM72 31h1v1h-1zM14 32h1v1h-1zM16 32h1v1h-1zM57 32h1v1h-1zM0 33h1v1h-1zM3 33h1v1h-1zM8 33h1v1h-1zM72 33h1v1h-1zM4 34h1v1h-1zM6 34h1v1h-1zM20 34h1v1h-1zM26 34h1v1h-1zM53 35h1v1h-1zM57 36h1v1h-1zM62 36h1v1h-1zM50 37h1v1h-1zM54 37h1v1h-1zM65 37h1v1h-1zM74 37h1v1h-1zM3 38h1v1h-1zM24 38h1v1h-1zM54 38h1v1h-1zM5 39h1v1h-1zM21 39h1v1h-1zM24 39h1v1h-1zM22 40h2v1h-2zM67 40h1v1h-1zM69 40h1v1h-1zM1 41h2v1h-2zM18 41h1v1h-1zM52 41h1v1h-1zM4 42h1v1h-1zM10 42h1v1h-1zM65 42h1v1h-1zM1 43h1v1h-1zM3 43h1v1h-1zM20 43h1v1h-1zM63 43h3v1h-3zM20 44h2v1h-2zM27 44h1v1h-1zM55 44h1v1h-1zM68 44h1v1h-1zM27 45h1v1h-1zM12 46h1v1h-1zM17 46h1v1h-1zM59 46h1v1h-1zM3 47h1v1h-1zM13 47h1v1h-1zM26 47h1v1h-1zM48 47h2v1h-2zM63 47h1v1h-1zM69 47h1v1h-1zM13 48h1v1h-1zM20 48h1v1h-1zM9 49h1v1h-1zM14 49h1v1h-1zM26 49h1v1h-1zM48 49h3v1h-3zM53 49h1v1h-1zM58 49h1v1h-1zM63 49h1v1h-1zM67 49h1v1h-1zM71 49h1v1h-1zM13 50h1v1h-1zM18 50h1v1h-1zM49 50h1v1h-1zM52 50h1v1h-1zM69 50h1v1h-1zM71 50h1v1h-1zM16 51h3v1h-3zM34 51h1v1h-1zM43 51h2v1h-2zM72 51h1v1h-1zM0 52h1v1h-1zM3 52h1v1h-1zM6 52h1v1h-1zM28 52h1v1h-1zM35 52h1v1h-1zM42 52h1v1h-1zM44 52h1v1h-1zM52 52h1v1h-1zM62 52h1v1h-1zM68 52h1v1h-1zM6 53h1v1h-1zM10 53h1v1h-1zM18 53h1v1h-1zM23 53h1v1h-1zM30 53h1v1h-1zM35 53h1v1h-1zM44 53h1v1h-1zM0 54h1v1h-1zM25 54h1v1h-1zM32 54h1v1h-1zM37 54h1v1h-1zM41 54h2v1h-2zM56 54h1v1h-1zM28 55h1v1h-1zM34 55h1v1h-1zM39 55h1v1h-1zM46 55h1v1h-1zM6 56h1v1h-1zM17 56h1v1h-1zM23 56h1v1h-1zM28 56h2v1h-2zM40 56h1v1h-1zM62 56h1v1h-1zM70 56h3v1h-3zM74 56h1v1h-1zM3 57h1v1h-1zM5 57h1v1h-1zM44 57h1v1h-1zM46 57h1v1h-1zM66 57h1v1h-1zM74 57h1v1h-1zM0 58h1v1h-1zM3 58h2v1h-2zM39 58h1v1h-1zM49 58h1v1h-1zM62 58h1v1h-1zM68 58h1v1h-1zM0 59h1v1h-1zM8 59h1v1h-1zM19 59h1v1h-1zM34 59h1v1h-1zM39 59h1v1h-1zM72 59h1v1h-1zM19 60h1v1h-1zM26 60h1v1h-1zM40 60h1v1h-1zM45 60h1v1h-1zM54 60h2v1h-2zM57 60h1v1h-1zM64 60h1v1h-1zM47 61h1v1h-1zM52 61h1v1h-1zM56 61h1v1h-1zM11 62h1v1h-1zM13 62h1v1h-1zM40 62h1v1h-1zM47 62h1v1h-1zM62 62h1v1h-1zM69 62h1v1h-1zM17 63h1v1h-1zM53 63h1v1h-1zM62 63h1v1h-1zM64 63h1v1h-1zM67 63h1v1h-1zM6 64h1v1h-1zM18 64h1v1h-1zM36 64h1v1h-1zM60 64h2v1h-2zM63 64h2v1h-2zM5 65h2v1h-2zM35 65h1v1h-1zM74 65h1v1h-1zM3 66h1v1h-1zM21 66h1v1h-1zM27 66h1v1h-1zM33 66h2v1h-2zM2 67h1v1h-1zM28 67h1v1h-1zM48 67h2v1h-2zM66 67h1v1h-1zM11 68h1v1h-1zM18 68h1v1h-1zM28 68h1v1h-1zM39 68h1v1h-1zM41 68h2v1h-2zM48 68h1v1h-1zM68 68h1v1h-1zM12 69h1v1h-1zM17 69h1v1h-1zM23 69h1v1h-1zM66 69h1v1h-1zM75 69h1v1h-1zM23 70h1v1h-1zM65 70h1v1h-1zM40 71h1v1h-1zM75 71h1v1h-1zM6 72h1v1h-1zM12 72h1v1h-1zM36 72h1v1h-1zM40 72h1v1h-1zM49 72h1v1h-1zM55 72h1v1h-1zM70 72h1v1h-1zM14 73h1v1h-1zM30 73h1v1h-1zM64 73h1v1h-1zM71 73h2v1h-2zM8 74h1v1h-1zM30 74h1v1h-1zM49 74h1v1h-1zM64 74h1v1h-1zM68 74h1v1h-1zM26 75h1v1h-1zM36 75h1v1h-1zM64 75h1v1h-1zM67 75h1v1h-1z"/>
<path fill="#190000" d="M3 0h2v1h-2zM7 0h1v1h-1zM20 0h1v1h-1zM27 0h1v1h-1zM40 0h1v1h-1zM50 0h5v1h-5zM70 0h1v1h-1zM14 1h1v1h-1zM26 1h1v1h-1zM40 1h1v1h-1zM75 1h1v1h-1zM16 2h1v1h-1zM28 2h1v1h-1zM38 2h2v1h-2zM57 2h1v1h-1zM38 3h3v1h-3zM54 3h1v1h-1zM57 3h1v1h-1zM40 4h1v1h-1zM15 5h2v1h-2zM30 5h2v1h-2zM36 5h1v1h-1zM53 5h1v1h-1zM69 5h1v1h-1zM73 5h1v1h-1zM8 6h1v1h-1zM10 6h1v1h-1zM29 6h1v1h-1zM31 6h1v1h-1zM12 7h1v1h-1zM46 7h2v1h-2zM65 7h1v1h-1zM7 8h2v1h-2zM12 8h1v1h-1zM27 8h1v1h-1zM35 8h1v1h-1zM63 8h1v1h-1zM65 8h1v1h-1zM67 8h1v1h-1zM69 8h1v1h-1zM6 9h1v1h-1zM33 9h1v1h-1zM67 9h2v1h-2zM18 10h1v1h-1zM37 10h1v1h-1zM43 10h2v1h-2zM47 10h2v1h-2zM51 10h2v1h-2zM57 10h1v1h-1zM67 10h1v1h-1zM17 11h1v1h-1zM28 11h1v1h-1zM47 11h1v1h-1zM52 11h1v1h-1zM63 11h1v1h-1zM4 12h3v1h-3zM18 12h1v1h-1zM35 12h1v1h-1zM59 12h3v1h-3zM1 13h1v1h-1zM6 13h1v1h-1zM12 13h1v1h-1zM35 13h1v1h-1zM61 13h2v1h-2zM61 14h2v1h-2zM15 15h2v1h-2zM29 15h2v1h-2zM40 15h2v1h-2zM70 15h3v1h-3zM13 16h2v1h-2zM29 16h2v1h-2zM49 16h1v1h-1zM56 16h1v1h-1zM68 16h5v1h-5zM75 16h1v1h-1zM3 17h1v1h-1zM6 17h2v1h-2zM10 17h2v1h-2zM17 17h3v1h-3zM21 17h1v1h-1zM24 17h1v1h-1zM35 17h1v1h-1zM39 17h1v1h-1zM72 17h2v1h-2zM6 18h1v1h-1zM11 18h2v1h-2zM15 18h2v1h-2zM21 18h1v1h-1zM46 18h1v1h-1zM64 18h1v1h-1zM68 18h2v1h-2zM5 19h1v1h-1zM12 19h2v1h-2zM16 19h1v1h-1zM46 19h1v1h-1zM64 19h2v1h-2zM68 19h1v1h-1zM9 20h1v1h-1zM12 20h1v1h-1zM34 20h2v1h-2zM42 20h1v1h-1zM48 20h1v1h-1zM53 20h2v1h-2zM60 20h3v1h-3zM11 21h1v1h-1zM35 21h1v1h-1zM40 21h1v1h-1zM47 21h1v1h-1zM60 21h2v1h-2zM64 21h1v1h-1zM4 22h1v1h-1zM21 22h2v1h-2zM32 22h1v1h-1zM35 22h1v1h-1zM39 22h1v1h-1zM54 22h2v1h-2zM61 22h1v1h-1zM74 22h1v1h-1zM21 23h1v1h-1zM29 23h1v1h-1zM38 23h1v1h-1zM41 23h1v1h-1zM46 23h1v1h-1zM2 24h1v1h-1zM11 24h1v1h-1zM23 24h1v1h-1zM27 24h1v1h-1zM32 24h2v1h-2zM42 24h1v1h-1zM52 24h1v1h-1zM54 24h1v1h-1zM64 24h1v1h-1zM9 25h1v1h-1zM31 25h1v1h-1zM45 25h1v1h-1zM51 25h2v1h-2zM64 25h1v1h-1zM9 26h1v1h-1zM18 26h1v1h-1zM23 26h2v1h-2zM30 26h1v1h-1zM47 26h1v1h-1zM50 26h2v1h-2zM2 27h1v1h-1zM9 27h1v1h-1zM18 27h2v1h-2zM22 27h1v1h-1zM47 27h1v1h-1zM70 27h1v1h-1zM1 28h3v1h-3zM47 28h1v1h-1zM50 28h2v1h-2zM62 28h2v1h-2zM68 28h1v1h-1zM70 28h1v1h-1zM49 29h1v1h-1zM53 29h2v1h-2zM5 30h1v1h-1zM17 30h1v1h-1zM22 30h1v1h-1zM27 30h1v1h-1zM52 30h3v1h-3zM74 30h1v1h-1zM5 31h1v1h-1zM12 31h1v1h-1zM18 31h2v1h-2zM25 31h1v1h-1zM49 31h2v1h-2zM56 31h1v1h-1zM5 32h1v1h-1zM18 32h1v1h-1zM20 32h1v1h-1zM26 32h1v1h-1zM49 32h2v1h-2zM56 32h1v1h-1zM67 32h1v1h-1zM1 33h1v1h-1zM4 33h1v1h-1zM9 33h1v1h-1zM20 33h1v1h-1zM49 33h1v1h-1zM66 33h1v1h-1zM73 33h2v1h-2zM17 34h1v1h-1zM55 34h1v1h-1zM9 35h1v1h-1zM19 35h1v1h-1zM49 35h2v1h-2zM66 35h1v1h-1zM72 35h4v1h-4zM3 36h2v1h-2zM9 36h2v1h-2zM17 36h1v1h-1zM19 36h1v1h-1zM51 36h2v1h-2zM66 36h1v1h-1zM73 36h3v1h-3zM3 37h1v1h-1zM20 37h1v1h-1zM25 37h1v1h-1zM66 37h1v1h-1zM75 37h1v1h-1zM25 38h1v1h-1zM71 38h1v1h-1zM74 38h1v1h-1zM25 39h1v1h-1zM50 39h1v1h-1zM75 39h1v1h-1zM21 40h1v1h-1zM66 40h1v1h-1zM0 41h1v1h-1zM17 41h1v1h-1zM26 41h1v1h-1zM51 41h1v1h-1zM70 41h1v1h-1zM3 42h1v1h-1zM17 42h1v1h-1zM50 42h2v1h-2zM59 42h2v1h-2zM66 42h1v1h-1zM71 42h2v1h-2zM17 43h1v1h-1zM21 43h1v1h-1zM27 43h1v1h-1zM50 43h1v1h-1zM59 43h1v1h-1zM66 43h3v1h-3zM1 44h1v1h-1zM9 44h1v1h-1zM49 44h1v1h-1zM59 44h1v1h-1zM71 44h2v1h-2zM8 45h1v1h-1zM50 45h1v1h-1zM59 45h1v1h-1zM70 45h3v1h-3zM13 46h1v1h-1zM50 46h1v1h-1zM56 46h1v1h-1zM71 46h2v1h-2zM6 47h1v1h-1zM20 47h2v1h-2zM47 47h1v1h-1zM59 47h1v1h-1zM7 48h1v1h-1zM16 48h1v1h-1zM23 48h1v1h-1zM46 48h2v1h-2zM58 48h1v1h-1zM62 48h2v1h-2zM46 49h1v1h-1zM52 49h1v1h-1zM62 49h1v1h-1zM66 49h1v1h-1zM69 49h2v1h-2zM14 50h4v1h-4zM23 50h1v1h-1zM30 50h1v1h-1zM44 50h1v1h-1zM50 50h2v1h-2zM53 50h1v1h-1zM32 51h1v1h-1zM42 51h1v1h-1zM49 51h1v1h-1zM68 51h1v1h-1zM16 52h1v1h-1zM24 52h1v1h-1zM29 52h3v1h-3zM33 52h1v1h-1zM41 52h1v1h-1zM45 52h1v1h-1zM56 52h1v1h-1zM63 52h1v1h-1zM67 52h1v1h-1zM2 53h1v1h-1zM11 53h1v1h-1zM24 53h1v1h-1zM36 53h2v1h-2zM40 53h1v1h-1zM42 53h1v1h-1zM56 53h1v1h-1zM70 53h1v1h-1zM2 54h1v1h-1zM27 54h1v1h-1zM34 54h1v1h-1zM36 54h1v1h-1zM44 54h1v1h-1zM62 54h1v1h-1zM27 55h1v1h-1zM32 55h2v1h-2zM35 55h2v1h-2zM41 55h1v1h-1zM45 55h1v1h-1zM53 55h1v1h-1zM60 55h1v1h-1zM62 55h1v1h-1zM75 55h1v1h-1zM24 56h1v1h-1zM35 56h1v1h-1zM38 56h2v1h-2zM47 56h2v1h-2zM63 56h2v1h-2zM75 56h1v1h-1zM6 57h2v1h-2zM21 57h1v1h-1zM24 57h2v1h-2zM64 57h1v1h-1zM67 57h1v1h-1zM24 58h2v1h-2zM40 58h1v1h-1zM43 58h1v1h-1zM50 58h1v1h-1zM55 58h1v1h-1zM60 58h2v1h-2zM64 58h1v1h-1zM1 59h1v1h-1zM16 59h2v1h-2zM24 59h1v1h-1zM40 59h1v1h-1zM60 59h2v1h-2zM73 59h3v1h-3zM1 60h1v1h-1zM4 60h1v1h-1zM8 60h1v1h-1zM11 60h1v1h-1zM63 60h1v1h-1zM72 60h2v1h-2zM11 61h1v1h-1zM55 61h1v1h-1zM12 62h1v1h-1zM24 62h1v1h-1zM31 62h1v1h-1zM67 62h2v1h-2zM13 63h2v1h-2zM19 63h2v1h-2zM61 63h1v1h-1zM19 64h2v1h-2zM53 64h1v1h-1zM74 64h1v1h-1zM18 65h1v1h-1zM37 65h1v1h-1zM1 66h2v1h-2zM39 66h1v1h-1zM49 66h1v1h-1zM60 66h1v1h-1zM1 67h1v1h-1zM21 67h1v1h-1zM27 67h1v1h-1zM59 67h2v1h-2zM67 67h1v1h-1zM71 67h1v1h-1zM17 68h1v1h-1zM40 68h1v1h-1zM59 68h1v1h-1zM67 68h1v1h-1zM35 69h2v1h-2zM39 69h1v1h-1zM41 69h1v1h-1zM57 69h1v1h-1zM65 69h1v1h-1zM19 70h1v1h-1zM39 70h3v1h-3zM52 70h1v1h-1zM75 70h1v1h-1zM18 71h3v1h-3zM31 71h1v1h-1zM41 71h1v1h-1zM48 71h1v1h-1zM61 71h1v1h-1zM72 71h1v1h-1zM74 71h1v1h-1zM39 72h1v1h-1zM41 72h1v1h-1zM47 72h2v1h-2zM50 72h1v1h-1zM54 72h1v1h-1zM71 72h2v1h-2zM74 72h1v1h-1zM15 73h1v1h-1zM17 73h1v1h-1zM22 73h1v1h-1zM34 73h1v1h-1zM50 73h2v1h-2zM63 73h1v1h-1zM74 73h2v1h-2zM14 74h1v1h-1zM22 74h1v1h-1zM26 74h1v1h-1zM29 74h1v1h-1zM44 74h2v1h-2zM48 74h1v1h-1zM52 74h1v1h-1zM62 74h1v1h-1zM33 75h1v1h-1zM38 75h2v1h-2zM44 75h1v1h-1zM48 75h1v1h-1zM53 75h1v1h-1z"/>
<path fill="#1b0000" d="M19 0h1v1h-1zM39 0h1v1h-1zM30 6h1v1h-1zM43 11h1v1h-1zM60 13h1v1h-1zM40 16h1v1h-1zM20 18h1v1h-1zM36 23h2v1h-2zM40 24h1v1h-1zM44 24h1v1h-1zM70 26h1v1h-1zM8 27h1v1h-1zM68 27h1v1h-1zM28 28h1v1h-1zM49 30h1v1h-1zM4 31h1v1h-1zM14 31h1v1h-1zM26 31h1v1h-1zM19 32h1v1h-1zM48 32h1v1h-1zM26 33h1v1h-1zM49 34h2v1h-2zM66 34h1v1h-1zM26 35h1v1h-1zM49 37h1v1h-1zM25 42h1v1h-1zM25 43h1v1h-1zM48 44h1v1h-1zM27 46h1v1h-1zM27 47h1v1h-1zM29 48h1v1h-1zM59 48h1v1h-1zM45 49h1v1h-1zM35 54h1v1h-1zM40 55h1v1h-1zM25 62h1v1h-1zM19 65h1v1h-1zM40 69h1v1h-1zM51 72h1v1h-1zM45 75h1v1h-1z"/>
<path fill="#1d0000" d="M16 6h1v1h-1zM16 7h1v1h-1zM28 8h1v1h-1zM48 11h1v1h-1zM62 12h1v1h-1zM20 17h1v1h-1zM26 21h1v1h-1zM35 23h1v1h-1zM39 23h2v1h-2zM36 24h2v1h-2zM41 24h1v1h-1zM43 24h1v1h-1zM43 25h2v1h-2zM31 26h1v1h-1zM46 26h1v1h-1zM46 27h1v1h-1zM0 29h1v1h-1zM46 29h1v1h-1zM27 31h1v1h-1zM47 31h1v1h-1zM27 33h1v1h-1zM48 33h1v1h-1zM49 39h1v1h-1zM49 41h1v1h-1zM71 41h2v1h-2zM26 42h1v1h-1zM26 43h1v1h-1zM49 43h1v1h-1zM48 45h1v1h-1zM47 46h2v1h-2zM31 50h1v1h-1zM33 51h1v1h-1zM35 51h1v1h-1zM41 51h1v1h-1zM36 52h3v1h-3zM25 59h1v1h-1zM51 71h1v1h-1zM52 72h1v1h-1zM52 73h1v1h-1zM51 74h1v1h-1z"/>
<path fill="#1f0000" d="M34 24h1v1h-1zM38 24h2v1h-2zM32 25h1v1h-1zM46 28h1v1h-1zM26 36h1v1h-1zM26 40h1v1h-1zM49 40h1v1h-1zM30 49h1v1h-1zM39 52h1v1h-1zM52 71h1v1h-1z"/>
<path fill="#210000" d="M35 24h1v1h-1zM33 25h1v1h-1zM42 25h1v1h-1zM32 26h1v1h-1zM44 26h2v1h-2zM29 27h3v1h-3zM28 29h1v1h-1zM27 32h1v1h-1zM27 34h1v1h-1zM49 38h1v1h-1zM26 39h1v1h-1zM27 42h1v1h-1zM49 42h1v1h-1zM48 43h1v1h-1zM28 45h1v1h-1zM47 45h1v1h-1zM28 47h1v1h-1zM46 47h1v1h-1zM44 49h1v1h-1zM42 50h2v1h-2zM36 51h1v1h-1zM38 51h1v1h-1zM40 52h1v1h-1z"/>
<path fill="#230000" d="M40 25h1v1h-1zM45 27h1v1h-1zM29 47h1v1h-1zM45 48h1v1h-1zM37 51h1v1h-1zM39 51h1v1h-1z"/>
<path fill="#250000" d="M41 25h1v1h-1zM43 26h1v1h-1zM29 29h1v1h-1zM48 34h1v1h-1zM26 37h1v1h-1zM26 38h1v1h-1zM48 41h1v1h-1zM48 42h1v1h-1zM47 44h1v1h-1zM28 46h1v1h-1zM30 48h1v1h-1zM31 49h1v1h-1zM32 50h1v1h-1zM40 51h1v1h-1z"/>
<path fill="#270000" d="M39 25h1v1h-1zM29 28h1v1h-1zM45 28h1v1h-1zM28 44h1v1h-1zM34 50h1v1h-1z"/>
<path fill="#290000" d="M34 25h1v1h-1zM37 25h2v1h-2zM44 27h1v1h-1zM30 28h1v1h-1zM28 30h1v1h-1zM46 30h1v1h-1zM28 31h1v1h-1zM27 35h1v1h-1zM48 35h1v1h-1zM27 36h1v1h-1zM48 36h1v1h-1zM27 41h1v1h-1zM46 46h1v1h-1zM32 49h1v1h-1zM43 49h1v1h-1zM33 50h1v1h-1zM41 50h1v1h-1z"/>
<path fill="#2b0000" d="M36 25h1v1h-1zM33 26h1v1h-1zM48 37h1v1h-1zM48 40h1v1h-1zM45 47h1v1h-1zM31 48h1v1h-1z"/>
<path fill="#2d0000" d="M35 25h1v1h-1zM42 26h1v1h-1zM32 27h1v1h-1zM29 30h1v1h-1zM47 32h1v1h-1zM29 46h1v1h-1zM30 47h1v1h-1zM35 50h1v1h-1z"/>
<path fill="#2f0000" d="M27 37h1v1h-1zM37 50h1v1h-1zM40 50h1v1h-1z"/>
<path fill="#300000" d="M27 39h1v1h-1zM47 43h1v1h-1zM36 50h1v1h-1zM38 50h1v1h-1z"/>
<path fill="#310000" d="M31 28h1v1h-1zM44 28h1v1h-1zM30 29h1v1h-1zM45 29h1v1h-1zM28 32h1v1h-1zM27 38h1v1h-1zM48 39h1v1h-1zM27 40h1v1h-1zM29 45h1v1h-1zM44 48h1v1h-1zM33 49h1v1h-1zM42 49h1v1h-1zM39 50h1v1h-1z"/>
<path fill="#320000" d="M34 26h1v1h-1zM41 26h1v1h-1zM43 27h1v1h-1zM48 38h1v1h-1zM30 46h1v1h-1z"/>
<path fill="#330000" d="M28 43h1v1h-1zM46 45h1v1h-1z"/>
<path fill="#340000" d="M31 47h1v1h-1z"/>
<path fill="#360000" d="M40 26h1v1h-1zM29 31h1v1h-1zM47 33h1v1h-1zM32 48h1v1h-1z"/>
<path fill="#370000" d="M46 31h1v1h-1zM44 47h1v1h-1z"/>
<path fill="#380000" d="M35 26h1v1h-1zM28 33h1v1h-1zM47 42h1v1h-1z"/>
<path fill="#390000" d="M33 27h1v1h-1zM28 42h1v1h-1z"/>
<path fill="#3a0000" d="M39 26h1v1h-1zM45 46h1v1h-1zM43 48h1v1h-1zM41 49h1v1h-1z"/>
<path fill="#3c0000" d="M38 26h1v1h-1zM34 49h1v1h-1z"/>
<path fill="#3d0000" d="M29 44h1v1h-1z"/>
<path fill="#3e0000" d="M31 29h1v1h-1z"/>
<path fill="#3f0000" d="M42 27h1v1h-1zM29 32h1v1h-1zM28 34h1v1h-1z"/>
<path fill="#400000" d="M36 26h1v1h-1zM30 30h1v1h-1zM47 34h1v1h-1zM40 49h1v1h-1z"/>
<path fill="#410000" d="M37 26h1v1h-1zM34 27h1v1h-1zM45 30h1v1h-1zM47 41h1v1h-1zM46 44h1v1h-1zM35 49h1v1h-1z"/>
<path fill="#430000" d="M43 28h1v1h-1zM44 29h1v1h-1zM28 36h1v1h-1zM31 46h1v1h-1z"/>
<path fill="#440000" d="M33 48h1v1h-1z"/>
<path fill="#460000" d="M41 27h1v1h-1zM28 37h1v1h-1zM30 45h1v1h-1zM42 48h1v1h-1zM36 49h1v1h-1zM39 49h1v1h-1z"/>
<path fill="#480000" d="M46 32h1v1h-1zM28 35h1v1h-1zM47 35h1v1h-1zM47 36h1v1h-1z"/>
<path fill="#490000" d="M47 40h1v1h-1z"/>
<path fill="#4a0000" d="M47 37h1v1h-1zM45 45h1v1h-1zM37 49h1v1h-1z"/>
<path fill="#4b0000" d="M32 28h1v1h-1zM32 47h1v1h-1z"/>
<path fill="#4c0000" d="M28 41h1v1h-1zM44 46h1v1h-1zM38 49h1v1h-1z"/>
<path fill="#4e0000" d="M35 27h1v1h-1z"/>
<path fill="#4f0000" d="M28 38h1v1h-1zM34 48h1v1h-1z"/>
<path fill="#500000" d="M40 27h1v1h-1zM47 38h1v1h-1zM28 39h1v1h-1zM29 43h1v1h-1zM43 47h1v1h-1z"/>
<path fill="#510000" d="M42 28h1v1h-1z"/>
<path fill="#520000" d="M28 40h1v1h-1z"/>
<path fill="#530000" d="M47 39h1v1h-1z"/>
<path fill="#540000" d="M33 28h1v1h-1z"/>
<path fill="#550000" d="M29 33h1v1h-1z"/>
<path fill="#570000" d="M36 27h1v1h-1zM30 31h1v1h-1zM46 43h1v1h-1zM41 48h1v1h-1z"/>
<path fill="#580000" d="M45 31h1v1h-1z"/>
<path fill="#590000" d="M46 33h1v1h-1zM29 42h1v1h-1zM35 48h1v1h-1z"/>
<path fill="#5a0000" d="M43 29h1v1h-1z"/>
<path fill="#5b0000" d="M31 30h1v1h-1z"/>
<path fill="#5c0000" d="M37 27h1v1h-1zM39 27h1v1h-1zM32 29h1v1h-1z"/>
<path fill="#5d0000" d="M38 27h1v1h-1z"/>
<path fill="#5e0000" d="M44 30h1v1h-1z"/>
<path fill="#600000" d="M41 28h1v1h-1zM45 44h1v1h-1z"/>
<path fill="#620000" d="M34 28h1v1h-1zM42 47h1v1h-1zM40 48h1v1h-1z"/>
<path fill="#630000" d="M46 42h1v1h-1zM36 48h1v1h-1z"/>
<path fill="#640000" d="M33 47h1v1h-1zM39 48h1v1h-1z"/>
<path fill="#650000" d="M30 32h1v1h-1zM30 44h1v1h-1z"/>
<path fill="#670000" d="M31 45h1v1h-1z"/>
<path fill="#690000" d="M45 32h1v1h-1zM44 45h1v1h-1z"/>
<path fill="#6a0000" d="M32 46h1v1h-1z"/>
<path fill="#6d0000" d="M29 34h1v1h-1zM46 34h1v1h-1zM37 48h2v1h-2z"/>
<path fill="#6e0000" d="M46 41h1v1h-1zM43 46h1v1h-1z"/>
<path fill="#6f0000" d="M40 28h1v1h-1z"/>
<path fill="#710000" d="M42 29h1v1h-1z"/>
<path fill="#720000" d="M33 29h1v1h-1zM29 41h1v1h-1z"/>
<path fill="#730000" d="M35 28h1v1h-1zM41 47h1v1h-1z"/>
<path fill="#740000" d="M34 47h1v1h-1z"/>
<path fill="#770000" d="M32 30h1v1h-1z"/>
<path fill="#780000" d="M29 35h1v1h-1zM30 43h1v1h-1z"/>
<path fill="#790000" d="M36 28h1v1h-1z"/>
<path fill="#7c0000" d="M46 40h1v1h-1z"/>
<path fill="#7d0000" d="M44 31h1v1h-1z"/>
<path fill="#7e0000" d="M31 31h1v1h-1z"/>
<path fill="#7f0000" d="M37 28h1v1h-1z"/>
<path fill="#800000" d="M38 28h2v1h-2zM46 35h1v1h-1zM29 36h1v1h-1z"/>
<path fill="#820000" d="M35 47h1v1h-1z"/>
<path fill="#830000" d="M45 43h1v1h-1z"/>
<path fill="#840000" d="M43 30h1v1h-1zM29 40h1v1h-1z"/>
<path fill="#850000" d="M45 33h1v1h-1z"/>
<path fill="#860000" d="M46 36h1v1h-1z"/>
<path fill="#880000" d="M29 37h1v1h-1zM29 39h1v1h-1zM44 44h1v1h-1z"/>
<path fill="#890000" d="M30 33h1v1h-1zM42 46h1v1h-1z"/>
<path fill="#8a0000" d="M46 37h1v1h-1zM33 46h1v1h-1zM40 47h1v1h-1z"/>
<path fill="#8b0000" d="M34 29h1v1h-1zM29 38h1v1h-1zM46 39h1v1h-1z"/>
<path fill="#8c0000" d="M31 44h1v1h-1zM36 47h1v1h-1z"/>
<path fill="#8d0000" d="M41 29h1v1h-1zM30 42h1v1h-1z"/>
<path fill="#8f0000" d="M46 38h1v1h-1z"/>
<path fill="#910000" d="M43 45h1v1h-1z"/>
<path fill="#920000" d="M39 47h1v1h-1z"/>
<path fill="#940000" d="M32 45h1v1h-1z"/>
<path fill="#960000" d="M37 47h1v1h-1z"/>
<path fill="#970000" d="M33 30h1v1h-1z"/>
<path fill="#980000" d="M44 32h1v1h-1z"/>
<path fill="#9a0000" d="M45 42h1v1h-1zM38 47h1v1h-1z"/>
<path fill="#9c0000" d="M31 32h1v1h-1z"/>
<path fill="#9d0000" d="M32 31h1v1h-1z"/>
<path fill="#9e0000" d="M35 29h1v1h-1z"/>
<path fill="#9f0000" d="M41 46h1v1h-1z"/>
<path fill="#a00000" d="M40 29h1v1h-1z"/>
<path fill="#a40000" d="M42 30h1v1h-1zM34 46h1v1h-1z"/>
<path fill="#a70000" d="M43 31h1v1h-1zM45 34h1v1h-1zM45 41h1v1h-1z"/>
<path fill="#aa0000" d="M30 34h1v1h-1z"/>
<path fill="#ab0000" d="M36 29h1v1h-1zM31 43h1v1h-1z"/>
<path fill="#ac0000" d="M30 41h1v1h-1z"/>
<path fill="#b10000" d="M44 43h1v1h-1z"/>
<path fill="#b40000" d="M37 29h1v1h-1zM35 46h1v1h-1z"/>
<path fill="#b50000" d="M39 29h1v1h-1z"/>
<path fill="#ba0000" d="M38 29h1v1h-1zM33 45h1v1h-1z"/>
<path fill="#bb0000" d="M30 35h1v1h-1z"/>
<path fill="#bc0000" d="M42 45h1v1h-1zM40 46h1v1h-1z"/>
<path fill="#bd0000" d="M43 44h1v1h-1z"/>
<path fill="#be0000" d="M34 30h1v1h-1zM45 35h1v1h-1zM32 44h1v1h-1z"/>
<path fill="#bf0000" d="M45 40h1v1h-1z"/>
<path fill="#c20000" d="M44 33h1v1h-1zM30 40h1v1h-1z"/>
<path fill="#c40000" d="M36 46h1v1h-1z"/>
<path fill="#c50000" d="M39 46h1v1h-1z"/>
<path fill="#c70000" d="M41 30h1v1h-1z"/>
<path fill="#c80000" d="M31 33h1v1h-1z"/>
<path fill="#c90000" d="M33 31h1v1h-1z"/>
<path fill="#cb0000" d="M43 32h1v1h-1zM30 36h1v1h-1z"/>
<path fill="#ce0000" d="M45 36h1v1h-1z"/>
<path fill="#cf0000" d="M35 30h1v1h-1z"/>
<path fill="#d00000" d="M31 42h1v1h-1z"/>
<path fill="#d10000" d="M32 32h1v1h-1z"/>
<path fill="#d20000" d="M45 39h1v1h-1zM37 46h1v1h-1z"/>
<path fill="#d30000" d="M30 39h1v1h-1z"/>
<path fill="#d70000" d="M45 37h1v1h-1z"/>
<path fill="#d80000" d="M44 42h1v1h-1zM34 45h1v1h-1z"/>
<path fill="#d90000" d="M42 31h1v1h-1z"/>
<path fill="#da0000" d="M45 38h1v1h-1zM38 46h1v1h-1z"/>
<path fill="#dc0000" d="M40 30h1v1h-1zM41 45h1v1h-1z"/>
<path fill="#dd0000" d="M30 37h1v1h-1z"/>
<path fill="#e10000" d="M30 38h1v1h-1z"/>
<path fill="#e90000" d="M36 30h1v1h-1z"/>
<path fill="#ec0000" d="M32 43h1v1h-1z"/>
<path fill="#ee0000" d="M33 44h1v1h-1zM35 45h1v1h-1z"/>
<path fill="#ef0000" d="M31 34h1v1h-1zM43 43h1v1h-1z"/>
<path fill="#f00000" d="M39 30h1v1h-1z"/>
<path fill="#f30000" d="M37 30h1v1h-1zM44 34h1v1h-1z"/>
<path fill="#f40000" d="M44 41h1v1h-1zM40 45h1v1h-1z"/>
<path fill="#f50000" d="M38 30h1v1h-1zM42 44h1v1h-1z"/>
<path fill="#f80000" d="M31 41h1v1h-1z"/>
<path fill="#fb0000" d="M34 31h1v1h-1z"/>
<path fill="#ff0100" d="M41 31h1v1h-1z"/>
<path fill="#ff0200" d="M43 33h1v1h-1z"/>
<path fill="#ff0400" d="M33 32h1v1h-1z"/>
<path fill="#ff0500" d="M39 45h1v1h-1z"/>
<path fill="#ff0b00" d="M36 45h1v1h-1z"/>
<path fill="#ff0c00" d="M31 35h1v1h-1z"/>
<path fill="#ff1000" d="M42 32h1v1h-1zM31 40h1v1h-1zM34 44h1v1h-1z"/>
<path fill="#ff1200" d="M35 31h1v1h-1z"/>
<path fill="#ff1300" d="M32 33h1v1h-1zM44 35h1v1h-1z"/>
<path fill="#ff1500" d="M44 40h1v1h-1z"/>
<path fill="#ff1900" d="M32 42h1v1h-1z"/>
<path fill="#ff1d00" d="M43 42h1v1h-1z"/>
<path fill="#ff1f00" d="M37 45h2v1h-2z"/>
<path fill="#ff2400" d="M31 36h1v1h-1z"/>
<path fill="#ff2500" d="M40 31h1v1h-1zM44 36h1v1h-1z"/>
<path fill="#ff2600" d="M44 39h1v1h-1z"/>
<path fill="#ff2700" d="M33 43h1v1h-1zM42 43h1v1h-1z"/>
<path fill="#ff2800" d="M41 44h1v1h-1z"/>
<path fill="#ff2f00" d="M44 38h1v1h-1zM35 44h1v1h-1z"/>
<path fill="#ff3000" d="M36 31h1v1h-1zM44 37h1v1h-1z"/>
<path fill="#ff3100" d="M31 39h1v1h-1z"/>
<path fill="#ff3600" d="M31 37h1v1h-1z"/>
<path fill="#ff3900" d="M34 32h1v1h-1z"/>
<path fill="#ff3c00" d="M37 31h2v1h-2z"/>
<path fill="#ff3f00" d="M43 34h1v1h-1zM31 38h1v1h-1z"/>
<path fill="#ff4100" d="M42 33h1v1h-1z"/>
<path fill="#ff4200" d="M39 31h1v1h-1zM32 34h1v1h-1z"/>
<path fill="#ff4300" d="M41 32h1v1h-1z"/>
<path fill="#ff4500" d="M43 41h1v1h-1z"/>
<path fill="#ff4600" d="M40 44h1v1h-1z"/>
<path fill="#ff4800" d="M33 33h1v1h-1z"/>
<path fill="#ff4a00" d="M34 43h1v1h-1zM39 44h1v1h-1z"/>
<path fill="#ff5100" d="M32 41h1v1h-1zM36 44h1v1h-1z"/>
<path fill="#ff5600" d="M41 43h1v1h-1z"/>
<path fill="#ff5d00" d="M35 32h1v1h-1z"/>
<path fill="#ff6000" d="M43 35h1v1h-1zM38 44h1v1h-1z"/>
<path fill="#ff6400" d="M32 35h1v1h-1z"/>
<path fill="#ff6500" d="M33 42h1v1h-1z"/>
<path fill="#ff6600" d="M40 32h1v1h-1z"/>
<path fill="#ff6700" d="M43 40h1v1h-1z"/>
<path fill="#ff6800" d="M35 43h1v1h-1z"/>
<path fill="#ff6b00" d="M42 42h1v1h-1z"/>
<path fill="#ff7200" d="M37 44h1v1h-1z"/>
<path fill="#ff7400" d="M41 33h1v1h-1z"/>
<path fill="#ff7700" d="M33 34h1v1h-1z"/>
<path fill="#ff7800" d="M36 32h1v1h-1zM34 33h1v1h-1z"/>
<path fill="#ff7900" d="M32 40h1v1h-1z"/>
<path fill="#ff7a00" d="M43 39h1v1h-1z"/>
<path fill="#ff7c00" d="M43 36h1v1h-1z"/>
<path fill="#ff7e00" d="M37 32h1v1h-1z"/>
<path fill="#ff8000" d="M42 34h1v1h-1z"/>
<path fill="#ff8200" d="M32 36h1v1h-1zM43 37h1v1h-1zM43 38h1v1h-1z"/>
<path fill="#ff8300" d="M40 43h1v1h-1z"/>
<path fill="#ff8700" d="M38 32h1v1h-1z"/>
<path fill="#ff9000" d="M32 38h1v1h-1zM36 43h1v1h-1z"/>
<path fill="#ff9200" d="M39 32h1v1h-1zM32 37h1v1h-1zM42 41h1v1h-1z"/>
<path fill="#ff9300" d="M32 39h1v1h-1zM34 42h1v1h-1z"/>
<path fill="#ff9500" d="M39 43h1v1h-1z"/>
<path fill="#ff9700" d="M33 41h1v1h-1z"/>
<path fill="#ff9800" d="M40 33h1v1h-1z"/>
<path fill="#ff9c00" d="M35 33h1v1h-1z"/>
<path fill="#ffa000" d="M41 42h1v1h-1z"/>
<path fill="#ffa100" d="M33 35h1v1h-1z"/>
<path fill="#ffa500" d="M42 35h1v1h-1zM38 43h1v1h-1z"/>
<path fill="#ffaa00" d="M34 34h1v1h-1z"/>
<path fill="#ffab00" d="M37 43h1v1h-1z"/>
<path fill="#ffb000" d="M36 33h1v1h-1z"/>
<path fill="#ffb100" d="M41 34h1v1h-1z"/>
<path fill="#ffb600" d="M39 33h1v1h-1z"/>
<path fill="#ffb800" d="M35 42h1v1h-1z"/>
<path fill="#ffb900" d="M37 33h1v1h-1z"/>
<path fill="#ffba00" d="M42 36h1v1h-1zM42 40h1v1h-1z"/>
<path fill="#ffbf00" d="M38 33h1v1h-1z"/>
<path fill="#ffc500" d="M40 42h1v1h-1z"/>
<path fill="#ffc700" d="M42 39h1v1h-1z"/>
<path fill="#ffc900" d="M33 40h1v1h-1z"/>
<path fill="#ffcc00" d="M33 36h1v1h-1z"/>
<path fill="#ffcd00" d="M42 37h1v1h-1z"/>
<path fill="#ffcf00" d="M36 42h1v1h-1z"/>
<path fill="#ffd200" d="M42 38h1v1h-1zM33 39h1v1h-1zM41 41h1v1h-1z"/>
<path fill="#ffd300" d="M40 34h1v1h-1z"/>
<path fill="#ffd500" d="M34 41h1v1h-1z"/>
<path fill="#ffd600" d="M35 34h1v1h-1z"/>
<path fill="#ffd900" d="M33 38h1v1h-1z"/>
<path fill="#ffdb00" d="M34 35h1v1h-1z"/>
<path fill="#ffdc00" d="M41 35h1v1h-1zM33 37h1v1h-1z"/>
<path fill="#ffdf00" d="M39 42h1v1h-1z"/>
<path fill="#ffe600" d="M38 42h1v1h-1z"/>
<path fill="#ffe800" d="M37 42h1v1h-1z"/>
<path fill="#ffec00" d="M36 34h1v1h-1z"/>
<path fill="#fff100" d="M41 36h1v1h-1z"/>
<path fill="#fff400" d="M40 41h1v1h-1z"/>
<path fill="#fff500" d="M39 34h1v1h-1z"/>
<path fill="#fff600" d="M41 40h1v1h-1z"/>
<path fill="#fff700" d="M34 39h1v1h-1z"/>
<path fill="#fff900" d="M37 34h1v1h-1z"/>
<path fill="#fffb00" d="M38 34h1v1h-1z"/>
<path fill="#ffff00" d="M34 36h1v1h-1zM34 40h1v1h-1z"/>
<path fill="#ffff05" d="M36 41h1v1h-1z"/>
<path fill="#ffff07" d="M35 41h1v1h-1z"/>
<path fill="#ffff08" d="M41 39h1v1h-1z"/>
<path fill="#ffff0b" d="M40 35h1v1h-1z"/>
<path fill="#ffff0f" d="M34 38h1v1h-1z"/>
<path fill="#ffff16" d="M35 35h1v1h-1z"/>
<path fill="#ffff1a" d="M41 38h1v1h-1z"/>
<path fill="#ffff1d" d="M34 37h1v1h-1z"/>
<path fill="#ffff1e" d="M41 37h1v1h-1z"/>
<path fill="#ffff1f" d="M37 41h1v1h-1z"/>
<path fill="#ffff26" d="M39 41h1v1h-1z"/>
<path fill="#ffff2d" d="M35 37h1v1h-1z"/>
<path fill="#ffff2e" d="M35 36h1v1h-1zM40 40h1v1h-1z"/>
<path fill="#ffff33" d="M38 41h1v1h-1z"/>
<path fill="#ffff35" d="M39 35h1v1h-1z"/>
<path fill="#ffff37" d="M40 36h1v1h-1z"/>
<path fill="#ffff38" d="M35 40h1v1h-1z"/>
<path fill="#ffff3d" d="M36 35h1v1h-1z"/>
<path fill="#ffff3e" d="M35 39h1v1h-1zM36 40h1v1h-1z"/>
<path fill="#ffff45" d="M37 40h1v1h-1z"/>
<path fill="#ffff46" d="M38 35h1v1h-1z"/>
<path fill="#ffff4d" d="M35 38h1v1h-1z"/>
<path fill="#ffff53" d="M36 36h1v1h-1z"/>
<path fill="#ffff55" d="M36 37h1v1h-1z"/>
<path fill="#ffff56" d="M40 38h1v1h-1z"/>
<path fill="#ffff57" d="M37 35h1v1h-1z"/>
<path fill="#ffff58" d="M40 39h1v1h-1z"/>
<path fill="#ffff5d" d="M40 37h1v1h-1z"/>
<path fill="#ffff5f" d="M39 40h1v1h-1z"/>
<path fill="#ffff60" d="M39 36h1v1h-1z"/>
<path fill="#ffff65" d="M38 40h1v1h-1z"/>
<path fill="#ffff6c" d="M37 36h1v1h-1z"/>
<path fill="#ffff74" d="M38 36h1v1h-1z"/>
<path fill="#ffff77" d="M39 38h1v1h-1z"/>
<path fill="#ffff78" d="M37 37h1v1h-1zM36 39h1v1h-1z"/>
<path fill="#ffff79" d="M39 37h1v1h-1z"/>
<path fill="#ffff7c" d="M37 39h1v1h-1z"/>
<path fill="#ffff7d" d="M36 38h1v1h-1z"/>
<path fill="#ffff87" d="M38 37h1v1h-1zM39 39h1v1h-1z"/>
<path fill="#ffff96" d="M38 39h1v1h-1z"/>
<path fill="#ffff9b" d="M37 38h1v1h-1z"/>
<path fill="#ffff9d" d="M38 38h1v1h-1z"/>
</g>
<g stroke="#fff" stroke-opacity="0.65" stroke-width="3.5" fill="none">
<path d="M598.45 277.4H751.95 M898.45 277.4H1051.95"/>
<path stroke-dasharray="13.03 5.63" d="M828.2 49.4V187.4 M828.2 361.4V499.4"/>
</g>
<rect x="597.5" y="46.6" width="455.9" height="455.3" fill="none" stroke="#000" stroke-width="1"/>
<text x="825.55" y="35.9" font-size="28.2" text-anchor="middle" fill="#000">Large focal spot</text>
<rect x="1125.55" y="46.1" width="457.65" height="456.3" fill="#0a0000"/>
<g transform="translate(1126.5 46.4) scale(6.00000)" shape-rendering="crispEdges">
<rect width="76" height="76" fill="#130000"/>
<path fill="#0d0000" d="M1 0h1v1h-1zM7 0h1v1h-1zM39 0h1v1h-1zM45 0h1v1h-1zM52 0h1v1h-1zM1 1h1v1h-1zM40 1h1v1h-1zM10 2h1v1h-1zM40 2h2v1h-2zM5 4h1v1h-1zM17 4h1v1h-1zM67 4h1v1h-1zM49 5h1v1h-1zM62 5h2v1h-2zM68 5h1v1h-1zM6 6h1v1h-1zM68 6h1v1h-1zM0 7h1v1h-1zM10 7h1v1h-1zM39 7h1v1h-1zM74 7h1v1h-1zM50 8h2v1h-2zM60 8h2v1h-2zM1 9h1v1h-1zM34 9h1v1h-1zM50 9h1v1h-1zM71 9h1v1h-1zM11 10h2v1h-2zM15 10h1v1h-1zM33 10h2v1h-2zM59 10h1v1h-1zM71 10h1v1h-1zM2 11h1v1h-1zM13 11h4v1h-4zM21 11h1v1h-1zM33 11h3v1h-3zM71 11h1v1h-1zM24 12h2v1h-2zM35 12h1v1h-1zM74 12h2v1h-2zM0 13h1v1h-1zM30 13h1v1h-1zM47 13h1v1h-1zM56 13h1v1h-1zM66 13h1v1h-1zM74 13h1v1h-1zM3 14h1v1h-1zM22 14h1v1h-1zM0 15h1v1h-1zM33 15h1v1h-1zM65 15h1v1h-1zM0 16h2v1h-2zM52 16h2v1h-2zM1 17h1v1h-1zM22 17h1v1h-1zM32 17h1v1h-1zM39 17h1v1h-1zM53 17h2v1h-2zM30 18h1v1h-1zM21 19h1v1h-1zM26 19h1v1h-1zM32 19h1v1h-1zM43 19h2v1h-2zM24 20h2v1h-2zM40 20h1v1h-1zM7 21h1v1h-1zM24 21h2v1h-2zM48 21h1v1h-1zM25 22h1v1h-1zM45 22h1v1h-1zM65 22h2v1h-2zM5 23h1v1h-1zM2 24h1v1h-1zM4 24h2v1h-2zM75 24h1v1h-1zM2 25h1v1h-1zM43 25h1v1h-1zM75 25h1v1h-1zM19 26h1v1h-1zM26 26h1v1h-1zM28 26h1v1h-1zM41 26h2v1h-2zM0 27h1v1h-1zM11 27h1v1h-1zM19 27h1v1h-1zM21 27h1v1h-1zM26 27h2v1h-2zM41 27h1v1h-1zM23 28h2v1h-2zM26 28h1v1h-1zM28 28h1v1h-1zM31 28h1v1h-1zM28 29h1v1h-1zM59 30h2v1h-2zM58 31h5v1h-5zM7 32h1v1h-1zM52 32h2v1h-2zM61 32h1v1h-1zM18 33h1v1h-1zM49 33h1v1h-1zM5 34h1v1h-1zM14 35h1v1h-1zM19 35h1v1h-1zM63 35h1v1h-1zM65 35h1v1h-1zM3 37h1v1h-1zM0 38h1v1h-1zM23 38h1v1h-1zM58 38h2v1h-2zM12 39h3v1h-3zM58 39h2v1h-2zM3 40h1v1h-1zM27 40h1v1h-1zM55 40h1v1h-1zM11 41h1v1h-1zM23 41h1v1h-1zM9 42h3v1h-3zM14 42h1v1h-1zM56 42h1v1h-1zM12 43h1v1h-1zM14 43h1v1h-1zM69 43h1v1h-1zM28 44h1v1h-1zM72 45h1v1h-1zM29 46h1v1h-1zM20 47h1v1h-1zM23 47h1v1h-1zM59 47h3v1h-3zM59 48h1v1h-1zM28 49h1v1h-1zM62 49h1v1h-1zM66 49h1v1h-1zM28 50h1v1h-1zM34 51h1v1h-1zM57 51h1v1h-1zM0 52h1v1h-1zM4 52h2v1h-2zM52 52h2v1h-2zM32 53h1v1h-1zM55 53h1v1h-1zM63 53h1v1h-1zM52 54h1v1h-1zM56 54h1v1h-1zM9 55h1v1h-1zM61 55h1v1h-1zM3 56h1v1h-1zM33 56h1v1h-1zM41 57h1v1h-1zM68 57h1v1h-1zM25 58h1v1h-1zM34 58h2v1h-2zM23 59h1v1h-1zM34 59h2v1h-2zM23 60h1v1h-1zM33 60h1v1h-1zM58 60h1v1h-1zM70 60h2v1h-2zM0 61h2v1h-2zM48 61h1v1h-1zM69 61h2v1h-2zM40 62h1v1h-1zM27 63h1v1h-1zM36 63h1v1h-1zM55 63h1v1h-1zM27 64h1v1h-1zM38 64h1v1h-1zM6 65h1v1h-1zM31 65h1v1h-1zM36 65h1v1h-1zM45 65h1v1h-1zM1 66h1v1h-1zM36 66h1v1h-1zM2 68h2v1h-2zM14 68h1v1h-1zM38 68h2v1h-2zM49 68h2v1h-2zM2 69h1v1h-1zM14 69h1v1h-1zM21 69h1v1h-1zM26 69h2v1h-2zM38 69h2v1h-2zM26 70h1v1h-1zM42 70h1v1h-1zM25 71h1v1h-1zM45 71h1v1h-1zM51 71h1v1h-1zM28 72h2v1h-2zM35 72h1v1h-1zM47 72h1v1h-1zM50 72h1v1h-1zM56 72h1v1h-1zM60 72h1v1h-1zM66 72h1v1h-1zM50 73h2v1h-2zM65 73h2v1h-2zM46 74h1v1h-1zM53 74h1v1h-1zM7 75h1v1h-1zM36 75h1v1h-1zM47 75h1v1h-1zM58 75h1v1h-1z"/>
<path fill="#0f0000" d="M38 0h1v1h-1zM40 0h1v1h-1zM44 0h1v1h-1zM69 0h1v1h-1zM35 1h1v1h-1zM48 1h2v1h-2zM61 1h1v1h-1zM17 2h1v1h-1zM44 2h1v1h-1zM49 2h1v1h-1zM52 2h1v1h-1zM12 3h1v1h-1zM17 3h1v1h-1zM50 3h1v1h-1zM57 3h1v1h-1zM6 4h1v1h-1zM13 4h1v1h-1zM50 4h1v1h-1zM57 4h1v1h-1zM68 4h1v1h-1zM6 5h1v1h-1zM38 5h1v1h-1zM48 5h1v1h-1zM21 6h1v1h-1zM30 6h1v1h-1zM6 7h1v1h-1zM40 7h1v1h-1zM52 8h1v1h-1zM55 8h1v1h-1zM12 9h1v1h-1zM39 9h1v1h-1zM59 9h3v1h-3zM2 10h1v1h-1zM49 10h1v1h-1zM3 11h1v1h-1zM20 11h1v1h-1zM23 11h2v1h-2zM50 11h1v1h-1zM70 11h1v1h-1zM72 11h1v1h-1zM3 12h1v1h-1zM27 12h1v1h-1zM33 12h2v1h-2zM68 12h1v1h-1zM29 13h1v1h-1zM67 13h2v1h-2zM36 14h1v1h-1zM65 14h1v1h-1zM3 15h1v1h-1zM53 15h1v1h-1zM64 15h1v1h-1zM5 16h1v1h-1zM17 16h1v1h-1zM23 16h1v1h-1zM38 16h1v1h-1zM67 16h1v1h-1zM17 17h1v1h-1zM20 17h2v1h-2zM40 17h1v1h-1zM62 17h1v1h-1zM61 18h1v1h-1zM22 19h1v1h-1zM25 19h1v1h-1zM33 19h1v1h-1zM57 19h1v1h-1zM4 20h1v1h-1zM15 20h2v1h-2zM20 20h1v1h-1zM23 20h1v1h-1zM38 20h1v1h-1zM41 20h1v1h-1zM49 20h1v1h-1zM57 20h1v1h-1zM24 22h1v1h-1zM44 22h1v1h-1zM74 22h1v1h-1zM4 23h1v1h-1zM61 23h1v1h-1zM3 24h1v1h-1zM20 25h1v1h-1zM36 25h1v1h-1zM6 26h1v1h-1zM21 26h1v1h-1zM43 26h1v1h-1zM46 26h1v1h-1zM18 27h1v1h-1zM28 27h1v1h-1zM15 28h1v1h-1zM54 28h1v1h-1zM72 29h1v1h-1zM72 30h1v1h-1zM53 31h1v1h-1zM51 32h1v1h-1zM58 32h1v1h-1zM74 32h1v1h-1zM5 33h1v1h-1zM14 33h1v1h-1zM55 33h1v1h-1zM11 34h1v1h-1zM13 34h1v1h-1zM19 34h1v1h-1zM63 34h1v1h-1zM14 36h1v1h-1zM49 36h1v1h-1zM55 36h1v1h-1zM65 36h1v1h-1zM0 37h1v1h-1zM2 37h1v1h-1zM21 39h1v1h-1zM0 41h1v1h-1zM10 41h1v1h-1zM50 41h1v1h-1zM23 42h1v1h-1zM57 42h1v1h-1zM60 42h1v1h-1zM75 42h1v1h-1zM5 43h1v1h-1zM9 43h2v1h-2zM70 43h2v1h-2zM5 44h1v1h-1zM51 44h1v1h-1zM70 44h1v1h-1zM66 45h1v1h-1zM22 46h2v1h-2zM28 46h1v1h-1zM59 46h2v1h-2zM9 47h1v1h-1zM28 47h2v1h-2zM55 48h1v1h-1zM42 49h2v1h-2zM60 49h1v1h-1zM5 50h1v1h-1zM25 51h1v1h-1zM44 51h1v1h-1zM20 52h2v1h-2zM31 52h2v1h-2zM42 52h1v1h-1zM15 53h1v1h-1zM20 53h1v1h-1zM28 53h1v1h-1zM35 53h1v1h-1zM52 53h1v1h-1zM8 54h1v1h-1zM20 54h1v1h-1zM35 54h1v1h-1zM61 54h1v1h-1zM75 54h1v1h-1zM66 55h1v1h-1zM75 55h1v1h-1zM4 56h1v1h-1zM29 56h1v1h-1zM68 56h1v1h-1zM33 57h1v1h-1zM40 57h1v1h-1zM53 57h2v1h-2zM67 57h1v1h-1zM69 57h1v1h-1zM68 58h1v1h-1zM20 59h2v1h-2zM24 59h1v1h-1zM1 60h1v1h-1zM6 60h1v1h-1zM11 60h1v1h-1zM24 60h1v1h-1zM53 60h1v1h-1zM13 61h1v1h-1zM53 61h1v1h-1zM2 62h1v1h-1zM7 62h1v1h-1zM22 62h1v1h-1zM49 62h3v1h-3zM56 62h1v1h-1zM69 62h1v1h-1zM49 63h2v1h-2zM54 63h1v1h-1zM39 64h1v1h-1zM49 64h1v1h-1zM27 65h1v1h-1zM5 66h2v1h-2zM20 66h1v1h-1zM1 67h2v1h-2zM21 67h1v1h-1zM29 67h1v1h-1zM36 67h1v1h-1zM43 67h1v1h-1zM18 68h1v1h-1zM28 68h1v1h-1zM37 68h1v1h-1zM40 68h1v1h-1zM3 69h1v1h-1zM18 69h1v1h-1zM32 69h2v1h-2zM37 69h1v1h-1zM43 69h1v1h-1zM67 69h1v1h-1zM2 70h1v1h-1zM25 70h1v1h-1zM31 70h1v1h-1zM38 70h1v1h-1zM53 70h1v1h-1zM44 71h1v1h-1zM50 71h1v1h-1zM15 72h1v1h-1zM34 72h1v1h-1zM72 72h2v1h-2zM29 73h1v1h-1zM49 73h1v1h-1zM72 74h1v1h-1zM21 75h1v1h-1zM27 75h1v1h-1z"/>
<path fill="#110000" d="M0 0h1v1h-1zM5 0h1v1h-1zM10 0h1v1h-1zM16 0h2v1h-2zM22 0h1v1h-1zM33 0h1v1h-1zM35 0h1v1h-1zM41 0h2v1h-2zM46 0h1v1h-1zM48 0h2v1h-2zM51 0h1v1h-1zM53 0h1v1h-1zM59 0h1v1h-1zM68 0h1v1h-1zM70 0h1v1h-1zM0 1h1v1h-1zM2 1h1v1h-1zM8 1h5v1h-5zM20 1h1v1h-1zM33 1h2v1h-2zM39 1h1v1h-1zM41 1h1v1h-1zM44 1h4v1h-4zM52 1h3v1h-3zM64 1h1v1h-1zM70 1h1v1h-1zM75 1h1v1h-1zM1 2h3v1h-3zM9 2h1v1h-1zM11 2h2v1h-2zM16 2h1v1h-1zM21 2h1v1h-1zM32 2h1v1h-1zM42 2h2v1h-2zM47 2h2v1h-2zM50 2h1v1h-1zM53 2h1v1h-1zM58 2h1v1h-1zM61 2h1v1h-1zM67 2h2v1h-2zM75 2h1v1h-1zM1 3h1v1h-1zM3 3h1v1h-1zM16 3h1v1h-1zM21 3h1v1h-1zM40 3h3v1h-3zM46 3h2v1h-2zM51 3h4v1h-4zM67 3h2v1h-2zM2 4h1v1h-1zM7 4h1v1h-1zM12 4h1v1h-1zM16 4h1v1h-1zM18 4h1v1h-1zM21 4h1v1h-1zM25 4h2v1h-2zM43 4h1v1h-1zM46 4h1v1h-1zM49 4h1v1h-1zM52 4h2v1h-2zM55 4h2v1h-2zM58 4h1v1h-1zM63 4h1v1h-1zM70 4h1v1h-1zM0 5h3v1h-3zM7 5h1v1h-1zM9 5h2v1h-2zM17 5h2v1h-2zM25 5h1v1h-1zM30 5h1v1h-1zM33 5h1v1h-1zM37 5h1v1h-1zM40 5h2v1h-2zM43 5h1v1h-1zM54 5h1v1h-1zM56 5h3v1h-3zM0 6h2v1h-2zM7 6h2v1h-2zM10 6h5v1h-5zM20 6h1v1h-1zM25 6h1v1h-1zM29 6h1v1h-1zM38 6h4v1h-4zM45 6h1v1h-1zM48 6h2v1h-2zM54 6h1v1h-1zM62 6h2v1h-2zM67 6h1v1h-1zM74 6h1v1h-1zM5 7h1v1h-1zM8 7h1v1h-1zM11 7h1v1h-1zM15 7h2v1h-2zM21 7h1v1h-1zM38 7h1v1h-1zM41 7h1v1h-1zM48 7h1v1h-1zM51 7h2v1h-2zM54 7h1v1h-1zM56 7h1v1h-1zM59 7h1v1h-1zM61 7h1v1h-1zM67 7h2v1h-2zM75 7h1v1h-1zM0 8h2v1h-2zM8 8h1v1h-1zM10 8h1v1h-1zM27 8h2v1h-2zM32 8h2v1h-2zM35 8h2v1h-2zM38 8h4v1h-4zM48 8h1v1h-1zM56 8h1v1h-1zM59 8h1v1h-1zM66 8h1v1h-1zM70 8h2v1h-2zM74 8h1v1h-1zM10 9h2v1h-2zM14 9h1v1h-1zM19 9h1v1h-1zM26 9h2v1h-2zM33 9h1v1h-1zM36 9h3v1h-3zM40 9h1v1h-1zM44 9h4v1h-4zM49 9h1v1h-1zM51 9h1v1h-1zM55 9h2v1h-2zM58 9h1v1h-1zM65 9h1v1h-1zM72 9h1v1h-1zM1 10h1v1h-1zM6 10h1v1h-1zM13 10h2v1h-2zM16 10h1v1h-1zM18 10h3v1h-3zM25 10h1v1h-1zM35 10h1v1h-1zM37 10h1v1h-1zM48 10h1v1h-1zM50 10h1v1h-1zM52 10h1v1h-1zM57 10h2v1h-2zM60 10h1v1h-1zM64 10h2v1h-2zM70 10h1v1h-1zM72 10h1v1h-1zM4 11h2v1h-2zM8 11h1v1h-1zM10 11h1v1h-1zM12 11h1v1h-1zM22 11h1v1h-1zM25 11h1v1h-1zM27 11h1v1h-1zM31 11h1v1h-1zM49 11h1v1h-1zM51 11h2v1h-2zM56 11h4v1h-4zM74 11h2v1h-2zM0 12h1v1h-1zM7 12h2v1h-2zM14 12h4v1h-4zM22 12h2v1h-2zM26 12h1v1h-1zM30 12h3v1h-3zM41 12h1v1h-1zM50 12h3v1h-3zM55 12h2v1h-2zM58 12h2v1h-2zM67 12h1v1h-1zM73 12h1v1h-1zM3 13h1v1h-1zM14 13h1v1h-1zM17 13h1v1h-1zM21 13h3v1h-3zM35 13h1v1h-1zM50 13h1v1h-1zM57 13h2v1h-2zM65 13h1v1h-1zM71 13h1v1h-1zM73 13h1v1h-1zM0 14h2v1h-2zM10 14h1v1h-1zM13 14h2v1h-2zM17 14h1v1h-1zM23 14h1v1h-1zM26 14h1v1h-1zM29 14h3v1h-3zM35 14h1v1h-1zM37 14h1v1h-1zM39 14h1v1h-1zM47 14h1v1h-1zM53 14h1v1h-1zM56 14h1v1h-1zM60 14h1v1h-1zM63 14h2v1h-2zM71 14h4v1h-4zM1 15h1v1h-1zM5 15h1v1h-1zM10 15h1v1h-1zM13 15h1v1h-1zM17 15h1v1h-1zM23 15h1v1h-1zM25 15h2v1h-2zM30 15h2v1h-2zM34 15h1v1h-1zM38 15h1v1h-1zM47 15h4v1h-4zM52 15h1v1h-1zM56 15h1v1h-1zM60 15h1v1h-1zM72 15h1v1h-1zM74 15h1v1h-1zM6 16h1v1h-1zM9 16h2v1h-2zM19 16h3v1h-3zM26 16h1v1h-1zM30 16h6v1h-6zM37 16h1v1h-1zM39 16h1v1h-1zM42 16h1v1h-1zM49 16h3v1h-3zM54 16h1v1h-1zM59 16h1v1h-1zM66 16h1v1h-1zM69 16h1v1h-1zM71 16h2v1h-2zM0 17h1v1h-1zM2 17h1v1h-1zM15 17h1v1h-1zM18 17h1v1h-1zM23 17h1v1h-1zM28 17h4v1h-4zM33 17h1v1h-1zM37 17h2v1h-2zM42 17h1v1h-1zM55 17h3v1h-3zM59 17h1v1h-1zM66 17h2v1h-2zM69 17h2v1h-2zM0 18h1v1h-1zM21 18h2v1h-2zM28 18h2v1h-2zM31 18h3v1h-3zM37 18h4v1h-4zM42 18h2v1h-2zM53 18h1v1h-1zM57 18h2v1h-2zM60 18h1v1h-1zM63 18h1v1h-1zM68 18h1v1h-1zM10 19h4v1h-4zM16 19h1v1h-1zM20 19h1v1h-1zM27 19h1v1h-1zM30 19h2v1h-2zM34 19h2v1h-2zM38 19h1v1h-1zM40 19h2v1h-2zM45 19h1v1h-1zM49 19h1v1h-1zM55 19h1v1h-1zM58 19h5v1h-5zM7 20h1v1h-1zM10 20h3v1h-3zM14 20h1v1h-1zM17 20h1v1h-1zM19 20h1v1h-1zM21 20h2v1h-2zM26 20h1v1h-1zM31 20h1v1h-1zM35 20h1v1h-1zM37 20h1v1h-1zM39 20h1v1h-1zM45 20h1v1h-1zM48 20h1v1h-1zM54 20h1v1h-1zM58 20h1v1h-1zM62 20h2v1h-2zM1 21h1v1h-1zM4 21h3v1h-3zM15 21h3v1h-3zM19 21h1v1h-1zM23 21h1v1h-1zM31 21h1v1h-1zM36 21h2v1h-2zM40 21h1v1h-1zM44 21h3v1h-3zM49 21h2v1h-2zM63 21h3v1h-3zM70 21h1v1h-1zM4 22h4v1h-4zM19 22h1v1h-1zM27 22h1v1h-1zM32 22h1v1h-1zM37 22h1v1h-1zM40 22h1v1h-1zM43 22h1v1h-1zM46 22h1v1h-1zM49 22h1v1h-1zM51 22h2v1h-2zM63 22h2v1h-2zM73 22h1v1h-1zM2 23h2v1h-2zM6 23h3v1h-3zM12 23h1v1h-1zM16 23h1v1h-1zM19 23h2v1h-2zM27 23h1v1h-1zM40 23h1v1h-1zM44 23h3v1h-3zM52 23h1v1h-1zM64 23h2v1h-2zM75 23h1v1h-1zM6 24h1v1h-1zM8 24h1v1h-1zM16 24h1v1h-1zM20 24h1v1h-1zM22 24h2v1h-2zM29 24h1v1h-1zM48 24h1v1h-1zM50 24h1v1h-1zM53 24h3v1h-3zM61 24h1v1h-1zM64 24h1v1h-1zM68 24h1v1h-1zM72 24h1v1h-1zM1 25h1v1h-1zM3 25h1v1h-1zM6 25h1v1h-1zM8 25h1v1h-1zM19 25h1v1h-1zM23 25h3v1h-3zM29 25h1v1h-1zM35 25h1v1h-1zM39 25h1v1h-1zM41 25h2v1h-2zM44 25h1v1h-1zM48 25h2v1h-2zM62 25h3v1h-3zM0 26h4v1h-4zM7 26h1v1h-1zM17 26h2v1h-2zM20 26h1v1h-1zM22 26h1v1h-1zM25 26h1v1h-1zM27 26h1v1h-1zM29 26h1v1h-1zM35 26h1v1h-1zM47 26h1v1h-1zM55 26h3v1h-3zM60 26h2v1h-2zM64 26h3v1h-3zM71 26h1v1h-1zM75 26h1v1h-1zM1 27h1v1h-1zM7 27h4v1h-4zM17 27h1v1h-1zM20 27h1v1h-1zM22 27h1v1h-1zM24 27h2v1h-2zM29 27h1v1h-1zM40 27h1v1h-1zM42 27h1v1h-1zM44 27h4v1h-4zM50 27h2v1h-2zM54 27h2v1h-2zM61 27h2v1h-2zM65 27h3v1h-3zM73 27h2v1h-2zM0 28h1v1h-1zM2 28h1v1h-1zM5 28h1v1h-1zM10 28h2v1h-2zM16 28h1v1h-1zM22 28h1v1h-1zM25 28h1v1h-1zM27 28h1v1h-1zM30 28h1v1h-1zM40 28h5v1h-5zM46 28h2v1h-2zM53 28h1v1h-1zM73 28h1v1h-1zM10 29h1v1h-1zM14 29h3v1h-3zM22 29h3v1h-3zM26 29h2v1h-2zM29 29h3v1h-3zM43 29h1v1h-1zM45 29h2v1h-2zM50 29h1v1h-1zM63 29h2v1h-2zM73 29h1v1h-1zM0 30h4v1h-4zM14 30h3v1h-3zM18 30h2v1h-2zM22 30h4v1h-4zM27 30h2v1h-2zM48 30h1v1h-1zM57 30h1v1h-1zM61 30h1v1h-1zM64 30h1v1h-1zM67 30h1v1h-1zM71 30h1v1h-1zM73 30h3v1h-3zM9 31h2v1h-2zM12 31h1v1h-1zM14 31h2v1h-2zM19 31h1v1h-1zM45 31h1v1h-1zM48 31h1v1h-1zM51 31h2v1h-2zM57 31h1v1h-1zM64 31h1v1h-1zM67 31h1v1h-1zM72 31h3v1h-3zM2 32h2v1h-2zM6 32h1v1h-1zM13 32h1v1h-1zM17 32h2v1h-2zM29 32h1v1h-1zM46 32h1v1h-1zM49 32h2v1h-2zM54 32h2v1h-2zM59 32h1v1h-1zM62 32h1v1h-1zM65 32h1v1h-1zM67 32h2v1h-2zM3 33h1v1h-1zM6 33h3v1h-3zM11 33h1v1h-1zM13 33h1v1h-1zM17 33h1v1h-1zM19 33h1v1h-1zM52 33h3v1h-3zM56 33h2v1h-2zM65 33h1v1h-1zM4 34h1v1h-1zM6 34h1v1h-1zM10 34h1v1h-1zM14 34h1v1h-1zM17 34h2v1h-2zM25 34h3v1h-3zM47 34h1v1h-1zM51 34h2v1h-2zM55 34h1v1h-1zM57 34h1v1h-1zM65 34h3v1h-3zM2 35h1v1h-1zM17 35h1v1h-1zM20 35h1v1h-1zM26 35h1v1h-1zM47 35h1v1h-1zM55 35h1v1h-1zM57 35h2v1h-2zM64 35h1v1h-1zM2 36h1v1h-1zM4 36h1v1h-1zM6 36h1v1h-1zM17 36h1v1h-1zM19 36h1v1h-1zM50 36h1v1h-1zM52 36h2v1h-2zM56 36h1v1h-1zM62 36h3v1h-3zM66 36h1v1h-1zM68 36h1v1h-1zM74 36h2v1h-2zM1 37h1v1h-1zM4 37h2v1h-2zM10 37h3v1h-3zM14 37h1v1h-1zM23 37h1v1h-1zM52 37h1v1h-1zM56 37h1v1h-1zM59 37h1v1h-1zM66 37h1v1h-1zM68 37h1v1h-1zM73 37h2v1h-2zM2 38h2v1h-2zM11 38h6v1h-6zM22 38h1v1h-1zM48 38h1v1h-1zM60 38h2v1h-2zM69 38h2v1h-2zM73 38h2v1h-2zM3 39h2v1h-2zM6 39h1v1h-1zM11 39h1v1h-1zM15 39h2v1h-2zM20 39h1v1h-1zM22 39h2v1h-2zM27 39h1v1h-1zM48 39h1v1h-1zM54 39h2v1h-2zM57 39h1v1h-1zM60 39h3v1h-3zM64 39h1v1h-1zM66 39h1v1h-1zM70 39h1v1h-1zM73 39h1v1h-1zM0 40h1v1h-1zM4 40h1v1h-1zM10 40h2v1h-2zM13 40h1v1h-1zM22 40h2v1h-2zM28 40h1v1h-1zM48 40h1v1h-1zM51 40h1v1h-1zM57 40h1v1h-1zM62 40h1v1h-1zM73 40h1v1h-1zM19 41h1v1h-1zM22 41h1v1h-1zM24 41h4v1h-4zM49 41h1v1h-1zM51 41h1v1h-1zM55 41h3v1h-3zM60 41h2v1h-2zM1 42h1v1h-1zM3 42h3v1h-3zM12 42h2v1h-2zM16 42h1v1h-1zM21 42h1v1h-1zM24 42h2v1h-2zM47 42h1v1h-1zM61 42h1v1h-1zM70 42h1v1h-1zM74 42h1v1h-1zM4 43h1v1h-1zM6 43h1v1h-1zM13 43h1v1h-1zM15 43h2v1h-2zM20 43h2v1h-2zM27 43h1v1h-1zM47 43h1v1h-1zM54 43h1v1h-1zM57 43h1v1h-1zM63 43h1v1h-1zM68 43h1v1h-1zM72 43h1v1h-1zM6 44h1v1h-1zM20 44h3v1h-3zM25 44h1v1h-1zM27 44h1v1h-1zM29 44h1v1h-1zM45 44h1v1h-1zM50 44h1v1h-1zM62 44h1v1h-1zM66 44h1v1h-1zM69 44h1v1h-1zM71 44h2v1h-2zM5 45h1v1h-1zM21 45h2v1h-2zM26 45h1v1h-1zM28 45h2v1h-2zM45 45h1v1h-1zM50 45h2v1h-2zM55 45h2v1h-2zM60 45h1v1h-1zM68 45h3v1h-3zM73 45h2v1h-2zM0 46h3v1h-3zM8 46h1v1h-1zM10 46h3v1h-3zM14 46h1v1h-1zM20 46h2v1h-2zM30 46h1v1h-1zM46 46h1v1h-1zM55 46h2v1h-2zM61 46h1v1h-1zM63 46h3v1h-3zM70 46h2v1h-2zM74 46h2v1h-2zM0 47h1v1h-1zM8 47h1v1h-1zM10 47h1v1h-1zM12 47h1v1h-1zM14 47h2v1h-2zM17 47h1v1h-1zM19 47h1v1h-1zM21 47h1v1h-1zM24 47h1v1h-1zM26 47h1v1h-1zM30 47h1v1h-1zM34 47h1v1h-1zM44 47h1v1h-1zM51 47h1v1h-1zM53 47h1v1h-1zM65 47h2v1h-2zM74 47h2v1h-2zM3 48h1v1h-1zM9 48h1v1h-1zM13 48h2v1h-2zM17 48h1v1h-1zM23 48h1v1h-1zM26 48h1v1h-1zM28 48h2v1h-2zM41 48h3v1h-3zM51 48h1v1h-1zM56 48h1v1h-1zM58 48h1v1h-1zM60 48h2v1h-2zM63 48h1v1h-1zM66 48h2v1h-2zM72 48h1v1h-1zM5 49h1v1h-1zM9 49h1v1h-1zM17 49h1v1h-1zM22 49h2v1h-2zM29 49h1v1h-1zM31 49h1v1h-1zM37 49h1v1h-1zM41 49h1v1h-1zM45 49h1v1h-1zM50 49h2v1h-2zM55 49h2v1h-2zM59 49h1v1h-1zM61 49h1v1h-1zM67 49h2v1h-2zM0 50h2v1h-2zM4 50h1v1h-1zM10 50h1v1h-1zM14 50h1v1h-1zM16 50h2v1h-2zM19 50h4v1h-4zM26 50h2v1h-2zM29 50h1v1h-1zM33 50h2v1h-2zM40 50h4v1h-4zM50 50h4v1h-4zM57 50h1v1h-1zM61 50h2v1h-2zM65 50h2v1h-2zM72 50h1v1h-1zM75 50h1v1h-1zM0 51h1v1h-1zM3 51h3v1h-3zM13 51h2v1h-2zM16 51h1v1h-1zM19 51h4v1h-4zM24 51h1v1h-1zM26 51h2v1h-2zM31 51h3v1h-3zM38 51h2v1h-2zM41 51h1v1h-1zM43 51h1v1h-1zM45 51h1v1h-1zM49 51h4v1h-4zM54 51h1v1h-1zM58 51h3v1h-3zM66 51h1v1h-1zM70 51h3v1h-3zM1 52h1v1h-1zM3 52h1v1h-1zM8 52h1v1h-1zM13 52h3v1h-3zM18 52h2v1h-2zM24 52h1v1h-1zM27 52h1v1h-1zM34 52h2v1h-2zM38 52h2v1h-2zM43 52h4v1h-4zM48 52h1v1h-1zM54 52h4v1h-4zM61 52h3v1h-3zM70 52h2v1h-2zM0 53h1v1h-1zM3 53h2v1h-2zM11 53h1v1h-1zM18 53h2v1h-2zM29 53h1v1h-1zM31 53h1v1h-1zM34 53h1v1h-1zM37 53h1v1h-1zM41 53h2v1h-2zM48 53h1v1h-1zM53 53h2v1h-2zM56 53h1v1h-1zM58 53h3v1h-3zM62 53h1v1h-1zM0 54h1v1h-1zM9 54h3v1h-3zM15 54h1v1h-1zM19 54h1v1h-1zM22 54h2v1h-2zM29 54h1v1h-1zM32 54h1v1h-1zM34 54h1v1h-1zM36 54h1v1h-1zM39 54h2v1h-2zM48 54h1v1h-1zM51 54h1v1h-1zM53 54h1v1h-1zM59 54h1v1h-1zM62 54h1v1h-1zM2 55h3v1h-3zM10 55h1v1h-1zM14 55h2v1h-2zM18 55h5v1h-5zM28 55h2v1h-2zM33 55h2v1h-2zM48 55h2v1h-2zM52 55h1v1h-1zM56 55h1v1h-1zM59 55h2v1h-2zM62 55h4v1h-4zM67 55h1v1h-1zM69 55h1v1h-1zM74 55h1v1h-1zM2 56h1v1h-1zM18 56h2v1h-2zM27 56h2v1h-2zM34 56h1v1h-1zM49 56h1v1h-1zM52 56h2v1h-2zM55 56h2v1h-2zM59 56h2v1h-2zM64 56h1v1h-1zM67 56h1v1h-1zM69 56h1v1h-1zM74 56h1v1h-1zM1 57h5v1h-5zM19 57h3v1h-3zM24 57h1v1h-1zM26 57h1v1h-1zM29 57h1v1h-1zM34 57h1v1h-1zM37 57h1v1h-1zM52 57h1v1h-1zM59 57h1v1h-1zM2 58h2v1h-2zM5 58h1v1h-1zM19 58h4v1h-4zM24 58h1v1h-1zM26 58h4v1h-4zM33 58h1v1h-1zM36 58h2v1h-2zM40 58h2v1h-2zM53 58h2v1h-2zM58 58h2v1h-2zM63 58h1v1h-1zM69 58h1v1h-1zM73 58h1v1h-1zM75 58h1v1h-1zM2 59h1v1h-1zM6 59h1v1h-1zM11 59h2v1h-2zM15 59h1v1h-1zM25 59h4v1h-4zM32 59h2v1h-2zM36 59h1v1h-1zM40 59h3v1h-3zM44 59h2v1h-2zM49 59h1v1h-1zM52 59h2v1h-2zM58 59h3v1h-3zM63 59h1v1h-1zM69 59h1v1h-1zM73 59h1v1h-1zM75 59h1v1h-1zM0 60h1v1h-1zM2 60h1v1h-1zM5 60h1v1h-1zM12 60h1v1h-1zM18 60h2v1h-2zM29 60h1v1h-1zM32 60h1v1h-1zM34 60h2v1h-2zM44 60h2v1h-2zM48 60h1v1h-1zM50 60h1v1h-1zM57 60h1v1h-1zM59 60h5v1h-5zM69 60h1v1h-1zM72 60h1v1h-1zM74 60h2v1h-2zM2 61h1v1h-1zM6 61h2v1h-2zM14 61h1v1h-1zM18 61h1v1h-1zM22 61h3v1h-3zM29 61h2v1h-2zM42 61h3v1h-3zM47 61h1v1h-1zM49 61h4v1h-4zM54 61h1v1h-1zM58 61h1v1h-1zM61 61h1v1h-1zM66 61h1v1h-1zM72 61h1v1h-1zM0 62h1v1h-1zM6 62h1v1h-1zM13 62h1v1h-1zM21 62h1v1h-1zM23 62h2v1h-2zM27 62h1v1h-1zM30 62h2v1h-2zM39 62h1v1h-1zM43 62h4v1h-4zM48 62h1v1h-1zM52 62h1v1h-1zM55 62h1v1h-1zM59 62h3v1h-3zM67 62h1v1h-1zM70 62h3v1h-3zM2 63h2v1h-2zM6 63h2v1h-2zM9 63h1v1h-1zM19 63h1v1h-1zM22 63h1v1h-1zM30 63h2v1h-2zM35 63h1v1h-1zM37 63h5v1h-5zM43 63h2v1h-2zM51 63h1v1h-1zM56 63h1v1h-1zM67 63h1v1h-1zM69 63h2v1h-2zM75 63h1v1h-1zM1 64h1v1h-1zM6 64h4v1h-4zM18 64h3v1h-3zM35 64h3v1h-3zM42 64h1v1h-1zM45 64h1v1h-1zM50 64h1v1h-1zM62 64h1v1h-1zM64 64h1v1h-1zM75 64h1v1h-1zM1 65h1v1h-1zM7 65h4v1h-4zM20 65h1v1h-1zM23 65h1v1h-1zM25 65h2v1h-2zM32 65h1v1h-1zM35 65h1v1h-1zM37 65h1v1h-1zM47 65h2v1h-2zM55 65h2v1h-2zM64 65h1v1h-1zM0 66h1v1h-1zM7 66h2v1h-2zM21 66h1v1h-1zM23 66h1v1h-1zM25 66h1v1h-1zM27 66h1v1h-1zM29 66h1v1h-1zM31 66h2v1h-2zM35 66h1v1h-1zM37 66h1v1h-1zM39 66h1v1h-1zM43 66h1v1h-1zM47 66h1v1h-1zM52 66h1v1h-1zM55 66h1v1h-1zM63 66h1v1h-1zM67 66h1v1h-1zM3 67h1v1h-1zM5 67h1v1h-1zM14 67h1v1h-1zM18 67h1v1h-1zM20 67h1v1h-1zM24 67h2v1h-2zM28 67h1v1h-1zM34 67h2v1h-2zM37 67h3v1h-3zM42 67h1v1h-1zM44 67h1v1h-1zM49 67h2v1h-2zM62 67h1v1h-1zM65 67h1v1h-1zM12 68h2v1h-2zM21 68h1v1h-1zM27 68h1v1h-1zM42 68h2v1h-2zM46 68h1v1h-1zM53 68h2v1h-2zM59 68h1v1h-1zM61 68h8v1h-8zM75 68h1v1h-1zM5 69h2v1h-2zM10 69h1v1h-1zM13 69h1v1h-1zM19 69h2v1h-2zM22 69h1v1h-1zM28 69h1v1h-1zM30 69h2v1h-2zM34 69h2v1h-2zM40 69h1v1h-1zM42 69h1v1h-1zM45 69h2v1h-2zM50 69h1v1h-1zM55 69h1v1h-1zM57 69h8v1h-8zM66 69h1v1h-1zM68 69h1v1h-1zM70 69h1v1h-1zM74 69h1v1h-1zM3 70h1v1h-1zM11 70h2v1h-2zM14 70h1v1h-1zM18 70h2v1h-2zM21 70h2v1h-2zM24 70h1v1h-1zM27 70h4v1h-4zM32 70h2v1h-2zM36 70h2v1h-2zM39 70h1v1h-1zM41 70h1v1h-1zM43 70h1v1h-1zM48 70h1v1h-1zM51 70h1v1h-1zM55 70h1v1h-1zM66 70h1v1h-1zM70 70h1v1h-1zM73 70h2v1h-2zM9 71h2v1h-2zM24 71h1v1h-1zM26 71h1v1h-1zM28 71h2v1h-2zM34 71h1v1h-1zM37 71h3v1h-3zM41 71h3v1h-3zM46 71h2v1h-2zM53 71h1v1h-1zM55 71h2v1h-2zM60 71h1v1h-1zM66 71h1v1h-1zM71 71h2v1h-2zM5 72h1v1h-1zM32 72h1v1h-1zM39 72h1v1h-1zM42 72h2v1h-2zM48 72h1v1h-1zM51 72h1v1h-1zM55 72h1v1h-1zM57 72h1v1h-1zM65 72h1v1h-1zM74 72h1v1h-1zM0 73h1v1h-1zM8 73h1v1h-1zM15 73h1v1h-1zM22 73h1v1h-1zM34 73h4v1h-4zM39 73h2v1h-2zM46 73h3v1h-3zM52 73h1v1h-1zM56 73h2v1h-2zM60 73h1v1h-1zM67 73h2v1h-2zM72 73h2v1h-2zM0 74h4v1h-4zM6 74h8v1h-8zM21 74h2v1h-2zM27 74h1v1h-1zM29 74h1v1h-1zM33 74h2v1h-2zM36 74h1v1h-1zM47 74h1v1h-1zM49 74h1v1h-1zM51 74h2v1h-2zM54 74h1v1h-1zM63 74h3v1h-3zM67 74h2v1h-2zM73 74h3v1h-3zM2 75h1v1h-1zM6 75h1v1h-1zM8 75h2v1h-2zM12 75h3v1h-3zM16 75h2v1h-2zM20 75h1v1h-1zM32 75h2v1h-2zM35 75h1v1h-1zM37 75h1v1h-1zM40 75h1v1h-1zM46 75h1v1h-1zM48 75h3v1h-3zM53 75h1v1h-1zM59 75h1v1h-1zM69 75h1v1h-1zM72 75h2v1h-2z"/>
<path fill="#150000" d="M9 0h1v1h-1zM11 0h5v1h-5zM18 0h4v1h-4zM24 0h3v1h-3zM31 0h1v1h-1zM34 0h1v1h-1zM36 0h2v1h-2zM47 0h1v1h-1zM54 0h1v1h-1zM58 0h1v1h-1zM61 0h1v1h-1zM64 0h1v1h-1zM67 0h1v1h-1zM71 0h1v1h-1zM75 0h1v1h-1zM5 1h1v1h-1zM7 1h1v1h-1zM21 1h4v1h-4zM26 1h2v1h-2zM30 1h1v1h-1zM42 1h2v1h-2zM50 1h2v1h-2zM56 1h1v1h-1zM58 1h2v1h-2zM62 1h1v1h-1zM65 1h1v1h-1zM68 1h1v1h-1zM71 1h4v1h-4zM4 2h1v1h-1zM6 2h1v1h-1zM8 2h1v1h-1zM14 2h1v1h-1zM18 2h1v1h-1zM20 2h1v1h-1zM22 2h1v1h-1zM25 2h1v1h-1zM27 2h1v1h-1zM31 2h1v1h-1zM35 2h2v1h-2zM45 2h1v1h-1zM51 2h1v1h-1zM54 2h2v1h-2zM57 2h1v1h-1zM63 2h2v1h-2zM66 2h1v1h-1zM69 2h2v1h-2zM72 2h2v1h-2zM0 3h1v1h-1zM6 3h2v1h-2zM9 3h3v1h-3zM15 3h1v1h-1zM18 3h1v1h-1zM20 3h1v1h-1zM22 3h1v1h-1zM25 3h1v1h-1zM29 3h7v1h-7zM37 3h3v1h-3zM43 3h3v1h-3zM48 3h2v1h-2zM56 3h1v1h-1zM61 3h1v1h-1zM63 3h2v1h-2zM69 3h1v1h-1zM71 3h1v1h-1zM73 3h3v1h-3zM0 4h2v1h-2zM4 4h1v1h-1zM8 4h4v1h-4zM14 4h1v1h-1zM23 4h1v1h-1zM27 4h1v1h-1zM29 4h6v1h-6zM36 4h1v1h-1zM39 4h4v1h-4zM44 4h1v1h-1zM48 4h1v1h-1zM51 4h1v1h-1zM59 4h1v1h-1zM61 4h1v1h-1zM66 4h1v1h-1zM72 4h1v1h-1zM3 5h3v1h-3zM8 5h1v1h-1zM11 5h2v1h-2zM14 5h3v1h-3zM19 5h1v1h-1zM22 5h2v1h-2zM27 5h3v1h-3zM31 5h1v1h-1zM34 5h3v1h-3zM39 5h1v1h-1zM42 5h1v1h-1zM44 5h4v1h-4zM50 5h2v1h-2zM53 5h1v1h-1zM59 5h1v1h-1zM61 5h1v1h-1zM65 5h2v1h-2zM70 5h2v1h-2zM73 5h3v1h-3zM2 6h3v1h-3zM9 6h1v1h-1zM15 6h2v1h-2zM18 6h1v1h-1zM23 6h2v1h-2zM26 6h1v1h-1zM28 6h1v1h-1zM31 6h1v1h-1zM33 6h1v1h-1zM36 6h2v1h-2zM42 6h1v1h-1zM44 6h1v1h-1zM46 6h1v1h-1zM50 6h3v1h-3zM56 6h4v1h-4zM64 6h3v1h-3zM69 6h1v1h-1zM75 6h1v1h-1zM4 7h1v1h-1zM7 7h1v1h-1zM9 7h1v1h-1zM12 7h2v1h-2zM18 7h3v1h-3zM24 7h2v1h-2zM27 7h1v1h-1zM34 7h4v1h-4zM42 7h4v1h-4zM50 7h1v1h-1zM55 7h1v1h-1zM62 7h1v1h-1zM66 7h1v1h-1zM69 7h1v1h-1zM71 7h2v1h-2zM2 8h1v1h-1zM4 8h2v1h-2zM7 8h1v1h-1zM9 8h1v1h-1zM12 8h1v1h-1zM14 8h3v1h-3zM19 8h1v1h-1zM26 8h1v1h-1zM29 8h1v1h-1zM34 8h1v1h-1zM42 8h2v1h-2zM47 8h1v1h-1zM53 8h2v1h-2zM58 8h1v1h-1zM62 8h1v1h-1zM64 8h1v1h-1zM67 8h3v1h-3zM72 8h1v1h-1zM75 8h1v1h-1zM0 9h1v1h-1zM3 9h3v1h-3zM8 9h2v1h-2zM13 9h1v1h-1zM22 9h2v1h-2zM25 9h1v1h-1zM29 9h2v1h-2zM32 9h1v1h-1zM43 9h1v1h-1zM54 9h1v1h-1zM70 9h1v1h-1zM73 9h3v1h-3zM0 10h1v1h-1zM3 10h2v1h-2zM9 10h2v1h-2zM21 10h4v1h-4zM27 10h2v1h-2zM30 10h3v1h-3zM36 10h1v1h-1zM40 10h2v1h-2zM43 10h5v1h-5zM55 10h1v1h-1zM61 10h1v1h-1zM63 10h1v1h-1zM69 10h1v1h-1zM73 10h1v1h-1zM75 10h1v1h-1zM0 11h2v1h-2zM9 11h1v1h-1zM11 11h1v1h-1zM19 11h1v1h-1zM28 11h1v1h-1zM32 11h1v1h-1zM36 11h3v1h-3zM40 11h1v1h-1zM43 11h3v1h-3zM48 11h1v1h-1zM55 11h1v1h-1zM62 11h1v1h-1zM65 11h5v1h-5zM1 12h2v1h-2zM5 12h2v1h-2zM13 12h1v1h-1zM18 12h1v1h-1zM20 12h1v1h-1zM28 12h2v1h-2zM36 12h2v1h-2zM40 12h1v1h-1zM42 12h3v1h-3zM46 12h1v1h-1zM48 12h2v1h-2zM54 12h1v1h-1zM57 12h1v1h-1zM60 12h1v1h-1zM62 12h5v1h-5zM69 12h2v1h-2zM1 13h2v1h-2zM8 13h1v1h-1zM10 13h2v1h-2zM13 13h1v1h-1zM15 13h1v1h-1zM18 13h3v1h-3zM27 13h1v1h-1zM32 13h3v1h-3zM36 13h3v1h-3zM46 13h1v1h-1zM51 13h5v1h-5zM61 13h1v1h-1zM64 13h1v1h-1zM70 13h1v1h-1zM75 13h1v1h-1zM2 14h1v1h-1zM4 14h2v1h-2zM7 14h3v1h-3zM11 14h2v1h-2zM16 14h1v1h-1zM18 14h1v1h-1zM32 14h3v1h-3zM40 14h1v1h-1zM42 14h2v1h-2zM50 14h3v1h-3zM57 14h1v1h-1zM59 14h1v1h-1zM61 14h1v1h-1zM67 14h2v1h-2zM70 14h1v1h-1zM2 15h1v1h-1zM4 15h1v1h-1zM6 15h4v1h-4zM14 15h1v1h-1zM19 15h1v1h-1zM22 15h1v1h-1zM24 15h1v1h-1zM28 15h1v1h-1zM35 15h2v1h-2zM42 15h1v1h-1zM44 15h1v1h-1zM46 15h1v1h-1zM54 15h2v1h-2zM57 15h1v1h-1zM66 15h4v1h-4zM71 15h1v1h-1zM75 15h1v1h-1zM2 16h1v1h-1zM4 16h1v1h-1zM8 16h1v1h-1zM12 16h5v1h-5zM18 16h1v1h-1zM27 16h3v1h-3zM36 16h1v1h-1zM43 16h2v1h-2zM46 16h2v1h-2zM55 16h2v1h-2zM58 16h1v1h-1zM62 16h4v1h-4zM68 16h1v1h-1zM75 16h1v1h-1zM3 17h1v1h-1zM5 17h1v1h-1zM8 17h2v1h-2zM12 17h1v1h-1zM24 17h2v1h-2zM34 17h3v1h-3zM41 17h1v1h-1zM43 17h1v1h-1zM46 17h2v1h-2zM49 17h3v1h-3zM58 17h1v1h-1zM63 17h1v1h-1zM71 17h3v1h-3zM75 17h1v1h-1zM2 18h2v1h-2zM5 18h3v1h-3zM10 18h6v1h-6zM17 18h2v1h-2zM20 18h1v1h-1zM23 18h1v1h-1zM25 18h3v1h-3zM34 18h1v1h-1zM41 18h1v1h-1zM44 18h3v1h-3zM48 18h2v1h-2zM52 18h1v1h-1zM54 18h1v1h-1zM59 18h1v1h-1zM65 18h3v1h-3zM71 18h1v1h-1zM1 19h4v1h-4zM6 19h1v1h-1zM14 19h2v1h-2zM19 19h1v1h-1zM23 19h1v1h-1zM28 19h2v1h-2zM36 19h2v1h-2zM39 19h1v1h-1zM42 19h1v1h-1zM46 19h1v1h-1zM51 19h1v1h-1zM53 19h2v1h-2zM56 19h1v1h-1zM65 19h2v1h-2zM68 19h1v1h-1zM72 19h3v1h-3zM2 20h1v1h-1zM6 20h1v1h-1zM8 20h2v1h-2zM18 20h1v1h-1zM27 20h3v1h-3zM32 20h3v1h-3zM42 20h3v1h-3zM47 20h1v1h-1zM53 20h1v1h-1zM59 20h1v1h-1zM61 20h1v1h-1zM65 20h4v1h-4zM72 20h2v1h-2zM75 20h1v1h-1zM2 21h1v1h-1zM8 21h1v1h-1zM12 21h2v1h-2zM21 21h2v1h-2zM27 21h1v1h-1zM32 21h1v1h-1zM35 21h1v1h-1zM39 21h1v1h-1zM43 21h1v1h-1zM51 21h1v1h-1zM53 21h1v1h-1zM56 21h2v1h-2zM61 21h1v1h-1zM71 21h1v1h-1zM73 21h1v1h-1zM75 21h1v1h-1zM1 22h3v1h-3zM8 22h3v1h-3zM12 22h2v1h-2zM16 22h1v1h-1zM18 22h1v1h-1zM20 22h1v1h-1zM23 22h1v1h-1zM26 22h1v1h-1zM30 22h2v1h-2zM33 22h2v1h-2zM36 22h1v1h-1zM41 22h2v1h-2zM47 22h1v1h-1zM50 22h1v1h-1zM55 22h1v1h-1zM57 22h1v1h-1zM59 22h2v1h-2zM62 22h1v1h-1zM68 22h5v1h-5zM75 22h1v1h-1zM10 23h1v1h-1zM13 23h1v1h-1zM15 23h1v1h-1zM17 23h1v1h-1zM23 23h4v1h-4zM28 23h2v1h-2zM32 23h1v1h-1zM34 23h1v1h-1zM36 23h1v1h-1zM38 23h2v1h-2zM41 23h3v1h-3zM47 23h2v1h-2zM50 23h2v1h-2zM54 23h3v1h-3zM68 23h2v1h-2zM71 23h1v1h-1zM73 23h2v1h-2zM0 24h1v1h-1zM9 24h1v1h-1zM12 24h2v1h-2zM18 24h2v1h-2zM21 24h1v1h-1zM24 24h4v1h-4zM30 24h3v1h-3zM39 24h2v1h-2zM43 24h4v1h-4zM49 24h1v1h-1zM52 24h1v1h-1zM57 24h1v1h-1zM59 24h2v1h-2zM65 24h3v1h-3zM69 24h1v1h-1zM73 24h2v1h-2zM0 25h1v1h-1zM4 25h1v1h-1zM7 25h1v1h-1zM9 25h1v1h-1zM15 25h4v1h-4zM27 25h2v1h-2zM30 25h1v1h-1zM32 25h1v1h-1zM34 25h1v1h-1zM37 25h1v1h-1zM40 25h1v1h-1zM46 25h2v1h-2zM53 25h2v1h-2zM56 25h3v1h-3zM60 25h2v1h-2zM65 25h1v1h-1zM67 25h6v1h-6zM74 25h1v1h-1zM5 26h1v1h-1zM8 26h2v1h-2zM11 26h1v1h-1zM15 26h2v1h-2zM24 26h1v1h-1zM30 26h1v1h-1zM32 26h1v1h-1zM34 26h1v1h-1zM38 26h3v1h-3zM48 26h4v1h-4zM53 26h2v1h-2zM58 26h1v1h-1zM63 26h1v1h-1zM67 26h1v1h-1zM69 26h2v1h-2zM72 26h2v1h-2zM2 27h1v1h-1zM4 27h3v1h-3zM13 27h1v1h-1zM15 27h2v1h-2zM30 27h6v1h-6zM37 27h3v1h-3zM43 27h1v1h-1zM48 27h2v1h-2zM53 27h1v1h-1zM56 27h5v1h-5zM64 27h1v1h-1zM68 27h2v1h-2zM72 27h1v1h-1zM1 28h1v1h-1zM3 28h2v1h-2zM7 28h1v1h-1zM12 28h3v1h-3zM19 28h1v1h-1zM21 28h1v1h-1zM32 28h4v1h-4zM45 28h1v1h-1zM51 28h2v1h-2zM55 28h2v1h-2zM62 28h2v1h-2zM65 28h1v1h-1zM67 28h4v1h-4zM72 28h1v1h-1zM74 28h1v1h-1zM0 29h2v1h-2zM3 29h5v1h-5zM11 29h2v1h-2zM18 29h1v1h-1zM21 29h1v1h-1zM25 29h1v1h-1zM32 29h1v1h-1zM47 29h2v1h-2zM51 29h1v1h-1zM54 29h4v1h-4zM59 29h2v1h-2zM65 29h1v1h-1zM67 29h1v1h-1zM71 29h1v1h-1zM74 29h2v1h-2zM4 30h2v1h-2zM7 30h5v1h-5zM13 30h1v1h-1zM17 30h1v1h-1zM21 30h1v1h-1zM29 30h1v1h-1zM45 30h3v1h-3zM49 30h5v1h-5zM62 30h2v1h-2zM66 30h1v1h-1zM68 30h1v1h-1zM0 31h1v1h-1zM2 31h3v1h-3zM6 31h3v1h-3zM13 31h1v1h-1zM16 31h2v1h-2zM20 31h4v1h-4zM25 31h1v1h-1zM27 31h1v1h-1zM29 31h1v1h-1zM46 31h2v1h-2zM49 31h1v1h-1zM55 31h2v1h-2zM63 31h1v1h-1zM65 31h1v1h-1zM70 31h2v1h-2zM0 32h2v1h-2zM4 32h2v1h-2zM9 32h4v1h-4zM15 32h2v1h-2zM20 32h1v1h-1zM22 32h2v1h-2zM25 32h1v1h-1zM47 32h1v1h-1zM56 32h2v1h-2zM63 32h1v1h-1zM66 32h1v1h-1zM69 32h3v1h-3zM0 33h1v1h-1zM2 33h1v1h-1zM9 33h2v1h-2zM12 33h1v1h-1zM20 33h3v1h-3zM25 33h4v1h-4zM47 33h1v1h-1zM59 33h3v1h-3zM63 33h2v1h-2zM66 33h1v1h-1zM68 33h1v1h-1zM70 33h1v1h-1zM74 33h1v1h-1zM0 34h3v1h-3zM7 34h3v1h-3zM12 34h1v1h-1zM15 34h2v1h-2zM20 34h2v1h-2zM23 34h1v1h-1zM28 34h1v1h-1zM48 34h1v1h-1zM53 34h2v1h-2zM56 34h1v1h-1zM58 34h5v1h-5zM68 34h2v1h-2zM71 34h1v1h-1zM73 34h3v1h-3zM0 35h2v1h-2zM4 35h2v1h-2zM7 35h1v1h-1zM9 35h2v1h-2zM15 35h2v1h-2zM21 35h3v1h-3zM27 35h1v1h-1zM48 35h4v1h-4zM60 35h2v1h-2zM68 35h4v1h-4zM75 35h1v1h-1zM0 36h2v1h-2zM3 36h1v1h-1zM8 36h6v1h-6zM16 36h1v1h-1zM21 36h7v1h-7zM48 36h1v1h-1zM51 36h1v1h-1zM54 36h1v1h-1zM57 36h1v1h-1zM60 36h2v1h-2zM71 36h2v1h-2zM16 37h1v1h-1zM19 37h3v1h-3zM24 37h1v1h-1zM48 37h3v1h-3zM54 37h1v1h-1zM57 37h2v1h-2zM60 37h1v1h-1zM63 37h2v1h-2zM67 37h1v1h-1zM71 37h1v1h-1zM75 37h1v1h-1zM1 38h1v1h-1zM4 38h1v1h-1zM6 38h1v1h-1zM17 38h1v1h-1zM20 38h2v1h-2zM25 38h1v1h-1zM27 38h1v1h-1zM52 38h3v1h-3zM62 38h4v1h-4zM68 38h1v1h-1zM71 38h2v1h-2zM1 39h1v1h-1zM5 39h1v1h-1zM8 39h2v1h-2zM17 39h3v1h-3zM47 39h1v1h-1zM50 39h4v1h-4zM56 39h1v1h-1zM63 39h1v1h-1zM69 39h1v1h-1zM71 39h2v1h-2zM7 40h3v1h-3zM12 40h1v1h-1zM15 40h1v1h-1zM18 40h1v1h-1zM20 40h1v1h-1zM26 40h1v1h-1zM47 40h1v1h-1zM50 40h1v1h-1zM52 40h1v1h-1zM56 40h1v1h-1zM59 40h1v1h-1zM63 40h1v1h-1zM66 40h5v1h-5zM75 40h1v1h-1zM4 41h2v1h-2zM8 41h1v1h-1zM12 41h3v1h-3zM16 41h3v1h-3zM20 41h2v1h-2zM28 41h1v1h-1zM47 41h2v1h-2zM52 41h3v1h-3zM59 41h1v1h-1zM62 41h1v1h-1zM66 41h6v1h-6zM73 41h3v1h-3zM2 42h1v1h-1zM6 42h2v1h-2zM17 42h1v1h-1zM19 42h2v1h-2zM22 42h1v1h-1zM26 42h1v1h-1zM28 42h1v1h-1zM49 42h1v1h-1zM54 42h1v1h-1zM62 42h6v1h-6zM71 42h1v1h-1zM7 43h1v1h-1zM11 43h1v1h-1zM17 43h2v1h-2zM22 43h3v1h-3zM46 43h1v1h-1zM48 43h6v1h-6zM55 43h2v1h-2zM58 43h1v1h-1zM61 43h2v1h-2zM67 43h1v1h-1zM0 44h2v1h-2zM4 44h1v1h-1zM7 44h1v1h-1zM9 44h3v1h-3zM14 44h1v1h-1zM16 44h1v1h-1zM19 44h1v1h-1zM23 44h2v1h-2zM26 44h1v1h-1zM30 44h1v1h-1zM46 44h1v1h-1zM48 44h2v1h-2zM53 44h1v1h-1zM57 44h2v1h-2zM60 44h2v1h-2zM63 44h1v1h-1zM65 44h1v1h-1zM67 44h1v1h-1zM73 44h3v1h-3zM1 45h3v1h-3zM6 45h1v1h-1zM8 45h1v1h-1zM11 45h2v1h-2zM15 45h2v1h-2zM19 45h2v1h-2zM23 45h2v1h-2zM30 45h1v1h-1zM47 45h1v1h-1zM49 45h1v1h-1zM52 45h1v1h-1zM57 45h3v1h-3zM61 45h1v1h-1zM63 45h1v1h-1zM67 45h1v1h-1zM75 45h1v1h-1zM3 46h1v1h-1zM7 46h1v1h-1zM9 46h1v1h-1zM13 46h1v1h-1zM15 46h1v1h-1zM17 46h2v1h-2zM26 46h1v1h-1zM31 46h1v1h-1zM44 46h1v1h-1zM50 46h2v1h-2zM53 46h2v1h-2zM57 46h2v1h-2zM67 46h2v1h-2zM73 46h1v1h-1zM1 47h1v1h-1zM3 47h2v1h-2zM7 47h1v1h-1zM18 47h1v1h-1zM22 47h1v1h-1zM27 47h1v1h-1zM32 47h2v1h-2zM40 47h1v1h-1zM43 47h1v1h-1zM46 47h2v1h-2zM50 47h1v1h-1zM55 47h4v1h-4zM63 47h1v1h-1zM68 47h1v1h-1zM70 47h4v1h-4zM1 48h2v1h-2zM4 48h1v1h-1zM6 48h1v1h-1zM10 48h2v1h-2zM16 48h1v1h-1zM18 48h1v1h-1zM20 48h3v1h-3zM25 48h1v1h-1zM30 48h3v1h-3zM36 48h5v1h-5zM46 48h1v1h-1zM48 48h3v1h-3zM53 48h1v1h-1zM57 48h1v1h-1zM64 48h2v1h-2zM68 48h1v1h-1zM73 48h3v1h-3zM0 49h2v1h-2zM4 49h1v1h-1zM6 49h3v1h-3zM12 49h2v1h-2zM16 49h1v1h-1zM20 49h2v1h-2zM24 49h2v1h-2zM32 49h1v1h-1zM35 49h2v1h-2zM39 49h2v1h-2zM44 49h1v1h-1zM46 49h4v1h-4zM52 49h1v1h-1zM57 49h2v1h-2zM63 49h2v1h-2zM69 49h1v1h-1zM71 49h4v1h-4zM2 50h2v1h-2zM7 50h3v1h-3zM11 50h3v1h-3zM15 50h1v1h-1zM18 50h1v1h-1zM23 50h1v1h-1zM25 50h1v1h-1zM32 50h1v1h-1zM35 50h5v1h-5zM45 50h1v1h-1zM47 50h1v1h-1zM49 50h1v1h-1zM55 50h2v1h-2zM60 50h1v1h-1zM68 50h1v1h-1zM71 50h1v1h-1zM73 50h1v1h-1zM1 51h1v1h-1zM6 51h1v1h-1zM9 51h4v1h-4zM15 51h1v1h-1zM17 51h1v1h-1zM28 51h3v1h-3zM35 51h1v1h-1zM40 51h1v1h-1zM46 51h3v1h-3zM55 51h2v1h-2zM61 51h2v1h-2zM64 51h2v1h-2zM68 51h1v1h-1zM73 51h2v1h-2zM2 52h1v1h-1zM7 52h1v1h-1zM10 52h2v1h-2zM16 52h2v1h-2zM22 52h1v1h-1zM30 52h1v1h-1zM40 52h1v1h-1zM47 52h1v1h-1zM49 52h1v1h-1zM58 52h1v1h-1zM65 52h3v1h-3zM73 52h2v1h-2zM2 53h1v1h-1zM6 53h2v1h-2zM9 53h1v1h-1zM12 53h2v1h-2zM16 53h1v1h-1zM21 53h1v1h-1zM24 53h1v1h-1zM27 53h1v1h-1zM30 53h1v1h-1zM36 53h1v1h-1zM38 53h1v1h-1zM40 53h1v1h-1zM46 53h1v1h-1zM49 53h2v1h-2zM57 53h1v1h-1zM61 53h1v1h-1zM64 53h1v1h-1zM70 53h3v1h-3zM2 54h6v1h-6zM12 54h2v1h-2zM18 54h1v1h-1zM24 54h2v1h-2zM28 54h1v1h-1zM31 54h1v1h-1zM33 54h1v1h-1zM37 54h1v1h-1zM41 54h3v1h-3zM47 54h1v1h-1zM55 54h1v1h-1zM58 54h1v1h-1zM64 54h3v1h-3zM68 54h3v1h-3zM0 55h2v1h-2zM5 55h1v1h-1zM11 55h2v1h-2zM16 55h2v1h-2zM26 55h2v1h-2zM30 55h1v1h-1zM35 55h6v1h-6zM44 55h1v1h-1zM46 55h2v1h-2zM50 55h2v1h-2zM55 55h1v1h-1zM57 55h2v1h-2zM68 55h1v1h-1zM73 55h1v1h-1zM1 56h1v1h-1zM8 56h6v1h-6zM15 56h2v1h-2zM25 56h2v1h-2zM31 56h2v1h-2zM37 56h2v1h-2zM44 56h1v1h-1zM46 56h3v1h-3zM50 56h1v1h-1zM58 56h1v1h-1zM62 56h1v1h-1zM65 56h2v1h-2zM70 56h1v1h-1zM72 56h2v1h-2zM0 57h1v1h-1zM6 57h2v1h-2zM11 57h1v1h-1zM14 57h1v1h-1zM18 57h1v1h-1zM22 57h1v1h-1zM27 57h2v1h-2zM30 57h1v1h-1zM32 57h1v1h-1zM35 57h2v1h-2zM39 57h1v1h-1zM43 57h3v1h-3zM47 57h1v1h-1zM49 57h3v1h-3zM56 57h3v1h-3zM66 57h1v1h-1zM71 57h4v1h-4zM4 58h1v1h-1zM6 58h1v1h-1zM12 58h7v1h-7zM32 58h1v1h-1zM42 58h1v1h-1zM46 58h1v1h-1zM50 58h1v1h-1zM52 58h1v1h-1zM55 58h1v1h-1zM57 58h1v1h-1zM61 58h2v1h-2zM64 58h1v1h-1zM70 58h1v1h-1zM74 58h1v1h-1zM0 59h2v1h-2zM4 59h2v1h-2zM7 59h1v1h-1zM13 59h1v1h-1zM16 59h3v1h-3zM22 59h1v1h-1zM29 59h3v1h-3zM37 59h1v1h-1zM43 59h1v1h-1zM46 59h1v1h-1zM48 59h1v1h-1zM51 59h1v1h-1zM56 59h1v1h-1zM61 59h1v1h-1zM64 59h2v1h-2zM72 59h1v1h-1zM7 60h1v1h-1zM9 60h1v1h-1zM13 60h3v1h-3zM17 60h1v1h-1zM20 60h1v1h-1zM22 60h1v1h-1zM30 60h1v1h-1zM36 60h1v1h-1zM41 60h3v1h-3zM46 60h2v1h-2zM56 60h1v1h-1zM65 60h1v1h-1zM68 60h1v1h-1zM5 61h1v1h-1zM8 61h2v1h-2zM11 61h2v1h-2zM17 61h1v1h-1zM19 61h1v1h-1zM21 61h1v1h-1zM25 61h4v1h-4zM32 61h1v1h-1zM35 61h4v1h-4zM40 61h2v1h-2zM45 61h1v1h-1zM63 61h3v1h-3zM67 61h2v1h-2zM73 61h1v1h-1zM1 62h1v1h-1zM3 62h3v1h-3zM9 62h2v1h-2zM12 62h1v1h-1zM14 62h3v1h-3zM20 62h1v1h-1zM26 62h1v1h-1zM29 62h1v1h-1zM35 62h2v1h-2zM41 62h1v1h-1zM47 62h1v1h-1zM53 62h1v1h-1zM58 62h1v1h-1zM62 62h1v1h-1zM65 62h2v1h-2zM68 62h1v1h-1zM73 62h1v1h-1zM1 63h1v1h-1zM4 63h1v1h-1zM10 63h1v1h-1zM12 63h5v1h-5zM18 63h1v1h-1zM21 63h1v1h-1zM23 63h4v1h-4zM28 63h2v1h-2zM45 63h1v1h-1zM52 63h2v1h-2zM57 63h3v1h-3zM61 63h2v1h-2zM64 63h2v1h-2zM68 63h1v1h-1zM71 63h4v1h-4zM2 64h3v1h-3zM10 64h1v1h-1zM15 64h1v1h-1zM21 64h2v1h-2zM24 64h1v1h-1zM26 64h1v1h-1zM28 64h2v1h-2zM31 64h3v1h-3zM40 64h2v1h-2zM43 64h2v1h-2zM46 64h3v1h-3zM52 64h2v1h-2zM55 64h1v1h-1zM57 64h1v1h-1zM60 64h2v1h-2zM63 64h1v1h-1zM69 64h3v1h-3zM15 65h2v1h-2zM19 65h1v1h-1zM21 65h2v1h-2zM29 65h2v1h-2zM38 65h1v1h-1zM40 65h1v1h-1zM43 65h1v1h-1zM49 65h3v1h-3zM54 65h1v1h-1zM57 65h2v1h-2zM60 65h1v1h-1zM62 65h2v1h-2zM66 65h1v1h-1zM71 65h1v1h-1zM73 65h3v1h-3zM4 66h1v1h-1zM9 66h2v1h-2zM16 66h1v1h-1zM18 66h2v1h-2zM24 66h1v1h-1zM26 66h1v1h-1zM30 66h1v1h-1zM33 66h1v1h-1zM40 66h1v1h-1zM44 66h1v1h-1zM46 66h1v1h-1zM49 66h1v1h-1zM51 66h1v1h-1zM53 66h2v1h-2zM57 66h1v1h-1zM65 66h2v1h-2zM73 66h2v1h-2zM4 67h1v1h-1zM6 67h8v1h-8zM15 67h3v1h-3zM22 67h2v1h-2zM27 67h1v1h-1zM30 67h1v1h-1zM32 67h2v1h-2zM40 67h2v1h-2zM52 67h2v1h-2zM55 67h4v1h-4zM61 67h1v1h-1zM63 67h2v1h-2zM68 67h2v1h-2zM73 67h3v1h-3zM4 68h1v1h-1zM11 68h1v1h-1zM15 68h1v1h-1zM17 68h1v1h-1zM19 68h2v1h-2zM22 68h2v1h-2zM25 68h2v1h-2zM30 68h1v1h-1zM33 68h1v1h-1zM35 68h2v1h-2zM52 68h1v1h-1zM55 68h1v1h-1zM57 68h2v1h-2zM73 68h1v1h-1zM0 69h1v1h-1zM8 69h2v1h-2zM15 69h3v1h-3zM23 69h2v1h-2zM29 69h1v1h-1zM44 69h1v1h-1zM47 69h3v1h-3zM51 69h4v1h-4zM56 69h1v1h-1zM65 69h1v1h-1zM69 69h1v1h-1zM71 69h1v1h-1zM75 69h1v1h-1zM6 70h2v1h-2zM9 70h2v1h-2zM13 70h1v1h-1zM15 70h2v1h-2zM23 70h1v1h-1zM40 70h1v1h-1zM46 70h2v1h-2zM54 70h1v1h-1zM56 70h4v1h-4zM61 70h5v1h-5zM67 70h1v1h-1zM71 70h1v1h-1zM1 71h2v1h-2zM4 71h2v1h-2zM7 71h2v1h-2zM12 71h1v1h-1zM14 71h1v1h-1zM17 71h2v1h-2zM20 71h4v1h-4zM27 71h1v1h-1zM30 71h4v1h-4zM36 71h1v1h-1zM40 71h1v1h-1zM48 71h2v1h-2zM54 71h1v1h-1zM57 71h1v1h-1zM59 71h1v1h-1zM62 71h1v1h-1zM67 71h1v1h-1zM75 71h1v1h-1zM0 72h1v1h-1zM4 72h1v1h-1zM6 72h2v1h-2zM9 72h1v1h-1zM11 72h2v1h-2zM16 72h2v1h-2zM20 72h1v1h-1zM22 72h1v1h-1zM24 72h1v1h-1zM27 72h1v1h-1zM30 72h2v1h-2zM38 72h1v1h-1zM44 72h2v1h-2zM49 72h1v1h-1zM52 72h2v1h-2zM61 72h2v1h-2zM67 72h1v1h-1zM71 72h1v1h-1zM1 73h1v1h-1zM5 73h3v1h-3zM9 73h2v1h-2zM12 73h3v1h-3zM16 73h2v1h-2zM21 73h1v1h-1zM23 73h4v1h-4zM28 73h1v1h-1zM31 73h3v1h-3zM38 73h1v1h-1zM43 73h1v1h-1zM45 73h1v1h-1zM54 73h2v1h-2zM58 73h2v1h-2zM61 73h1v1h-1zM64 73h1v1h-1zM69 73h1v1h-1zM71 73h1v1h-1zM75 73h1v1h-1zM4 74h1v1h-1zM15 74h1v1h-1zM17 74h1v1h-1zM20 74h1v1h-1zM23 74h1v1h-1zM25 74h2v1h-2zM30 74h1v1h-1zM35 74h1v1h-1zM40 74h3v1h-3zM50 74h1v1h-1zM57 74h1v1h-1zM66 74h1v1h-1zM70 74h2v1h-2zM0 75h1v1h-1zM5 75h1v1h-1zM10 75h2v1h-2zM15 75h1v1h-1zM18 75h1v1h-1zM22 75h1v1h-1zM25 75h1v1h-1zM28 75h2v1h-2zM31 75h1v1h-1zM34 75h1v1h-1zM38 75h2v1h-2zM42 75h1v1h-1zM45 75h1v1h-1zM51 75h2v1h-2zM54 75h1v1h-1zM60 75h1v1h-1zM62 75h3v1h-3zM67 75h1v1h-1zM74 75h2v1h-2z"/>
<path fill="#170000" d="M2 0h1v1h-1zM29 0h2v1h-2zM32 0h1v1h-1zM57 0h1v1h-1zM62 0h1v1h-1zM72 0h1v1h-1zM6 1h1v1h-1zM14 1h1v1h-1zM16 1h1v1h-1zM25 1h1v1h-1zM29 1h1v1h-1zM31 1h1v1h-1zM57 1h1v1h-1zM63 1h1v1h-1zM5 2h1v1h-1zM15 2h1v1h-1zM24 2h1v1h-1zM28 2h1v1h-1zM37 2h2v1h-2zM59 2h1v1h-1zM74 2h1v1h-1zM4 3h1v1h-1zM14 3h1v1h-1zM19 3h1v1h-1zM24 3h1v1h-1zM26 3h1v1h-1zM28 3h1v1h-1zM72 3h1v1h-1zM3 4h1v1h-1zM15 4h1v1h-1zM19 4h1v1h-1zM28 4h1v1h-1zM35 4h1v1h-1zM45 4h1v1h-1zM47 4h1v1h-1zM60 4h1v1h-1zM69 4h1v1h-1zM74 4h1v1h-1zM32 5h1v1h-1zM69 5h1v1h-1zM72 5h1v1h-1zM5 6h1v1h-1zM17 6h1v1h-1zM43 6h1v1h-1zM47 6h1v1h-1zM55 6h1v1h-1zM61 6h1v1h-1zM17 7h1v1h-1zM22 7h2v1h-2zM26 7h1v1h-1zM32 7h1v1h-1zM46 7h2v1h-2zM57 7h1v1h-1zM63 7h1v1h-1zM70 7h1v1h-1zM73 7h1v1h-1zM13 8h1v1h-1zM17 8h2v1h-2zM22 8h1v1h-1zM73 8h1v1h-1zM17 9h1v1h-1zM31 9h1v1h-1zM57 9h1v1h-1zM62 9h2v1h-2zM67 9h1v1h-1zM29 10h1v1h-1zM53 10h1v1h-1zM66 10h2v1h-2zM18 11h1v1h-1zM26 11h1v1h-1zM61 11h1v1h-1zM9 12h1v1h-1zM11 12h2v1h-2zM38 12h1v1h-1zM61 12h1v1h-1zM5 13h1v1h-1zM12 13h1v1h-1zM24 13h1v1h-1zM40 13h1v1h-1zM44 13h1v1h-1zM63 13h1v1h-1zM69 13h1v1h-1zM72 13h1v1h-1zM6 14h1v1h-1zM19 14h1v1h-1zM21 14h1v1h-1zM54 14h2v1h-2zM58 14h1v1h-1zM75 14h1v1h-1zM15 15h1v1h-1zM18 15h1v1h-1zM45 15h1v1h-1zM63 15h1v1h-1zM73 16h2v1h-2zM11 17h1v1h-1zM13 17h1v1h-1zM64 17h2v1h-2zM19 18h1v1h-1zM36 18h1v1h-1zM47 18h1v1h-1zM50 18h2v1h-2zM56 18h1v1h-1zM64 18h1v1h-1zM72 18h1v1h-1zM75 18h1v1h-1zM5 19h1v1h-1zM9 19h1v1h-1zM24 19h1v1h-1zM48 19h1v1h-1zM50 19h1v1h-1zM67 19h1v1h-1zM74 20h1v1h-1zM0 21h1v1h-1zM3 21h1v1h-1zM10 21h1v1h-1zM33 21h1v1h-1zM52 21h1v1h-1zM58 21h1v1h-1zM68 21h1v1h-1zM72 21h1v1h-1zM22 22h1v1h-1zM35 22h1v1h-1zM54 22h1v1h-1zM58 22h1v1h-1zM67 22h1v1h-1zM11 23h1v1h-1zM14 23h1v1h-1zM21 23h2v1h-2zM31 23h1v1h-1zM33 23h1v1h-1zM15 24h1v1h-1zM34 24h1v1h-1zM38 24h1v1h-1zM41 24h1v1h-1zM62 24h1v1h-1zM70 24h1v1h-1zM45 25h1v1h-1zM50 25h1v1h-1zM52 25h1v1h-1zM66 25h1v1h-1zM4 26h1v1h-1zM12 26h1v1h-1zM31 26h1v1h-1zM33 26h1v1h-1zM52 26h1v1h-1zM23 27h1v1h-1zM63 27h1v1h-1zM70 27h1v1h-1zM8 28h2v1h-2zM58 28h1v1h-1zM60 28h2v1h-2zM71 28h1v1h-1zM75 28h1v1h-1zM9 29h1v1h-1zM53 29h1v1h-1zM61 29h1v1h-1zM20 30h1v1h-1zM44 30h1v1h-1zM65 30h1v1h-1zM24 31h1v1h-1zM30 31h1v1h-1zM54 31h1v1h-1zM66 31h1v1h-1zM69 31h1v1h-1zM21 32h1v1h-1zM73 32h1v1h-1zM69 33h1v1h-1zM71 33h1v1h-1zM67 35h1v1h-1zM72 35h1v1h-1zM18 37h1v1h-1zM25 37h1v1h-1zM18 38h1v1h-1zM50 38h1v1h-1zM67 38h1v1h-1zM75 39h1v1h-1zM1 40h2v1h-2zM6 40h1v1h-1zM53 40h1v1h-1zM60 40h1v1h-1zM64 40h1v1h-1zM74 40h1v1h-1zM65 41h1v1h-1zM46 42h1v1h-1zM50 42h1v1h-1zM53 42h1v1h-1zM55 42h1v1h-1zM8 43h1v1h-1zM25 43h1v1h-1zM59 43h1v1h-1zM65 43h2v1h-2zM12 44h1v1h-1zM17 44h1v1h-1zM10 45h1v1h-1zM48 45h1v1h-1zM53 45h1v1h-1zM5 46h1v1h-1zM27 46h1v1h-1zM47 46h1v1h-1zM69 46h1v1h-1zM2 47h1v1h-1zM16 47h1v1h-1zM25 47h1v1h-1zM35 47h1v1h-1zM49 47h1v1h-1zM69 47h1v1h-1zM7 48h2v1h-2zM27 48h1v1h-1zM33 48h1v1h-1zM35 48h1v1h-1zM47 48h1v1h-1zM71 48h1v1h-1zM53 49h1v1h-1zM24 50h1v1h-1zM46 50h1v1h-1zM54 50h1v1h-1zM63 50h1v1h-1zM69 50h2v1h-2zM2 51h1v1h-1zM7 51h2v1h-2zM69 51h1v1h-1zM33 52h1v1h-1zM1 53h1v1h-1zM17 53h1v1h-1zM22 53h1v1h-1zM25 53h1v1h-1zM33 53h1v1h-1zM45 53h1v1h-1zM69 53h1v1h-1zM1 54h1v1h-1zM16 54h1v1h-1zM26 54h1v1h-1zM30 54h1v1h-1zM44 54h1v1h-1zM49 54h2v1h-2zM6 55h1v1h-1zM13 55h1v1h-1zM24 55h1v1h-1zM31 55h1v1h-1zM71 55h1v1h-1zM7 56h1v1h-1zM23 56h2v1h-2zM35 56h1v1h-1zM61 56h1v1h-1zM17 57h1v1h-1zM38 57h1v1h-1zM64 57h1v1h-1zM1 58h1v1h-1zM7 58h2v1h-2zM10 58h1v1h-1zM47 58h2v1h-2zM51 58h1v1h-1zM72 58h1v1h-1zM10 59h1v1h-1zM71 59h1v1h-1zM8 60h1v1h-1zM16 60h1v1h-1zM21 60h1v1h-1zM4 61h1v1h-1zM20 61h1v1h-1zM34 61h1v1h-1zM39 61h1v1h-1zM57 61h1v1h-1zM32 62h1v1h-1zM64 62h1v1h-1zM0 63h1v1h-1zM11 63h1v1h-1zM32 63h1v1h-1zM46 63h1v1h-1zM60 63h1v1h-1zM66 63h1v1h-1zM11 64h1v1h-1zM30 64h1v1h-1zM34 64h1v1h-1zM59 64h1v1h-1zM65 64h1v1h-1zM72 64h1v1h-1zM74 64h1v1h-1zM2 65h1v1h-1zM4 65h1v1h-1zM42 65h1v1h-1zM44 65h1v1h-1zM65 65h1v1h-1zM72 65h1v1h-1zM12 66h1v1h-1zM34 66h1v1h-1zM50 66h1v1h-1zM59 66h2v1h-2zM48 67h1v1h-1zM6 68h2v1h-2zM44 68h1v1h-1zM47 68h1v1h-1zM71 68h1v1h-1zM4 69h1v1h-1zM17 70h1v1h-1zM49 70h1v1h-1zM72 70h1v1h-1zM75 70h1v1h-1zM0 71h1v1h-1zM3 71h1v1h-1zM65 71h1v1h-1zM70 71h1v1h-1zM23 72h1v1h-1zM26 72h1v1h-1zM33 72h1v1h-1zM68 72h1v1h-1zM70 72h1v1h-1zM3 73h2v1h-2zM44 73h1v1h-1zM31 74h1v1h-1zM60 74h1v1h-1zM4 75h1v1h-1zM19 75h1v1h-1zM23 75h2v1h-2zM43 75h1v1h-1zM61 75h1v1h-1zM65 75h2v1h-2z"/>
<path fill="#190000" d="M4 0h1v1h-1zM28 0h1v1h-1zM55 0h2v1h-2zM65 0h1v1h-1zM73 0h2v1h-2zM3 1h2v1h-2zM15 1h1v1h-1zM18 1h2v1h-2zM28 1h1v1h-1zM37 1h1v1h-1zM66 1h1v1h-1zM7 2h1v1h-1zM23 2h1v1h-1zM29 2h2v1h-2zM60 2h1v1h-1zM65 2h1v1h-1zM5 3h1v1h-1zM8 3h1v1h-1zM23 3h1v1h-1zM27 3h1v1h-1zM59 3h2v1h-2zM62 3h1v1h-1zM65 3h1v1h-1zM65 4h1v1h-1zM75 4h1v1h-1zM21 5h1v1h-1zM60 5h1v1h-1zM19 6h1v1h-1zM27 6h1v1h-1zM32 6h1v1h-1zM34 6h2v1h-2zM60 6h1v1h-1zM70 6h4v1h-4zM2 7h1v1h-1zM28 7h2v1h-2zM31 7h1v1h-1zM3 8h1v1h-1zM20 8h2v1h-2zM24 8h2v1h-2zM31 8h1v1h-1zM57 8h1v1h-1zM16 9h1v1h-1zM21 9h1v1h-1zM53 9h1v1h-1zM68 9h1v1h-1zM62 10h1v1h-1zM68 10h1v1h-1zM29 11h1v1h-1zM39 11h1v1h-1zM46 11h2v1h-2zM10 12h1v1h-1zM19 12h1v1h-1zM39 12h1v1h-1zM45 12h1v1h-1zM4 13h1v1h-1zM6 13h2v1h-2zM41 13h3v1h-3zM45 13h1v1h-1zM15 14h1v1h-1zM20 14h1v1h-1zM24 14h2v1h-2zM41 14h1v1h-1zM44 14h2v1h-2zM69 14h1v1h-1zM11 15h2v1h-2zM20 15h2v1h-2zM27 15h1v1h-1zM43 15h1v1h-1zM58 15h1v1h-1zM61 15h1v1h-1zM70 15h1v1h-1zM7 16h1v1h-1zM11 16h1v1h-1zM60 16h1v1h-1zM4 17h1v1h-1zM44 17h1v1h-1zM4 18h1v1h-1zM8 18h2v1h-2zM24 18h1v1h-1zM73 18h1v1h-1zM8 19h1v1h-1zM18 19h1v1h-1zM47 19h1v1h-1zM52 19h1v1h-1zM64 19h1v1h-1zM69 19h3v1h-3zM75 19h1v1h-1zM0 20h2v1h-2zM50 20h3v1h-3zM60 20h1v1h-1zM64 20h1v1h-1zM70 20h2v1h-2zM9 21h1v1h-1zM11 21h1v1h-1zM26 21h1v1h-1zM34 21h1v1h-1zM41 21h2v1h-2zM59 21h2v1h-2zM67 21h1v1h-1zM69 21h1v1h-1zM11 22h1v1h-1zM14 22h2v1h-2zM17 22h1v1h-1zM21 22h1v1h-1zM39 22h1v1h-1zM53 22h1v1h-1zM56 22h1v1h-1zM37 23h1v1h-1zM49 23h1v1h-1zM59 23h1v1h-1zM67 23h1v1h-1zM70 23h1v1h-1zM10 24h2v1h-2zM14 24h1v1h-1zM33 24h1v1h-1zM37 24h1v1h-1zM42 24h1v1h-1zM47 24h1v1h-1zM58 24h1v1h-1zM10 25h5v1h-5zM31 25h1v1h-1zM51 25h1v1h-1zM59 25h1v1h-1zM10 26h1v1h-1zM23 26h1v1h-1zM37 26h1v1h-1zM59 26h1v1h-1zM3 27h1v1h-1zM52 27h1v1h-1zM75 27h1v1h-1zM20 28h1v1h-1zM39 28h1v1h-1zM59 28h1v1h-1zM64 28h1v1h-1zM13 29h1v1h-1zM19 29h2v1h-2zM52 29h1v1h-1zM66 29h1v1h-1zM68 29h1v1h-1zM70 29h1v1h-1zM6 30h1v1h-1zM30 30h2v1h-2zM69 30h2v1h-2zM26 31h1v1h-1zM24 32h1v1h-1zM27 32h1v1h-1zM72 32h1v1h-1zM16 33h1v1h-1zM23 33h1v1h-1zM73 33h1v1h-1zM24 34h1v1h-1zM49 34h2v1h-2zM72 34h1v1h-1zM3 35h1v1h-1zM8 35h1v1h-1zM24 35h1v1h-1zM28 35h1v1h-1zM53 35h2v1h-2zM58 36h1v1h-1zM67 36h1v1h-1zM69 36h2v1h-2zM7 37h3v1h-3zM5 38h1v1h-1zM7 38h1v1h-1zM19 38h1v1h-1zM49 38h1v1h-1zM51 38h1v1h-1zM55 38h2v1h-2zM75 38h1v1h-1zM24 39h2v1h-2zM49 39h1v1h-1zM67 39h2v1h-2zM16 40h2v1h-2zM24 40h1v1h-1zM71 40h2v1h-2zM2 41h1v1h-1zM6 41h1v1h-1zM58 41h1v1h-1zM64 41h1v1h-1zM51 42h2v1h-2zM58 42h1v1h-1zM2 43h1v1h-1zM26 43h1v1h-1zM2 44h2v1h-2zM8 44h1v1h-1zM18 44h1v1h-1zM56 44h1v1h-1zM59 44h1v1h-1zM64 44h1v1h-1zM9 45h1v1h-1zM13 45h2v1h-2zM17 45h2v1h-2zM31 45h1v1h-1zM44 45h1v1h-1zM64 45h1v1h-1zM4 46h1v1h-1zM6 46h1v1h-1zM16 46h1v1h-1zM25 46h1v1h-1zM32 46h1v1h-1zM48 46h2v1h-2zM52 46h1v1h-1zM6 47h1v1h-1zM36 47h1v1h-1zM42 47h1v1h-1zM45 47h1v1h-1zM54 47h1v1h-1zM0 48h1v1h-1zM5 48h1v1h-1zM19 48h1v1h-1zM34 48h1v1h-1zM54 48h1v1h-1zM70 48h1v1h-1zM2 49h2v1h-2zM11 49h1v1h-1zM19 49h1v1h-1zM33 49h2v1h-2zM38 49h1v1h-1zM54 49h1v1h-1zM70 49h1v1h-1zM44 50h1v1h-1zM18 51h1v1h-1zM36 51h2v1h-2zM63 51h1v1h-1zM36 52h1v1h-1zM68 52h2v1h-2zM26 53h1v1h-1zM39 53h1v1h-1zM44 53h1v1h-1zM65 53h4v1h-4zM73 53h2v1h-2zM17 54h1v1h-1zM27 54h1v1h-1zM45 54h2v1h-2zM54 54h1v1h-1zM71 54h1v1h-1zM7 55h1v1h-1zM41 55h3v1h-3zM45 55h1v1h-1zM54 55h1v1h-1zM17 56h1v1h-1zM22 56h1v1h-1zM36 56h1v1h-1zM39 56h1v1h-1zM42 56h2v1h-2zM45 56h1v1h-1zM71 56h1v1h-1zM9 57h1v1h-1zM12 57h2v1h-2zM15 57h2v1h-2zM23 57h1v1h-1zM31 57h1v1h-1zM48 57h1v1h-1zM61 57h3v1h-3zM65 57h1v1h-1zM75 57h1v1h-1zM0 58h1v1h-1zM9 58h1v1h-1zM30 58h2v1h-2zM38 58h2v1h-2zM44 58h2v1h-2zM65 58h3v1h-3zM71 58h1v1h-1zM8 59h1v1h-1zM38 59h2v1h-2zM47 59h1v1h-1zM54 59h2v1h-2zM66 59h2v1h-2zM4 60h1v1h-1zM25 60h2v1h-2zM37 60h2v1h-2zM40 60h1v1h-1zM66 60h2v1h-2zM10 61h1v1h-1zM15 61h2v1h-2zM56 61h1v1h-1zM11 62h1v1h-1zM17 62h3v1h-3zM25 62h1v1h-1zM33 62h2v1h-2zM57 62h1v1h-1zM5 63h1v1h-1zM17 63h1v1h-1zM33 63h2v1h-2zM47 63h2v1h-2zM16 64h2v1h-2zM25 64h1v1h-1zM66 64h3v1h-3zM73 64h1v1h-1zM3 65h1v1h-1zM12 65h2v1h-2zM17 65h1v1h-1zM34 65h1v1h-1zM41 65h1v1h-1zM53 65h1v1h-1zM59 65h1v1h-1zM61 65h1v1h-1zM68 65h2v1h-2zM3 66h1v1h-1zM13 66h3v1h-3zM17 66h1v1h-1zM41 66h2v1h-2zM61 66h1v1h-1zM69 66h4v1h-4zM19 67h1v1h-1zM26 67h1v1h-1zM31 67h1v1h-1zM51 67h1v1h-1zM59 67h2v1h-2zM70 67h3v1h-3zM8 68h3v1h-3zM16 68h1v1h-1zM48 68h1v1h-1zM51 68h1v1h-1zM56 68h1v1h-1zM72 68h1v1h-1zM11 69h2v1h-2zM0 70h1v1h-1zM5 70h1v1h-1zM8 70h1v1h-1zM68 70h2v1h-2zM6 71h1v1h-1zM13 71h1v1h-1zM58 71h1v1h-1zM64 71h1v1h-1zM69 71h1v1h-1zM1 72h3v1h-3zM13 72h2v1h-2zM19 72h1v1h-1zM54 72h1v1h-1zM63 72h2v1h-2zM69 72h1v1h-1zM2 73h1v1h-1zM11 73h1v1h-1zM18 73h2v1h-2zM62 73h2v1h-2zM19 74h1v1h-1zM43 74h2v1h-2zM55 74h2v1h-2zM61 74h1v1h-1zM30 75h1v1h-1zM44 75h1v1h-1zM55 75h2v1h-2z"/>
<path fill="#1b0000" d="M3 0h1v1h-1zM66 0h1v1h-1zM19 2h1v1h-1zM3 7h1v1h-1zM63 8h1v1h-1zM69 9h1v1h-1zM62 15h1v1h-1zM0 19h1v1h-1zM69 20h1v1h-1zM30 23h1v1h-1zM33 25h1v1h-1zM68 26h1v1h-1zM14 27h1v1h-1zM36 28h1v1h-1zM8 29h1v1h-1zM33 29h1v1h-1zM58 29h1v1h-1zM69 29h1v1h-1zM24 33h1v1h-1zM8 38h1v1h-1zM26 38h1v1h-1zM25 40h1v1h-1zM29 42h1v1h-1zM33 46h1v1h-1zM10 57h1v1h-1zM39 60h1v1h-1zM70 65h1v1h-1zM4 70h1v1h-1zM16 71h1v1h-1zM63 71h1v1h-1zM68 71h1v1h-1zM18 72h1v1h-1zM18 74h1v1h-1z"/>
<path fill="#1d0000" d="M24 9h1v1h-1zM39 13h1v1h-1zM61 16h1v1h-1zM58 23h1v1h-1zM13 26h2v1h-2zM42 29h1v1h-1zM26 32h1v1h-1zM46 33h1v1h-1zM72 33h1v1h-1zM28 36h1v1h-1zM47 36h1v1h-1zM26 37h1v1h-1zM9 38h1v1h-1zM28 39h1v1h-1zM15 41h1v1h-1zM5 47h1v1h-1zM39 47h1v1h-1zM9 59h1v1h-1zM12 64h1v1h-1zM14 65h1v1h-1zM72 69h1v1h-1z"/>
<path fill="#1f0000" d="M42 46h1v1h-1z"/>
<path fill="#210000" d="M29 33h1v1h-1zM47 38h1v1h-1z"/>
<path fill="#230000" d="M28 37h1v1h-1zM28 38h1v1h-1z"/>
<path fill="#250000" d="M37 47h1v1h-1z"/>
<path fill="#270000" d="M37 28h2v1h-2zM47 37h1v1h-1zM38 47h1v1h-1z"/>
<path fill="#3d0000" d="M43 30h1v1h-1z"/>
<path fill="#3e0000" d="M30 32h1v1h-1zM45 32h1v1h-1z"/>
<path fill="#400000" d="M45 43h1v1h-1z"/>
<path fill="#430000" d="M32 30h1v1h-1zM43 45h1v1h-1z"/>
<path fill="#450000" d="M30 43h1v1h-1z"/>
<path fill="#470000" d="M32 45h1v1h-1z"/>
<path fill="#4a0000" d="M44 31h1v1h-1z"/>
<path fill="#4d0000" d="M31 44h1v1h-1z"/>
<path fill="#4e0000" d="M44 44h1v1h-1z"/>
<path fill="#540000" d="M31 31h1v1h-1z"/>
<path fill="#590000" d="M46 41h1v1h-1z"/>
<path fill="#5b0000" d="M34 29h1v1h-1z"/>
<path fill="#5c0000" d="M41 46h1v1h-1z"/>
<path fill="#5f0000" d="M41 29h1v1h-1zM34 46h1v1h-1z"/>
<path fill="#610000" d="M46 34h1v1h-1z"/>
<path fill="#630000" d="M29 34h1v1h-1z"/>
<path fill="#670000" d="M29 41h1v1h-1z"/>
<path fill="#d00000" d="M35 29h1v1h-1z"/>
<path fill="#d10000" d="M46 40h1v1h-1zM35 46h1v1h-1z"/>
<path fill="#d40000" d="M40 29h1v1h-1z"/>
<path fill="#d70000" d="M40 46h1v1h-1z"/>
<path fill="#d80000" d="M29 35h1v1h-1zM29 40h1v1h-1z"/>
<path fill="#da0000" d="M46 35h1v1h-1z"/>
<path fill="#ff0d00" d="M45 42h1v1h-1zM33 45h1v1h-1z"/>
<path fill="#ff0f00" d="M42 30h1v1h-1z"/>
<path fill="#ff1300" d="M45 33h1v1h-1z"/>
<path fill="#ff1400" d="M30 33h1v1h-1z"/>
<path fill="#ff1700" d="M33 30h1v1h-1z"/>
<path fill="#ff1a00" d="M42 45h1v1h-1z"/>
<path fill="#ff1c00" d="M30 42h1v1h-1z"/>
<path fill="#ff3700" d="M36 29h1v1h-1z"/>
<path fill="#ff3800" d="M46 39h1v1h-1z"/>
<path fill="#ff3c00" d="M29 36h1v1h-1z"/>
<path fill="#ff3d00" d="M36 46h1v1h-1z"/>
<path fill="#ff4000" d="M39 29h1v1h-1z"/>
<path fill="#ff4100" d="M39 46h1v1h-1z"/>
<path fill="#ff4300" d="M29 39h1v1h-1z"/>
<path fill="#ff4c00" d="M46 36h1v1h-1z"/>
<path fill="#ff5d00" d="M43 31h1v1h-1z"/>
<path fill="#ff6200" d="M44 32h1v1h-1z"/>
<path fill="#ff6f00" d="M44 43h1v1h-1z"/>
<path fill="#ff7000" d="M32 44h1v1h-1z"/>
<path fill="#ff7400" d="M31 32h1v1h-1z"/>
<path fill="#ff7600" d="M32 31h1v1h-1z"/>
<path fill="#ff7e00" d="M31 43h1v1h-1zM43 44h1v1h-1z"/>
<path fill="#ff8500" d="M38 46h1v1h-1z"/>
<path fill="#ff8700" d="M46 38h1v1h-1z"/>
<path fill="#ff8800" d="M37 29h1v1h-1zM46 37h1v1h-1z"/>
<path fill="#ff8900" d="M37 46h1v1h-1z"/>
<path fill="#ff8f00" d="M29 37h1v1h-1z"/>
<path fill="#ff9100" d="M38 29h1v1h-1z"/>
<path fill="#ff9500" d="M29 38h1v1h-1z"/>
<path fill="#ffc400" d="M45 41h1v1h-1z"/>
<path fill="#ffc700" d="M41 45h1v1h-1z"/>
<path fill="#ffc900" d="M41 30h1v1h-1zM30 34h1v1h-1zM45 34h1v1h-1z"/>
<path fill="#ffd200" d="M34 30h1v1h-1z"/>
<path fill="#ffd400" d="M34 45h1v1h-1z"/>
<path fill="#ffda00" d="M30 41h1v1h-1z"/>
<path fill="#fffa00" d="M42 31h1v1h-1z"/>
<path fill="#fffb00" d="M44 33h1v1h-1z"/>
<path fill="#ffff03" d="M33 44h1v1h-1z"/>
<path fill="#ffff04" d="M30 35h1v1h-1z"/>
<path fill="#ffff09" d="M45 40h1v1h-1z"/>
<path fill="#ffff0b" d="M44 42h1v1h-1z"/>
<path fill="#ffff0c" d="M31 33h1v1h-1z"/>
<path fill="#ffff0e" d="M35 45h1v1h-1z"/>
<path fill="#ffff0f" d="M43 32h1v1h-1z"/>
<path fill="#ffff10" d="M30 40h1v1h-1zM40 45h1v1h-1z"/>
<path fill="#ffff12" d="M45 39h1v1h-1z"/>
<path fill="#ffff16" d="M33 31h1v1h-1z"/>
<path fill="#ffff17" d="M30 36h1v1h-1z"/>
<path fill="#ffff19" d="M42 44h1v1h-1z"/>
<path fill="#ffff1a" d="M40 30h1v1h-1z"/>
<path fill="#ffff1e" d="M45 35h1v1h-1z"/>
<path fill="#ffff23" d="M39 45h1v1h-1z"/>
<path fill="#ffff25" d="M44 34h1v1h-1z"/>
<path fill="#ffff26" d="M31 34h1v1h-1z"/>
<path fill="#ffff27" d="M30 37h1v1h-1zM45 38h1v1h-1zM40 44h1v1h-1z"/>
<path fill="#ffff28" d="M35 30h1v1h-1zM34 44h1v1h-1z"/>
<path fill="#ffff29" d="M44 41h1v1h-1z"/>
<path fill="#ffff2a" d="M36 45h1v1h-1z"/>
<path fill="#ffff2c" d="M36 30h1v1h-1z"/>
<path fill="#ffff2d" d="M32 32h1v1h-1zM45 37h1v1h-1z"/>
<path fill="#ffff2e" d="M41 31h1v1h-1zM30 38h1v1h-1z"/>
<path fill="#ffff2f" d="M31 42h1v1h-1z"/>
<path fill="#ffff34" d="M30 39h1v1h-1zM43 43h1v1h-1zM41 44h1v1h-1z"/>
<path fill="#ffff35" d="M38 45h1v1h-1z"/>
<path fill="#ffff36" d="M37 45h1v1h-1z"/>
<path fill="#ffff37" d="M34 31h1v1h-1z"/>
<path fill="#ffff38" d="M37 30h1v1h-1zM42 32h1v1h-1z"/>
<path fill="#ffff3a" d="M31 35h1v1h-1z"/>
<path fill="#ffff3b" d="M45 36h1v1h-1zM44 40h1v1h-1z"/>
<path fill="#ffff3e" d="M43 33h1v1h-1z"/>
<path fill="#ffff3f" d="M37 31h1v1h-1z"/>
<path fill="#ffff40" d="M44 38h1v1h-1zM42 43h1v1h-1z"/>
<path fill="#ffff41" d="M36 31h1v1h-1zM31 36h1v1h-1zM31 37h1v1h-1zM40 43h1v1h-1zM36 44h1v1h-1z"/>
<path fill="#ffff42" d="M32 43h1v1h-1z"/>
<path fill="#ffff43" d="M39 30h1v1h-1zM44 39h1v1h-1zM31 40h1v1h-1zM41 43h1v1h-1zM39 44h1v1h-1z"/>
<path fill="#ffff45" d="M33 32h1v1h-1z"/>
<path fill="#ffff46" d="M43 42h1v1h-1z"/>
<path fill="#ffff47" d="M43 41h1v1h-1z"/>
<path fill="#ffff48" d="M32 34h1v1h-1zM44 35h1v1h-1z"/>
<path fill="#ffff49" d="M34 43h1v1h-1z"/>
<path fill="#ffff4a" d="M32 33h1v1h-1z"/>
<path fill="#ffff4b" d="M34 32h1v1h-1zM31 38h1v1h-1z"/>
<path fill="#ffff4c" d="M41 42h1v1h-1z"/>
<path fill="#ffff4d" d="M35 44h1v1h-1z"/>
<path fill="#ffff4f" d="M38 30h1v1h-1z"/>
<path fill="#ffff50" d="M40 31h1v1h-1z"/>
<path fill="#ffff51" d="M44 37h1v1h-1zM31 39h1v1h-1zM33 43h1v1h-1z"/>
<path fill="#ffff52" d="M38 31h1v1h-1zM31 41h1v1h-1z"/>
<path fill="#ffff53" d="M32 38h1v1h-1zM42 42h1v1h-1z"/>
<path fill="#ffff54" d="M41 32h1v1h-1z"/>
<path fill="#ffff55" d="M35 31h1v1h-1zM35 43h1v1h-1zM37 44h1v1h-1z"/>
<path fill="#ffff56" d="M33 38h1v1h-1z"/>
<path fill="#ffff57" d="M38 44h1v1h-1z"/>
<path fill="#ffff58" d="M32 42h1v1h-1z"/>
<path fill="#ffff59" d="M43 34h1v1h-1zM44 36h1v1h-1zM32 37h1v1h-1zM36 43h1v1h-1z"/>
<path fill="#ffff5a" d="M39 31h1v1h-1zM32 41h1v1h-1zM33 42h1v1h-1z"/>
<path fill="#ffff5b" d="M42 33h1v1h-1zM33 41h1v1h-1z"/>
<path fill="#ffff5c" d="M43 37h1v1h-1z"/>
<path fill="#ffff5f" d="M38 32h1v1h-1zM41 33h1v1h-1zM43 40h1v1h-1zM38 43h1v1h-1z"/>
<path fill="#ffff60" d="M39 43h1v1h-1z"/>
<path fill="#ffff62" d="M37 32h1v1h-1zM39 32h1v1h-1zM32 40h1v1h-1z"/>
<path fill="#ffff63" d="M42 41h1v1h-1z"/>
<path fill="#ffff64" d="M43 38h1v1h-1z"/>
<path fill="#ffff68" d="M34 41h1v1h-1zM37 43h1v1h-1z"/>
<path fill="#ffff6a" d="M40 32h1v1h-1zM32 35h1v1h-1zM42 37h1v1h-1zM32 39h1v1h-1zM40 42h1v1h-1z"/>
<path fill="#ffff6c" d="M39 33h2v1h-2z"/>
<path fill="#ffff6d" d="M33 37h1v1h-1z"/>
<path fill="#ffff6e" d="M33 33h1v1h-1z"/>
<path fill="#ffff70" d="M37 33h1v1h-1zM32 36h1v1h-1zM43 39h1v1h-1z"/>
<path fill="#ffff72" d="M34 42h1v1h-1z"/>
<path fill="#ffff73" d="M33 34h1v1h-1z"/>
<path fill="#ffff74" d="M42 34h1v1h-1zM41 41h1v1h-1z"/>
<path fill="#ffff75" d="M33 36h1v1h-1z"/>
<path fill="#ffff76" d="M33 40h1v1h-1zM42 40h1v1h-1z"/>
<path fill="#ffff78" d="M34 33h1v1h-1zM38 33h1v1h-1z"/>
<path fill="#ffff79" d="M41 34h1v1h-1z"/>
<path fill="#ffff7c" d="M42 35h1v1h-1zM42 38h1v1h-1z"/>
<path fill="#ffff7d" d="M35 32h2v1h-2zM33 39h1v1h-1zM35 42h1v1h-1z"/>
<path fill="#ffff7f" d="M40 41h1v1h-1z"/>
<path fill="#ffff81" d="M37 34h1v1h-1zM39 40h1v1h-1z"/>
<path fill="#ffff82" d="M39 41h1v1h-1z"/>
<path fill="#ffff84" d="M42 36h1v1h-1z"/>
<path fill="#ffff85" d="M40 34h1v1h-1z"/>
<path fill="#ffff86" d="M43 36h1v1h-1z"/>
<path fill="#ffff88" d="M33 35h1v1h-1zM35 41h1v1h-1z"/>
<path fill="#ffff89" d="M43 35h1v1h-1zM35 40h1v1h-1z"/>
<path fill="#ffff8a" d="M41 37h1v1h-1zM38 41h1v1h-1zM38 42h1v1h-1z"/>
<path fill="#ffff8c" d="M36 42h1v1h-1z"/>
<path fill="#ffff8d" d="M39 34h1v1h-1zM34 40h1v1h-1z"/>
<path fill="#ffff8e" d="M34 34h1v1h-1zM39 42h1v1h-1z"/>
<path fill="#ffff8f" d="M34 39h1v1h-1zM42 39h1v1h-1z"/>
<path fill="#ffff90" d="M34 37h1v1h-1z"/>
<path fill="#ffff92" d="M35 34h1v1h-1zM40 40h1v1h-1zM37 42h1v1h-1z"/>
<path fill="#ffff93" d="M36 34h1v1h-1zM34 38h1v1h-1zM35 39h1v1h-1z"/>
<path fill="#ffff95" d="M36 33h1v1h-1zM34 36h1v1h-1z"/>
<path fill="#ffff97" d="M37 35h1v1h-1zM41 38h1v1h-1z"/>
<path fill="#ffff98" d="M41 35h1v1h-1z"/>
<path fill="#ffff99" d="M41 40h1v1h-1z"/>
<path fill="#ffff9a" d="M35 33h1v1h-1zM34 35h1v1h-1z"/>
<path fill="#ffff9d" d="M38 40h1v1h-1z"/>
<path fill="#ffffa0" d="M36 40h1v1h-1z"/>
<path fill="#ffffa1" d="M37 36h1v1h-1zM39 39h1v1h-1z"/>
<path fill="#ffffa2" d="M38 34h1v1h-1z"/>
<path fill="#ffffa4" d="M40 35h1v1h-1zM40 37h1v1h-1z"/>
<path fill="#ffffa5" d="M35 38h1v1h-1z"/>
<path fill="#ffffa6" d="M41 39h1v1h-1zM37 40h1v1h-1z"/>
<path fill="#ffffa7" d="M36 41h1v1h-1z"/>
<path fill="#ffffaa" d="M35 36h1v1h-1zM36 39h1v1h-1z"/>
<path fill="#ffffab" d="M35 35h1v1h-1zM41 36h1v1h-1z"/>
<path fill="#ffffad" d="M39 36h1v1h-1zM35 37h1v1h-1z"/>
<path fill="#ffffae" d="M38 35h1v1h-1zM40 36h1v1h-1zM36 37h1v1h-1z"/>
<path fill="#ffffb0" d="M36 35h1v1h-1z"/>
<path fill="#ffffb1" d="M37 37h1v1h-1zM40 39h1v1h-1z"/>
<path fill="#ffffb4" d="M36 36h1v1h-1zM38 36h1v1h-1z"/>
<path fill="#ffffb6" d="M36 38h1v1h-1z"/>
<path fill="#ffffb7" d="M37 38h1v1h-1zM40 38h1v1h-1z"/>
<path fill="#ffffb8" d="M38 39h1v1h-1zM37 41h1v1h-1z"/>
<path fill="#ffffba" d="M39 37h1v1h-1z"/>
<path fill="#ffffbc" d="M39 35h1v1h-1z"/>
<path fill="#ffffbd" d="M37 39h1v1h-1z"/>
<path fill="#ffffc3" d="M38 37h1v1h-1z"/>
<path fill="#ffffc7" d="M38 38h1v1h-1z"/>
<path fill="#ffffcb" d="M39 38h1v1h-1z"/>
</g>
<g stroke="#fff" stroke-opacity="0.65" stroke-width="3.5" fill="none">
<path d="M1127.75 277.4H1281.25 M1427.75 277.4H1581.25"/>
<path stroke-dasharray="13.03 5.63" d="M1357.5 49.4V187.4 M1357.5 361.4V499.4"/>
</g>
<rect x="1126.05" y="46.6" width="456.65" height="455.3" fill="none" stroke="#000" stroke-width="1"/>
<text x="1354.85" y="35.9" font-size="28.2" text-anchor="middle" fill="#000">Point source</text>
<rect x="128" y="436" width="67" height="7.2" fill="#fff"/>
<text x="160.4" y="475.2" font-size="26.4" text-anchor="middle" fill="#fff">4 mm</text>
<rect x="1611.6" y="46.5" width="26.1" height="455.7" fill="url(#hot)" stroke="#1a1a1a" stroke-width="1.2"/>
<path d="M1637.7 502.2h6.5" stroke="#000" stroke-width="1.4"/>
<text x="1649.9" y="510.8" font-size="25" text-anchor="start" fill="#000">0.0</text>
<path d="M1637.7 417.81h6.5" stroke="#000" stroke-width="1.4"/>
<text x="1649.9" y="426.41" font-size="25" text-anchor="start" fill="#000">0.5</text>
<path d="M1637.7 333.42h6.5" stroke="#000" stroke-width="1.4"/>
<text x="1649.9" y="342.02" font-size="25" text-anchor="start" fill="#000">1.0</text>
<path d="M1637.7 249.03h6.5" stroke="#000" stroke-width="1.4"/>
<text x="1649.9" y="257.63" font-size="25" text-anchor="start" fill="#000">1.5</text>
<path d="M1637.7 164.64h6.5" stroke="#000" stroke-width="1.4"/>
<text x="1649.9" y="173.24" font-size="25" text-anchor="start" fill="#000">2.0</text>
<path d="M1637.7 80.26h6.5" stroke="#000" stroke-width="1.4"/>
<text x="1649.9" y="88.86" font-size="25" text-anchor="start" fill="#000">2.5</text>
<path d="M66.1 919.43H525.8" stroke="#808080" stroke-opacity="0.62" stroke-width="2" stroke-dasharray="5.2 2.25" fill="none"/>
<path d="M66.1 830.35H525.8" stroke="#808080" stroke-opacity="0.55" stroke-width="1.6" stroke-dasharray="5.2 2.25" fill="none"/>
<path d="M66.1 741.28H525.8" stroke="#808080" stroke-opacity="0.55" stroke-width="1.6" stroke-dasharray="5.2 2.25" fill="none"/>
<path d="M66.1 652.2H525.8" stroke="#808080" stroke-opacity="0.5" stroke-width="1.25" stroke-dasharray="5.2 2.25" fill="none"/>
<path d="M66.1 563.13H525.8" stroke="#808080" stroke-opacity="0.48" stroke-width="1" stroke-dasharray="5.2 2.25" fill="none"/>
<g clip-path="url(#cp0)" fill="none" stroke-width="3.5" stroke-linejoin="round">
<path stroke="#1f77b4" stroke-opacity="0.6" d="M65.92 999.58C68.45 999.65 76.24 1000.12 81.13 1000C86.01 999.88 90.99 999.25 95.21 998.87C99.44 998.5 103.43 998.03 106.48 997.75C109.53 997.46 111.41 997.11 113.52 997.18C115.63 997.25 116.81 997.61 119.15 998.17C121.5 998.73 123.38 1000.16 127.61 1000.56C131.83 1000.96 139.34 1000.66 144.51 1000.56C149.67 1000.47 154.37 1000.16 158.59 1000C162.82 999.84 166.81 1000 169.86 999.58C172.91 999.15 174.79 998.52 176.9 997.46C179.01 996.41 180.89 994.65 182.54 993.24C184.18 991.83 185.59 990.42 186.76 989.01C187.93 987.61 188.64 986.9 189.58 984.79C190.52 982.68 191.57 980.09 192.39 976.34C193.22 972.58 193.8 968.12 194.51 962.25C195.21 956.38 195.92 948.17 196.62 941.13C197.32 934.08 197.71 928.19 198.73 920C199.75 911.81 201.58 900.31 202.73 892C203.88 883.69 204.68 877.43 205.65 870.15C206.62 862.86 207.59 854.97 208.56 848.29C209.53 841.61 210.5 836.63 211.48 830.07C212.45 823.52 213.35 815.62 214.39 808.94C215.43 802.26 217.02 794.55 217.74 790C218.46 785.45 218.08 785.95 218.69 781.64C219.3 777.33 220.55 770.16 221.42 764.15C222.3 758.14 223.11 751.4 223.93 745.57C224.75 739.74 225.57 734.64 226.34 729.18C227.1 723.72 227.7 718.25 228.52 712.79C229.34 707.32 230.35 701.86 231.26 696.39C232.17 690.93 233.03 687.38 233.99 680C234.95 672.62 236.15 659.12 237.02 652.1C237.89 645.09 238.48 642.45 239.21 637.9C239.94 633.34 240.57 629.15 241.39 624.78C242.21 620.41 243.21 615.49 244.13 611.67C245.04 607.84 245.86 604.56 246.86 601.83C247.86 599.1 248.86 597 250.14 595.27C251.41 593.54 253.05 592.36 254.51 591.45C255.97 590.54 257.42 590.08 258.88 589.81C260.34 589.54 261.79 589.54 263.25 589.81C264.71 590.08 266.35 590.94 267.62 591.45C268.9 591.96 269.81 592.69 270.9 592.87C271.99 593.05 273.09 593.14 274.18 592.54C275.27 591.94 276.37 590.81 277.46 589.26C278.55 587.71 279.74 585.26 280.74 583.25C281.74 581.25 282.56 578.73 283.47 577.24C284.38 575.75 285.02 574.89 286.2 574.29C287.39 573.69 289.12 573.51 290.57 573.63C292.03 573.76 293.49 574.64 294.95 575.05C296.4 575.47 297.86 576.02 299.32 576.15C300.77 576.28 302.05 576 303.69 575.82C305.33 575.64 307.51 575.18 309.15 575.05C310.79 574.93 312.25 574.78 313.52 575.05C314.8 575.33 315.8 575.69 316.8 576.69C317.81 577.7 318.62 579.24 319.54 581.07C320.45 582.89 321.27 585.07 322.27 587.62C323.27 590.17 324.45 593.27 325.55 596.37C326.64 599.46 327.73 603.11 328.83 606.2C329.92 609.3 331.01 612.21 332.1 614.95C333.2 617.68 334.29 620.41 335.38 622.6C336.48 624.78 337.57 626.24 338.66 628.06C339.75 629.88 340.94 631.52 341.94 633.52C342.94 635.53 343.85 637.35 344.67 640.08C345.49 642.81 345.77 643.98 346.86 649.92C347.95 655.86 350.01 667.97 351.22 675.72C352.43 683.47 353.25 690.22 354.1 696.39C354.94 702.57 355.56 707.32 356.28 712.79C357.01 718.25 357.87 724.44 358.47 729.18C359.07 733.92 359.34 736.65 359.89 741.2C360.44 745.76 360.98 751.22 361.75 756.5C362.51 761.79 363.62 767.43 364.48 772.9C365.34 778.36 365.85 783.28 366.89 789.29C367.92 795.3 369.56 802.15 370.67 808.94C371.79 815.74 372.74 823.52 373.59 830.07C374.44 836.63 375.05 841.61 375.77 848.29C376.5 854.97 377.28 862.86 377.96 870.15C378.64 877.43 379.25 884.72 379.85 892C380.46 899.29 380.83 905.67 381.6 913.86C382.38 922.05 383.74 933.06 384.51 941.13C385.27 949.19 385.49 956.38 386.2 962.25C386.9 968.12 387.61 973.17 388.73 976.34C389.86 979.51 391.31 979.86 392.96 981.27C394.6 982.68 396.48 983.26 398.59 984.79C400.7 986.31 403.29 988.54 405.63 990.42C407.98 992.3 410.33 994.53 412.68 996.06C415.02 997.58 417.37 998.64 419.72 999.58C422.07 1000.52 423.24 1001.15 426.76 1001.69C430.28 1002.23 436.15 1002.58 440.85 1002.82C445.54 1003.05 450.23 1003 454.93 1003.1C459.62 1003.19 464.32 1003.26 469.01 1003.38C473.71 1003.5 478.4 1003.62 483.1 1003.8C487.79 1003.99 492.49 1004.39 497.18 1004.51C501.88 1004.62 506.53 1004.55 511.27 1004.51C516.01 1004.46 523.24 1004.27 525.63 1004.23"/>
<path stroke="#1f77b4" stroke-opacity="0.3" stroke-dasharray="13.0 5.66" d="M65.92 1000.99C71.97 1000.92 91.5 1000.92 102.25 1000.56C113 1000.21 123.38 999.51 130.42 998.87C137.46 998.24 139.81 997.7 144.51 996.76C149.2 995.82 154.84 994.53 158.59 993.24C162.35 991.95 164.46 990.89 167.04 989.01C169.62 987.14 171.97 984.32 174.08 981.97C176.2 979.62 178.08 977.75 179.72 974.93C181.36 972.11 182.54 968.83 183.94 965.07C185.35 961.31 186.76 957.09 188.17 952.39C189.58 947.7 191.1 942.3 192.39 936.9C193.69 931.5 194.31 926.27 195.92 920C197.52 913.73 200.5 906.38 202 899.29C203.5 892.19 203.7 884.72 204.92 877.43C206.13 870.15 207.83 863.47 209.29 855.57C210.75 847.68 212.2 838.57 213.66 830.07C215.12 821.57 217.1 812.64 218.03 804.57C218.96 796.5 218.58 788.38 219.23 781.64C219.89 774.9 221.11 770.16 221.97 764.15C222.82 758.14 223.55 751.4 224.37 745.57C225.19 739.74 226.1 734.64 226.89 729.18C227.67 723.72 228.25 718.25 229.07 712.79C229.89 707.32 230.89 701.86 231.8 696.39C232.71 690.93 233.12 685.23 234.54 680C235.95 674.77 238.61 670.2 240.3 665C241.99 659.8 243.21 653.71 244.67 648.83C246.13 643.94 247.59 639.54 249.04 635.71C250.5 631.89 251.96 629.15 253.42 625.87C254.87 622.6 256.33 619.68 257.79 616.04C259.24 612.4 260.7 608.02 262.16 604.02C263.62 600.01 265.07 595.82 266.53 591.99C267.99 588.17 269.63 583.52 270.9 581.07C272.18 578.61 272.91 578.06 274.18 577.24C275.46 576.42 277.28 576.57 278.55 576.15C279.83 575.73 279.83 574.73 281.83 574.73C283.83 574.73 287.3 575.82 290.57 576.15C293.85 576.48 298.41 576.42 301.5 576.69C304.6 576.97 307.15 576.33 309.15 577.79C311.16 579.24 312.07 581.79 313.52 585.44C314.98 589.08 316.62 595.46 317.9 599.64C319.17 603.83 320.08 606.2 321.17 610.57C322.27 614.95 323.36 621.32 324.45 625.87C325.55 630.43 326.46 633.89 327.73 637.9C329.01 641.9 330.83 646.28 332.1 649.92C333.38 653.56 332.9 654.74 335.38 659.75C337.86 664.77 344.6 673.89 346.99 680C349.39 686.11 348.63 690.93 349.73 696.39C350.82 701.86 352.46 707.32 353.55 712.79C354.64 718.25 355.46 723.72 356.28 729.18C357.1 734.64 357.74 739.2 358.47 745.57C359.2 751.95 359.84 760.15 360.66 767.43C361.48 774.72 362.45 781.89 363.39 789.29C364.33 796.69 365.33 804.45 366.3 811.86C367.27 819.26 368.12 826.43 369.22 833.72C370.31 841 371.77 848.29 372.86 855.57C373.95 862.86 374.68 870.15 375.77 877.43C376.87 884.72 377.96 892 379.42 899.29C380.87 906.58 383.66 916.52 384.51 921.15C385.36 925.77 383.81 923.24 384.51 927.04C385.22 930.84 387.09 938.54 388.73 943.94C390.37 949.34 392.49 954.98 394.37 959.44C396.24 963.9 398.12 967.42 400 970.7C401.88 973.99 403.52 976.57 405.63 979.15C407.75 981.74 410.33 984.2 412.68 986.2C415.02 988.19 417.37 989.84 419.72 991.13C422.07 992.42 424.41 993 426.76 993.94C429.11 994.88 431.46 995.94 433.8 996.76C436.15 997.58 437.32 998.4 440.85 998.87C444.37 999.34 450.23 999.34 454.93 999.58C459.62 999.81 461.97 999.93 469.01 1000.28C476.06 1000.63 487.75 1001.22 497.18 1001.69C506.62 1002.16 520.89 1002.86 525.63 1003.1"/>
<path stroke="#ff7f0e" stroke-opacity="0.6" d="M65.92 1000.99C69.62 1000.99 79.77 1000.99 88.17 1000.99C96.57 1000.99 106.95 1000.99 116.34 1000.99C125.73 1000.99 137.46 1000.92 144.51 1000.99C151.55 1001.06 153.9 1001.53 158.59 1001.41C163.29 1001.29 169.39 1001.17 172.68 1000.28C175.96 999.39 176.67 998.4 178.31 996.06C179.95 993.71 181.13 990.19 182.54 986.2C183.94 982.21 185.35 976.81 186.76 972.11C188.17 967.42 189.58 962.72 190.99 958.03C192.39 953.33 193.8 948.4 195.21 943.94C196.62 939.48 198.15 935.26 199.44 931.27C200.73 927.28 201.07 926.54 202.96 920C204.84 913.46 208.72 900.31 210.75 892C212.77 883.69 213.9 877.43 215.12 870.15C216.33 862.86 217.18 854.97 218.03 848.29C218.88 841.61 219.54 836.63 220.22 830.07C220.9 823.52 221.51 815.62 222.11 808.94C222.72 802.26 223.34 794.55 223.86 790C224.38 785.45 224.56 785.95 225.25 781.64C225.93 777.33 227.16 770.16 227.98 764.15C228.8 758.14 229.47 751.4 230.16 745.57C230.86 739.74 231.46 734.64 232.13 729.18C232.81 723.72 233.53 718.25 234.21 712.79C234.88 707.32 235.39 701.86 236.17 696.39C236.96 690.93 237.86 687.02 238.91 680C239.96 672.98 241.43 660.4 242.49 654.29C243.54 648.18 244.22 647 245.22 643.36C246.22 639.72 247.31 635.71 248.5 632.43C249.68 629.15 250.96 626.6 252.32 623.69C253.69 620.77 255.42 617.86 256.69 614.95C257.97 612.03 258.88 609.12 259.97 606.2C261.07 603.29 262.07 600.37 263.25 597.46C264.44 594.54 265.8 591.08 267.08 588.72C268.35 586.35 269.72 584.53 270.9 583.25C272.09 581.98 273.09 581.47 274.18 581.07C275.27 580.66 276.37 580.57 277.46 580.85C278.55 581.12 279.64 582.03 280.74 582.7C281.83 583.38 282.74 584.4 284.02 584.89C285.29 585.38 286.75 585.6 288.39 585.66C290.03 585.71 292.03 585.26 293.85 585.22C295.67 585.18 297.68 585.13 299.32 585.44C300.96 585.75 302.23 586.53 303.69 587.08C305.15 587.62 306.6 588.35 308.06 588.72C309.52 589.08 311.16 588.72 312.43 589.26C313.71 589.81 314.62 590.45 315.71 591.99C316.8 593.54 317.9 596 318.99 598.55C320.08 601.1 321.17 604.2 322.27 607.3C323.36 610.39 324.45 614.03 325.55 617.13C326.64 620.23 327.73 622.78 328.83 625.87C329.92 628.97 331.01 632.25 332.1 635.71C333.2 639.17 334.29 643 335.38 646.64C336.48 650.28 337.24 652.24 338.66 657.57C340.09 662.9 342.64 672.16 343.93 678.63C345.23 685.1 345.66 690.7 346.45 696.39C347.23 702.09 347.91 707.32 348.63 712.79C349.36 718.25 350.22 724.44 350.82 729.18C351.42 733.92 351.75 736.65 352.24 741.2C352.73 745.76 353.19 751.22 353.77 756.5C354.35 761.79 355.14 767.43 355.74 772.9C356.34 778.36 356.76 783.28 357.38 789.29C358 795.3 358.69 802.15 359.45 808.94C360.21 815.74 361.15 823.52 361.93 830.07C362.71 836.63 363.27 841.61 364.12 848.29C364.97 854.97 365.82 862.86 367.03 870.15C368.25 877.43 369.7 884.72 371.4 892C373.1 899.29 374.77 905.67 377.23 913.86C379.7 922.05 384.05 933.77 386.2 941.13C388.35 948.49 388.78 952.63 390.14 958.03C391.5 963.43 392.96 968.83 394.37 973.52C395.77 978.22 397.18 982.68 398.59 986.2C400 989.72 401.17 992.42 402.82 994.65C404.46 996.88 406.34 998.4 408.45 999.58C410.56 1000.75 412.91 1001.1 415.49 1001.69C418.08 1002.28 420.89 1002.63 423.94 1003.1C427 1003.57 429.81 1004.27 433.8 1004.51C437.79 1004.74 443.19 1004.62 447.89 1004.51C452.58 1004.39 458.45 1003.8 461.97 1003.8C465.49 1003.8 466.67 1004.15 469.01 1004.51C471.36 1004.86 473.71 1005.92 476.06 1005.92C478.4 1005.92 480.75 1004.98 483.1 1004.51C485.45 1004.04 487.79 1003.45 490.14 1003.1C492.49 1002.75 494.84 1002.63 497.18 1002.39C499.53 1002.16 501.88 1001.76 504.23 1001.69C506.57 1001.62 509.39 1001.62 511.27 1001.97C513.15 1002.32 514.08 1002.91 515.49 1003.8C516.9 1004.69 518.03 1006.27 519.72 1007.32C521.41 1008.38 524.65 1009.67 525.63 1010.14"/>
<path stroke="#ff7f0e" stroke-opacity="0.3" stroke-dasharray="13.0 5.66" d="M65.92 1002.39C69.62 1002.39 79.77 1002.75 88.17 1002.39C96.57 1002.04 109.3 1001.1 116.34 1000.28C123.38 999.46 125.73 998.52 130.42 997.46C135.12 996.41 140.75 995.59 144.51 993.94C148.26 992.3 150.14 989.84 152.96 987.61C155.77 985.38 158.59 983.15 161.41 980.56C164.23 977.98 167.51 975.16 169.86 972.11C172.21 969.06 173.85 965.77 175.49 962.25C177.14 958.73 178.08 955.21 179.72 950.99C181.36 946.76 183.71 940.89 185.35 936.9C187 932.91 188.17 929.86 189.58 927.04C190.99 924.23 191.49 924.63 193.8 920C196.12 915.37 200.76 906.38 203.46 899.29C206.16 892.19 208.08 884.72 210.02 877.43C211.96 870.15 213.3 862.86 215.12 855.57C216.94 848.29 219.25 841 220.95 833.72C222.65 826.43 223.86 819.14 225.32 811.86C226.78 804.57 228.34 796.49 229.69 790C231.04 783.51 232.36 778.48 233.44 772.9C234.52 767.31 235.26 761.79 236.17 756.5C237.09 751.22 238.09 745.76 238.91 741.2C239.73 736.65 240.27 733.92 241.09 729.18C241.91 724.44 242.73 718.25 243.83 712.79C244.92 707.32 246.47 701.86 247.65 696.39C248.83 690.93 249.24 687.93 250.93 680C252.62 672.07 256.1 656.75 257.79 648.83C259.48 640.9 260.06 637.35 261.07 632.43C262.07 627.51 262.89 623.51 263.8 619.32C264.71 615.13 265.53 610.94 266.53 607.3C267.53 603.65 268.72 600.19 269.81 597.46C270.9 594.73 271.81 592.45 273.09 590.9C274.36 589.35 276 588.44 277.46 588.17C278.92 587.9 280.37 589.08 281.83 589.26C283.29 589.44 284.74 589.44 286.2 589.26C287.66 589.08 289.12 588.72 290.57 588.17C292.03 587.62 293.49 586.8 294.95 585.98C296.4 585.16 297.86 583.52 299.32 583.25C300.77 582.98 302.41 583.25 303.69 584.34C304.96 585.44 306.06 587.62 306.97 589.81C307.88 591.99 308.24 594.18 309.15 597.46C310.06 600.74 311.34 605.47 312.43 609.48C313.52 613.49 314.62 617.68 315.71 621.5C316.8 625.33 317.9 628.79 318.99 632.43C320.08 636.07 321.17 639.72 322.27 643.36C323.36 647 323.79 645.45 325.55 654.29C327.3 663.13 331.18 686.64 332.79 696.39C334.39 706.14 334.28 707.32 335.19 712.79C336.1 718.25 337.34 724.44 338.25 729.18C339.16 733.92 339.84 737.01 340.66 741.2C341.48 745.39 342.3 749.95 343.17 754.32C344.04 758.69 344.99 762.51 345.9 767.43C346.81 772.35 347.66 780.06 348.63 783.83C349.61 787.59 350.49 785.33 351.73 790C352.98 794.67 354.52 804.57 356.1 811.86C357.68 819.14 359.38 826.43 361.2 833.72C363.02 841 365.09 848.29 367.03 855.57C368.97 862.86 370.92 870.15 372.86 877.43C374.8 884.72 376.51 892 378.69 899.29C380.87 906.58 383.8 915.35 385.94 921.15C388.09 926.95 389.44 929.58 391.55 934.08C393.66 938.59 396.24 943.71 398.59 948.17C400.94 952.63 403.29 956.85 405.63 960.85C407.98 964.84 410.33 968.83 412.68 972.11C415.02 975.4 417.37 977.75 419.72 980.56C422.07 983.38 424.41 986.67 426.76 989.01C429.11 991.36 431.46 993 433.8 994.65C436.15 996.29 437.32 997.82 440.85 998.87C444.37 999.93 450.23 1000.63 454.93 1000.99C459.62 1001.34 464.32 1001.34 469.01 1000.99C473.71 1000.63 478.4 999.46 483.1 998.87C487.79 998.29 493.66 997.58 497.18 997.46C500.7 997.35 501.88 997.82 504.23 998.17C506.57 998.52 507.7 998.76 511.27 999.58C514.84 1000.4 523.24 1002.51 525.63 1003.1"/>
<path stroke="#2ca02c" stroke-opacity="0.6" d="M65.92 1000.28C67.28 1000.28 70.38 1000.33 74.08 1000.28C77.79 1000.23 84.65 1000.52 88.17 1000C91.69 999.48 92.86 997.72 95.21 997.18C97.56 996.64 100.14 997.07 102.25 996.76C104.37 996.46 106.01 995.89 107.89 995.35C109.77 994.81 111.88 993.76 113.52 993.52C115.16 993.29 116.34 993.4 117.75 993.94C119.15 994.48 120.56 995.75 121.97 996.76C123.38 997.77 124.32 999.37 126.2 1000C128.08 1000.63 130.19 1000.56 133.24 1000.56C136.29 1000.56 141.46 1000.28 144.51 1000C147.56 999.72 149.44 999.41 151.55 998.87C153.66 998.33 155.54 997.18 157.18 996.76C158.83 996.34 159.77 996.1 161.41 996.34C163.05 996.57 165.16 997.7 167.04 998.17C168.92 998.64 171.27 999.27 172.68 999.15C174.08 999.04 174.55 998.45 175.49 997.46C176.43 996.48 177.37 994.41 178.31 993.24C179.25 992.07 180.19 990.7 181.13 990.42C182.07 990.14 183 990.14 183.94 991.55C184.88 992.96 185.82 996.24 186.76 998.87C187.7 1001.5 188.76 1004.98 189.58 1007.32C190.4 1009.67 190.99 1013.43 191.69 1012.96C192.39 1012.49 193.22 1009.44 193.8 1004.51C194.39 999.58 194.74 990.42 195.21 983.38C195.68 976.34 196.15 969.3 196.62 962.25C197.09 955.21 197.67 949.19 198.03 941.13C198.39 933.06 198.57 922.05 198.8 913.86C199.02 905.67 199.14 899.29 199.38 892C199.62 884.72 199.94 877.43 200.26 870.15C200.57 862.86 200.98 854.97 201.28 848.29C201.57 841.61 201.76 836.14 202 830.07C202.25 824 202.44 818.54 202.73 811.86C203.02 805.18 203.46 797.4 203.75 790C204.04 782.6 204.21 774.84 204.48 767.43C204.75 760.03 205.08 751.95 205.36 745.57C205.63 739.2 205.87 734.64 206.12 729.18C206.38 723.72 206.52 718.25 206.89 712.79C207.25 707.32 207.8 700.4 208.31 696.39C208.82 692.39 209.31 690.93 209.95 688.74C210.58 686.56 211.29 684.96 212.13 683.28C212.97 681.59 213.96 680.5 214.97 678.63C215.98 676.77 217.21 674.99 218.18 672.08C219.15 669.16 219.3 668.48 220.8 661.15C222.3 653.81 225.58 635.76 227.19 628.06C228.8 620.36 229.37 619.13 230.46 614.95C231.56 610.76 232.65 606.57 233.74 602.92C234.84 599.28 235.93 596 237.02 593.09C238.11 590.17 239.21 587.53 240.3 585.44C241.39 583.34 242.49 581.79 243.58 580.52C244.67 579.24 245.58 578.42 246.86 577.79C248.13 577.15 249.68 576.88 251.23 576.69C252.78 576.51 254.87 577.2 256.15 576.69C257.42 576.18 257.88 575.27 258.88 573.63C259.88 571.99 261.07 568.9 262.16 566.86C263.25 564.82 264.25 562.7 265.44 561.39C266.62 560.08 267.99 559.08 269.26 558.99C270.54 558.9 271.81 559.72 273.09 560.85C274.36 561.98 275.64 564.03 276.91 565.77C278.19 567.5 279.46 569.77 280.74 571.23C282.01 572.69 283.11 574 284.56 574.51C286.02 575.02 287.75 574.65 289.48 574.29C291.21 573.93 292.94 572.78 294.95 572.32C296.95 571.87 299.13 571.68 301.5 571.56C303.87 571.43 306.79 571.47 309.15 571.56C311.52 571.65 313.89 571.61 315.71 572.1C317.53 572.6 318.62 573.47 320.08 574.51C321.54 575.55 323 576.88 324.45 578.33C325.91 579.79 327.37 581.34 328.83 583.25C330.28 585.16 331.74 587.71 333.2 589.81C334.65 591.9 336.02 594 337.57 595.82C339.12 597.64 341.03 598.73 342.49 600.74C343.94 602.74 344.95 605.11 346.31 607.84C347.68 610.57 349.23 613.76 350.68 617.13C352.14 620.5 353.6 624.23 355.05 628.06C356.51 631.89 357.97 635.89 359.43 640.08C360.88 644.27 361.89 645.8 363.8 653.2C365.71 660.59 369.69 677.26 370.89 684.46C372.1 691.66 370.74 691.67 371.04 696.39C371.34 701.11 372.17 707.32 372.68 712.79C373.19 718.25 373.77 724.44 374.1 729.18C374.43 733.92 374.43 736.65 374.64 741.2C374.86 745.76 375.15 751.22 375.41 756.5C375.66 761.79 375.94 767.43 376.17 772.9C376.41 778.36 376.48 782.8 376.83 789.29C377.18 795.78 377.89 805.06 378.25 811.86C378.61 818.66 378.71 824 378.98 830.07C379.25 836.14 379.54 841.61 379.85 848.29C380.17 854.97 380.58 862.86 380.87 870.15C381.17 877.43 381.44 884.72 381.6 892C381.77 899.29 381.83 908.73 381.87 913.86C381.91 919 381.67 918.27 381.87 922.82C382.07 927.36 382.71 934.55 383.1 941.13C383.49 947.7 383.87 955.21 384.23 962.25C384.58 969.3 384.88 976.34 385.21 983.38C385.54 990.42 385.73 999.34 386.2 1004.51C386.67 1009.67 387.02 1012.72 388.03 1014.37C389.04 1016.01 391.15 1016.01 392.25 1014.37C393.36 1012.72 393.94 1007.09 394.65 1004.51C395.35 1001.92 395.7 1000.4 396.48 998.87C397.25 997.35 398.36 995.7 399.3 995.35C400.23 995 401.06 995.7 402.11 996.76C403.17 997.82 404.34 1000.52 405.63 1001.69C406.92 1002.86 408.22 1003.45 409.86 1003.8C411.5 1004.15 413.38 1003.92 415.49 1003.8C417.61 1003.69 420.19 1003.69 422.54 1003.1C424.88 1002.51 427.46 1000.87 429.58 1000.28C431.69 999.69 433.33 999.58 435.21 999.58C437.09 999.58 438.73 999.93 440.85 1000.28C442.96 1000.63 445.54 1001.34 447.89 1001.69C450.23 1002.04 452.58 1002.35 454.93 1002.39C457.28 1002.44 459.62 1001.85 461.97 1001.97C464.32 1002.09 466.67 1002.86 469.01 1003.1C471.36 1003.33 473.71 1003.5 476.06 1003.38C478.4 1003.26 480.75 1002.44 483.1 1002.39C485.45 1002.35 487.79 1003.03 490.14 1003.1C492.49 1003.17 495.07 1003.1 497.18 1002.82C499.3 1002.54 500.94 1001.83 502.82 1001.41C504.69 1000.99 506.81 1000.42 508.45 1000.28C510.09 1000.14 511.27 1000.09 512.68 1000.56C514.08 1001.03 515.49 1002.09 516.9 1003.1C518.31 1004.11 519.67 1005.45 521.13 1006.62C522.58 1007.79 524.88 1009.55 525.63 1010.14"/>
<path stroke="#2ca02c" stroke-opacity="0.3" stroke-dasharray="13.0 5.66" d="M65.92 1003.1C67.28 1003.22 70.38 1003.62 74.08 1003.8C77.79 1003.99 84.41 1004.15 88.17 1004.23C91.92 1004.3 94.27 1004.65 96.62 1004.23C98.97 1003.8 98.97 1002.58 102.25 1001.69C105.54 1000.8 111.64 999.69 116.34 998.87C121.03 998.05 125.73 997.35 130.42 996.76C135.12 996.17 141.22 995.59 144.51 995.35C147.79 995.12 147.79 995.12 150.14 995.35C152.49 995.59 154.84 996.17 158.59 996.76C162.35 997.35 169.15 999.46 172.68 998.87C176.2 998.29 177.84 994.18 179.72 993.24C181.6 992.3 182.54 991.36 183.94 993.24C185.35 995.12 186.88 1001.22 188.17 1004.51C189.46 1007.79 190.63 1012.96 191.69 1012.96C192.75 1012.96 193.8 1009.44 194.51 1004.51C195.21 999.58 195.45 990.42 195.92 983.38C196.38 976.34 196.85 969.3 197.32 962.25C197.79 955.21 198.29 949.19 198.73 941.13C199.17 933.06 199.66 922.05 199.96 913.86C200.27 905.67 200.3 899.29 200.55 892C200.79 884.72 201.11 877.43 201.42 870.15C201.74 862.86 202.15 854.97 202.44 848.29C202.73 841.61 202.93 836.14 203.17 830.07C203.41 824 203.61 818.54 203.9 811.86C204.19 805.18 204.6 797.4 204.92 790C205.23 782.6 205.5 774.84 205.79 767.43C206.08 760.03 206.39 751.95 206.67 745.57C206.94 739.2 207.16 734.64 207.43 729.18C207.7 723.72 207.94 718.25 208.31 712.79C208.67 707.32 209.13 700.4 209.62 696.39C210.11 692.39 210.62 690.93 211.26 688.74C211.89 686.56 212.58 685.45 213.44 683.28C214.3 681.11 215.45 678.44 216.43 675.72C217.41 673 217.19 674.92 219.34 666.98C221.5 659.03 226.97 637.1 229.37 628.06C231.77 619.02 232.47 616.77 233.74 612.76C235.02 608.75 235.75 607.3 237.02 604.02C238.3 600.74 240.12 596.18 241.39 593.09C242.67 589.99 243.49 587.62 244.67 585.44C245.86 583.25 247.04 581.43 248.5 579.97C249.95 578.52 251.87 577.51 253.42 576.69C254.96 575.87 256.15 575.64 257.79 575.05C259.43 574.47 261.43 573.65 263.25 573.2C265.07 572.74 266.89 572.38 268.72 572.32C270.54 572.27 272.36 572.65 274.18 572.87C276 573.09 277.64 573.45 279.64 573.63C281.65 573.82 284.2 574.18 286.2 573.96C288.21 573.74 290.21 572.96 291.67 572.32C293.12 571.68 293.85 571.41 294.95 570.14C296.04 568.86 297.13 566.49 298.22 564.67C299.32 562.85 300.23 560.45 301.5 559.21C302.78 557.97 304.6 557.33 305.87 557.24C307.15 557.15 308.06 557.06 309.15 558.66C310.25 560.26 311.52 564.76 312.43 566.86C313.34 568.95 313.34 570.05 314.62 571.23C315.89 572.41 318.26 572.96 320.08 573.96C321.9 574.96 323.91 576.24 325.55 577.24C327.19 578.24 328.46 578.42 329.92 579.97C331.38 581.52 332.83 584.34 334.29 586.53C335.75 588.72 337.02 591.08 338.66 593.09C340.3 595.09 342.67 596.55 344.13 598.55C345.58 600.56 346.31 602.19 347.4 605.11C348.5 608.02 349.59 611.67 350.68 616.04C351.78 620.41 352.69 626.79 353.96 631.34C355.24 635.89 356.88 639.54 358.33 643.36C359.79 647.19 360.73 645.45 362.7 654.29C364.68 663.13 368.65 686.64 370.16 696.39C371.68 706.14 371.29 707.32 371.8 712.79C372.31 718.25 372.9 724.44 373.22 729.18C373.55 733.92 373.55 736.65 373.77 741.2C373.99 745.76 374.28 751.22 374.54 756.5C374.79 761.79 375.06 767.43 375.3 772.9C375.54 778.36 375.46 782.8 375.96 789.29C376.45 795.78 377.75 805.06 378.25 811.86C378.76 818.66 378.71 824 378.98 830.07C379.25 836.14 379.54 841.61 379.85 848.29C380.17 854.97 380.58 862.86 380.87 870.15C381.17 877.43 381.44 884.72 381.6 892C381.77 899.29 381.83 908.73 381.87 913.86C381.91 919 381.67 918.27 381.87 922.82C382.07 927.36 382.71 934.55 383.1 941.13C383.49 947.7 383.87 955.21 384.23 962.25C384.58 969.3 384.88 976.34 385.21 983.38C385.54 990.42 385.73 999.34 386.2 1004.51C386.67 1009.67 387.09 1012.72 388.03 1014.37C388.97 1016.01 390.82 1016.48 391.83 1014.37C392.84 1012.25 393.43 1005.21 394.08 1001.69C394.74 998.17 395.02 995.12 395.77 993.24C396.53 991.36 397.65 990.66 398.59 990.42C399.53 990.19 400.23 990.89 401.41 991.83C402.58 992.77 403.76 995.12 405.63 996.06C407.51 997 410.33 997.35 412.68 997.46C415.02 997.58 417.37 996.76 419.72 996.76C422.07 996.76 424.41 997.11 426.76 997.46C429.11 997.82 429.11 998.4 433.8 998.87C438.5 999.34 446.71 999.93 454.93 1000.28C463.15 1000.63 473.71 1000.99 483.1 1000.99C492.49 1000.99 505.16 1000.16 511.27 1000.28C517.37 1000.4 517.32 1001.22 519.72 1001.69C522.11 1002.16 524.65 1002.86 525.63 1003.1"/>
</g>
<text x="66.1" y="1039.3" font-size="25" text-anchor="middle" fill="#000">0</text>
<text x="191.09" y="1039.3" font-size="25" text-anchor="middle" fill="#000">5</text>
<text x="316.07" y="1039.3" font-size="25" text-anchor="middle" fill="#000">10</text>
<text x="441.06" y="1039.3" font-size="25" text-anchor="middle" fill="#000">15</text>
<path d="M66.1 1008.5v6M191.09 1008.5v6M316.07 1008.5v6M441.06 1008.5v6" stroke="#000" stroke-width="1.5" fill="none"/>
<path d="M66.1 1008.5h-6" stroke="#000" stroke-width="2.1" fill="none"/>
<text x="53.6" y="1017.8" font-size="25" text-anchor="end" fill="#000">0.0</text>
<path d="M66.1 919.43h-6" stroke="#000" stroke-width="2.1" fill="none"/>
<text x="53.6" y="928.73" font-size="25" text-anchor="end" fill="#000">0.5</text>
<path d="M66.1 830.35h-6" stroke="#000" stroke-width="1.7" fill="none"/>
<text x="53.6" y="839.65" font-size="25" text-anchor="end" fill="#000">1.0</text>
<path d="M66.1 741.28h-6" stroke="#000" stroke-width="1.7" fill="none"/>
<text x="53.6" y="750.58" font-size="25" text-anchor="end" fill="#000">1.5</text>
<path d="M66.1 652.2h-6" stroke="#000" stroke-width="1.4" fill="none"/>
<text x="53.6" y="661.5" font-size="25" text-anchor="end" fill="#000">2.0</text>
<path d="M66.1 563.13h-6" stroke="#000" stroke-width="1.2" fill="none"/>
<text x="53.6" y="572.43" font-size="25" text-anchor="end" fill="#000">2.5</text>
<g stroke="#000" fill="none">
<path d="M65.2 527.5H526.6" stroke-width="1.45"/>
<path d="M65.2 1008.5H526.6" stroke-width="1.8"/>
<path d="M66.1 526.77V1009.4" stroke-width="1.8"/>
<path d="M525.8 526.77V1009.4" stroke-width="1.6"/>
</g>
<text x="295.95" y="1077.2" font-size="28.2" text-anchor="middle" fill="#000">Cross profile (mm)</text>
<path d="M595.3 912.3H1055" stroke="#808080" stroke-opacity="0.48" stroke-width="1" stroke-dasharray="5.2 2.25" fill="none"/>
<path d="M595.3 816.1H1055" stroke="#808080" stroke-opacity="0.55" stroke-width="1.6" stroke-dasharray="5.2 2.25" fill="none"/>
<path d="M595.3 719.9H1055" stroke="#808080" stroke-opacity="0.62" stroke-width="2" stroke-dasharray="5.2 2.25" fill="none"/>
<path d="M595.3 623.7H1055" stroke="#808080" stroke-opacity="0.48" stroke-width="1" stroke-dasharray="5.2 2.25" fill="none"/>
<g clip-path="url(#cp1)" fill="none" stroke-width="3.5" stroke-linejoin="round">
<path stroke="#1f77b4" stroke-opacity="0.6" d="M595.2 527.5C611.83 527.5 675.87 527.45 695 527.5C714.13 527.55 706.46 527.54 710 527.8C713.54 528.06 714.22 528.27 716.23 529.03C718.24 529.8 720.12 530.98 722.06 532.39C724 533.79 725.94 535.42 727.89 537.49C729.83 539.55 731.77 542.1 733.72 544.77C735.66 547.44 737.72 550.36 739.54 553.52C741.37 556.67 742.94 560.07 744.64 563.72C746.34 567.36 748.17 571.49 749.74 575.37C751.32 579.26 752.66 582.66 754.12 587.03C755.57 591.4 757.15 596.99 758.49 601.6C759.82 606.22 761.16 611.03 762.13 614.72C763.1 618.41 763.47 619.87 764.32 623.75C765.17 627.64 766.26 633.22 767.23 638.03C768.2 642.84 769.17 647.75 770.15 652.6C771.12 657.46 771.98 661.61 773.06 667.18C774.14 672.75 775.55 679.97 776.63 686.03C777.71 692.09 778.62 697.86 779.54 703.52C780.47 709.17 781.24 714.4 782.17 719.98C783.09 725.57 784.11 731.28 785.08 737.03C786.05 742.79 787.02 748.69 788 754.52C788.97 760.35 789.94 766.17 790.91 772C791.88 777.83 792.93 783.9 793.83 789.49C794.72 795.08 795.57 801.15 796.3 805.52C797.03 809.89 797.81 811.64 798.2 815.72C798.58 819.8 798.3 826.27 798.62 830.02C798.93 833.77 799.22 833.81 800.07 838.21C800.92 842.62 802.44 850.05 803.72 856.43C804.99 862.81 806.36 870.09 807.72 876.47C809.09 882.84 810.52 888.7 811.91 894.68C813.31 900.66 814.74 906.89 816.1 912.35C817.47 917.81 818.68 922.22 820.11 927.47C821.54 932.72 822.99 938.7 824.66 943.86C826.33 949.02 828.15 953.58 830.13 958.43C832.1 963.29 834.23 968.76 836.5 973.01C838.78 977.26 841.06 980.6 843.79 983.93C846.52 987.27 849.56 990.31 852.9 993.04C856.24 995.77 859.88 998.51 863.83 1000.33C867.77 1002.15 872.02 1003 876.58 1003.97C881.13 1004.94 886.29 1005.64 891.15 1006.16C896 1006.67 900.26 1006.82 905.72 1007.07C911.18 1007.31 918.22 1007.43 923.93 1007.61C929.65 1007.8 918.17 1008.07 940 1008.2C961.83 1008.33 1035.75 1008.37 1054.9 1008.4"/>
<path stroke="#ff7f0e" stroke-opacity="0.6" d="M595.2 527.5C609.33 527.5 662.87 527.45 680 527.5C697.13 527.55 694.15 527.54 698 527.8C701.85 528.06 701.29 528.15 703.11 529.03C704.94 529.92 707 531.46 708.94 533.11C710.89 534.77 712.83 536.76 714.77 538.94C716.72 541.13 718.66 543.56 720.6 546.23C722.54 548.9 724.49 551.82 726.43 554.97C728.37 558.13 730.32 561.53 732.26 565.17C734.2 568.82 736.27 572.94 738.09 576.83C739.91 580.72 741.49 584.12 743.19 588.49C744.89 592.86 746.71 598.45 748.29 603.06C749.87 607.67 751.57 612.73 752.66 616.17C753.75 619.62 753.87 620.11 754.85 623.75C755.82 627.4 757.15 632.98 758.49 638.03C759.82 643.08 761.4 648.48 762.86 654.06C764.32 659.65 766.03 666.22 767.23 671.55C768.43 676.88 768.99 680.7 770.07 686.03C771.15 691.36 772.57 697.86 773.72 703.52C774.86 709.17 775.83 714.4 776.92 719.98C778.01 725.57 779.11 731.28 780.27 737.03C781.44 742.79 782.7 748.69 783.92 754.52C785.13 760.35 786.34 766.17 787.56 772C788.77 777.83 789.99 783.9 791.2 789.49C792.42 795.08 793.83 801.15 794.85 805.52C795.87 809.89 796.54 811.64 797.32 815.72C798.1 819.8 798.92 826.57 799.53 830.02C800.14 833.46 799.98 831.99 800.98 836.39C801.99 840.8 803.87 849.75 805.54 856.43C807.21 863.11 809.18 870.09 811 876.47C812.82 882.84 814.64 888.7 816.47 894.68C818.29 900.66 820.11 906.58 821.93 912.35C823.75 918.12 825.57 924.04 827.4 929.29C829.22 934.54 831.04 939.31 832.86 943.86C834.68 948.42 836.2 952.36 838.32 956.61C840.45 960.86 842.88 965.42 845.61 969.36C848.34 973.31 851.38 976.95 854.72 980.29C858.06 983.63 861.7 986.67 865.65 989.4C869.59 992.13 874.15 994.71 878.4 996.68C882.65 998.66 886.59 999.96 891.15 1001.24C895.7 1002.51 900.26 1003.52 905.72 1004.34C911.18 1005.15 917.86 1005.7 923.93 1006.16C930.01 1006.61 936.14 1006.76 942.15 1007.07C948.16 1007.37 941.21 1007.79 960 1008C978.79 1008.21 1039.08 1008.25 1054.9 1008.3"/>
<path stroke="#2ca02c" stroke-opacity="0.6" d="M595.2 527.5C613.5 527.5 683.87 527.47 705 527.5C726.13 527.53 718.43 527.42 722 527.7C725.57 527.98 724.48 528.81 726.43 529.18C728.38 529.55 731.29 529.62 733.72 529.91C736.14 530.2 738.57 530.39 741 530.93C743.43 531.46 746.1 532.26 748.29 533.11C750.47 533.96 752.42 534.81 754.12 536.03C755.82 537.24 757.03 538.7 758.49 540.4C759.95 542.1 761.4 544.04 762.86 546.23C764.32 548.42 765.9 550.6 767.23 553.52C768.57 556.43 769.78 560.32 770.87 563.72C771.97 567.12 772.82 570.52 773.79 573.92C774.76 577.32 775.85 580.47 776.7 584.12C777.55 587.76 778.16 591.4 778.89 595.77C779.62 600.15 780.47 605.68 781.07 610.35C781.68 615.01 781.92 618.65 782.53 623.75C783.14 628.85 784.11 635.65 784.72 640.95C785.32 646.24 785.64 650.66 786.17 655.52C786.71 660.38 787.38 665.01 787.92 670.09C788.47 675.18 788.96 680.46 789.45 686.03C789.95 691.6 790.43 697.86 790.91 703.52C791.4 709.17 791.88 714.4 792.37 719.98C792.85 725.57 793.34 731.28 793.83 737.03C794.31 742.79 794.8 748.69 795.28 754.52C795.77 760.35 796.25 766.17 796.74 772C797.23 777.83 797.76 783.9 798.2 789.49C798.63 795.08 799.02 801.15 799.36 805.52C799.7 809.89 799.91 811.64 800.24 815.72C800.57 819.8 801.01 826.27 801.35 830.02C801.68 833.77 801.8 833.81 802.26 838.21C802.71 842.62 803.47 850.05 804.08 856.43C804.69 862.81 805.29 870.09 805.9 876.47C806.51 882.84 807.12 888.7 807.72 894.68C808.33 900.66 808.85 906.28 809.54 912.35C810.24 918.42 811.06 924.95 811.91 931.11C812.76 937.27 813.58 943.25 814.64 949.33C815.71 955.4 816.92 961.77 818.29 967.54C819.65 973.31 821.17 979.38 822.84 983.93C824.51 988.49 826.33 991.83 828.31 994.86C830.28 997.9 832.4 1000.39 834.68 1002.15C836.96 1003.91 839.23 1004.64 841.97 1005.43C844.7 1006.22 846.52 1006.52 851.07 1006.89C855.63 1007.25 861.14 1007.38 869.29 1007.61C877.44 1007.85 869.06 1008.17 900 1008.3C930.94 1008.43 1029.08 1008.38 1054.9 1008.4"/>
</g>
<text x="595.3" y="1039.3" font-size="25" text-anchor="middle" fill="#000">0</text>
<text x="710.22" y="1039.3" font-size="25" text-anchor="middle" fill="#000">2</text>
<text x="825.15" y="1039.3" font-size="25" text-anchor="middle" fill="#000">4</text>
<text x="940.08" y="1039.3" font-size="25" text-anchor="middle" fill="#000">6</text>
<text x="1055" y="1039.3" font-size="25" text-anchor="middle" fill="#000">8</text>
<path d="M595.3 1008.5v6M710.22 1008.5v6M825.15 1008.5v6M940.08 1008.5v6M1055 1008.5v6" stroke="#000" stroke-width="1.5" fill="none"/>
<path d="M595.3 1008.5h-6" stroke="#000" stroke-width="2.1" fill="none"/>
<text x="582.8" y="1017.8" font-size="25" text-anchor="end" fill="#000">0.0</text>
<path d="M595.3 912.3h-6" stroke="#000" stroke-width="1.2" fill="none"/>
<text x="582.8" y="921.6" font-size="25" text-anchor="end" fill="#000">0.2</text>
<path d="M595.3 816.1h-6" stroke="#000" stroke-width="1.7" fill="none"/>
<text x="582.8" y="825.4" font-size="25" text-anchor="end" fill="#000">0.4</text>
<path d="M595.3 719.9h-6" stroke="#000" stroke-width="2.1" fill="none"/>
<text x="582.8" y="729.2" font-size="25" text-anchor="end" fill="#000">0.6</text>
<path d="M595.3 623.7h-6" stroke="#000" stroke-width="1.2" fill="none"/>
<text x="582.8" y="633" font-size="25" text-anchor="end" fill="#000">0.8</text>
<path d="M595.3 527.5h-6" stroke="#000" stroke-width="1.4" fill="none"/>
<text x="582.8" y="536.8" font-size="25" text-anchor="end" fill="#000">1.0</text>
<g stroke="#000" fill="none">
<path d="M594.57 527.5H1055.9" stroke-width="1.45"/>
<path d="M594.57 1008.5H1055.9" stroke-width="1.8"/>
<path d="M595.3 526.77V1009.4" stroke-width="1.45"/>
<path d="M1055 526.77V1009.4" stroke-width="1.8"/>
</g>
<text x="825.15" y="1077.2" font-size="28.2" text-anchor="middle" fill="#000">Distance from center (mm)</text>
<text x="854.1" y="575.5" font-size="28.2" text-anchor="start" fill="#000">Circular ESF</text>
<path d="M1124.9 912.3H1584.7" stroke="#808080" stroke-opacity="0.48" stroke-width="1" stroke-dasharray="5.2 2.25" fill="none"/>
<path d="M1124.9 816.1H1584.7" stroke="#808080" stroke-opacity="0.55" stroke-width="1.6" stroke-dasharray="5.2 2.25" fill="none"/>
<path d="M1124.9 719.9H1584.7" stroke="#808080" stroke-opacity="0.62" stroke-width="2" stroke-dasharray="5.2 2.25" fill="none"/>
<path d="M1124.9 623.7H1584.7" stroke="#808080" stroke-opacity="0.48" stroke-width="1" stroke-dasharray="5.2 2.25" fill="none"/>
<g clip-path="url(#cp2)" fill="none" stroke-width="3.5" stroke-linejoin="round">
<path stroke="#1f77b4" stroke-opacity="0.6" d="M1124.7 527.5L1144 568.9L1163.3 672L1182.6 787L1201.9 881L1221.2 942L1240.5 972.6L1259.8 986.1L1279.1 993.6L1298.4 1000.3L1317.7 1005.4L1337 1006.9L1356.3 1007.2L1375.6 1007.4L1394.9 1007.5L1414.2 1007.5L1433.5 1007.5L1452.8 1007.5L1472.1 1007.5L1491.4 1007.5L1510.7 1007.5L1530 1007.5L1549.3 1007.5L1568.6 1007.5L1587.9 1007.5"/>
<path stroke="#ff7f0e" stroke-opacity="0.6" d="M1124.7 527.5L1144 593.7L1163.3 749.8L1182.6 876.5L1201.9 957.9L1221.2 991.2L1240.5 995.2L1259.8 997.6L1279.1 1000.9L1298.4 1003L1317.7 1004.2L1337 1004.6L1356.3 1005L1375.6 1005.3L1394.9 1005.6L1414.2 1005.9L1433.5 1006.2L1452.8 1006.4L1472.1 1006.6L1491.4 1006.8L1510.7 1007L1530 1007L1549.3 1007L1568.6 1007L1587.9 1007"/>
<path stroke="#2ca02c" stroke-opacity="0.6" d="M1124.7 527.5L1144 541.2L1163.3 579.8L1182.6 635.3L1201.9 696.6L1221.2 759.8L1240.5 812.4L1259.8 857.3L1279.1 895L1298.4 924.2L1317.7 947.5L1337 963L1356.3 975.7L1375.6 986L1394.9 992.5L1414.2 997.4L1433.5 1001L1452.8 1003.5L1472.1 1005L1491.4 1006L1510.7 1006.5L1530 1006.8L1549.3 1007L1568.6 1007.2L1587.9 1007.3"/>
<path stroke="#808080" stroke-opacity="0.8" stroke-dasharray="13.0 5.66" stroke-dashoffset="-0.7" d="M1124.9 960.4H1584.7"/>
</g>
<circle cx="1233.5" cy="960.4" r="5.5" fill="#1f77b4" fill-opacity="0.6"/>
<circle cx="1203" cy="960.4" r="5.5" fill="#ff7f0e" fill-opacity="0.6"/>
<circle cx="1334" cy="960.4" r="5.5" fill="#2ca02c" fill-opacity="0.6"/>
<text x="1411.8" y="950.7" font-size="26.4" text-anchor="start" fill="#666666">10% MTF</text>
<text x="1239.4" y="575.6" font-size="28.2" text-anchor="start" fill="#000">MTF</text>
<text x="1124.9" y="1039.3" font-size="25" text-anchor="middle" fill="#000">0</text>
<text x="1239.85" y="1039.3" font-size="25" text-anchor="middle" fill="#000">1</text>
<text x="1354.8" y="1039.3" font-size="25" text-anchor="middle" fill="#000">2</text>
<text x="1469.75" y="1039.3" font-size="25" text-anchor="middle" fill="#000">3</text>
<text x="1584.7" y="1039.3" font-size="25" text-anchor="middle" fill="#000">4</text>
<path d="M1124.9 1008.5v6M1239.85 1008.5v6M1354.8 1008.5v6M1469.75 1008.5v6M1584.7 1008.5v6" stroke="#000" stroke-width="1.5" fill="none"/>
<path d="M1124.9 1008.5h-6" stroke="#000" stroke-width="2.1" fill="none"/>
<text x="1112.4" y="1017.8" font-size="25" text-anchor="end" fill="#000">0.0</text>
<path d="M1124.9 912.3h-6" stroke="#000" stroke-width="1.2" fill="none"/>
<text x="1112.4" y="921.6" font-size="25" text-anchor="end" fill="#000">0.2</text>
<path d="M1124.9 816.1h-6" stroke="#000" stroke-width="1.7" fill="none"/>
<text x="1112.4" y="825.4" font-size="25" text-anchor="end" fill="#000">0.4</text>
<path d="M1124.9 719.9h-6" stroke="#000" stroke-width="2.1" fill="none"/>
<text x="1112.4" y="729.2" font-size="25" text-anchor="end" fill="#000">0.6</text>
<path d="M1124.9 623.7h-6" stroke="#000" stroke-width="1.2" fill="none"/>
<text x="1112.4" y="633" font-size="25" text-anchor="end" fill="#000">0.8</text>
<path d="M1124.9 527.5h-6" stroke="#000" stroke-width="1.4" fill="none"/>
<text x="1112.4" y="536.8" font-size="25" text-anchor="end" fill="#000">1.0</text>
<g stroke="#000" fill="none">
<path d="M1124.1 527.5H1585.45" stroke-width="1.45"/>
<path d="M1124.1 1008.5H1585.45" stroke-width="1.8"/>
<path d="M1124.9 526.77V1009.4" stroke-width="1.6"/>
<path d="M1584.7 526.77V1009.4" stroke-width="1.5"/>
</g>
<text x="1355.7" y="1077.7" font-size="28.2" text-anchor="middle">Spatial frequency (mm<tspan font-size="19.74" dy="-10">−1</tspan><tspan dy="10">)</tspan></text>
<rect x="1438.3" y="540.2" width="133.2" height="124.4" rx="4" fill="#fff" fill-opacity="0.8" stroke="#ccc" stroke-width="1.5"/>
<path d="M1447.7 562.1H1469.7" stroke="#1f77b4" stroke-opacity="0.6" stroke-width="3.5"/>
<text x="1486" y="571.2" font-size="26.4" text-anchor="start" fill="#000">Small</text>
<path d="M1447.7 600.8H1469.7" stroke="#ff7f0e" stroke-opacity="0.6" stroke-width="3.5"/>
<text x="1486" y="609.9" font-size="26.4" text-anchor="start" fill="#000">Large</text>
<path d="M1447.7 639.5H1469.7" stroke="#2ca02c" stroke-opacity="0.6" stroke-width="3.5"/>
<text x="1486" y="648.6" font-size="26.4" text-anchor="start" fill="#000">Point</text>
</svg>
</body></html>
